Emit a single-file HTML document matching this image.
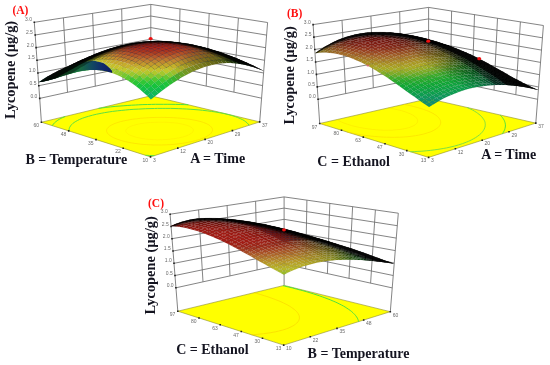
<!DOCTYPE html>
<html><head><meta charset="utf-8"><style>
html,body{margin:0;padding:0;background:#fff;}
svg{display:block;}
</style></head><body>
<svg width="550" height="365" viewBox="0 0 550 365">
<rect width="550" height="365" fill="#fff"/>
<path d="M39.7 98.4L150.8 74M150.8 74L261.6 98.2M38.8 85.7L150.8 62.4M150.8 62.4L262.6 85.6M37.9 73L150.8 50.8M150.8 50.8L263.6 73M37 60.3L150.8 39.2M150.8 39.2L264.6 60.3M36.1 47.6L150.8 27.6M150.8 27.6L265.6 47.7M35.2 35L150.8 16M150.8 16L266.6 35.1M34.3 22.3L150.8 4.4M150.8 4.4L267.6 22.5M67.5 92.3L63.4 17.8M95.3 86.2L92.6 13.3M123 80.1L121.7 8.9M233.9 92.1L238.4 18M206.2 86.1L209.2 13.4M178.5 80L180 8.9M41.4 122.2L34.3 22.3M150.8 95.8L150.8 4.4M259.7 121.9L267.6 22.5" stroke="#6e6e6e" stroke-width="0.85" fill="none"/>
<polygon points="41.4,122.2 150.5,156.9 259.7,121.9 150.8,95.8" fill="#ffff00" stroke="#8c8c30" stroke-width="0.6"/>
<path d="M188.3 104.8L184.8 104.6L180.2 104.5L175.4 104.4L172 104.3L167.9 104.3L163.3 104.3L160 104.3L155.3 104.3L151.4 104.4L147.7 104.5L142.9 104.6L138.8 104.8L135.4 105L131.5 105.2L127.2 105.5L123.1 105.8L119 106.1L115.1 106.4L110.5 106.9L105.9 107.4L102.3 107.9L98.5 108.4" fill="none" stroke="#50e040" stroke-width="1.0"/>
<path d="M65.2 116.5L62.8 117.5L60.9 118.4L59.1 119.4L57.2 120.6L55.7 121.8L54.5 122.8L53.6 123.8L52.7 125L52.3 125.7" fill="none" stroke="#50e040" stroke-width="1.0"/>
<path d="M145.6 155.3L149.5 155.5L154.6 155.6L154.6 155.6" fill="none" stroke="#60e040" stroke-width="1.0"/>
<path d="M249.1 125.3L248.2 124L247.1 122.9L245.8 121.8L244.3 120.7L242.6 119.7L240.7 118.8L237.7 117.5L235.5 116.7L231.9 115.5L228 114.5L223.9 113.5L219.4 112.7L215 111.9L211.4 111.4L207.8 110.9L202.6 110.3L198.9 109.9L195 109.6L190.9 109.3L186.7 109L182.3 108.8L178.2 108.6L175 108.5L170.6 108.4L165.9 108.4L162.9 108.4L157.6 108.4L154.5 108.5L150 108.6L145.3 108.7L142 108.9L138.3 109.1L133.9 109.3L129.8 109.6L125.7 110L121.8 110.4L117.6 110.8L112.7 111.4L109.2 111.9L104.3 112.7L101.2 113.3L96.7 114.2L92.5 115.2L88.5 116.3L84.9 117.4L82.6 118.2L79.4 119.5L77.5 120.5L75.8 121.4L74.1 122.5L72.6 123.6L71.5 124.7L70.5 126L69.7 127.3L69.3 128.3L69.1 129.4L69.1 130.8L69.2 131" fill="none" stroke="#60e040" stroke-width="1.0"/>
<path d="M124.6 120.7L120.3 121.7L116.5 122.9L114.2 123.7L111.6 125L109.5 126.2L108.2 127.4L107.3 128.4L106.8 129.3L106.6 130.8L106.7 131.7L107.4 133.1L108.5 134.4L110 135.6L111.7 136.7L113.7 137.8L117.2 139.2L121.2 140.5L125.6 141.7L128.8 142.4L134.1 143.3L137.9 143.8L141.9 144.3L146.2 144.6L150.1 144.8L153.3 145L158.5 145L161.6 145L166.6 144.8L170.6 144.6L174.1 144.3L178.1 143.9L182.6 143.3L187.1 142.5L190.5 141.8L195.2 140.7L199.4 139.5L203.2 138.1L206.5 136.5L208.3 135.4L209.9 134.3L211.2 133L212.1 131.6L212.5 130.7L212.5 129.4L212.2 128.4L211.4 127.1L210.2 125.9L208.7 124.8L206.8 123.8L203.6 122.5L201.2 121.7L197.1 120.7L194.1 120.1L189.2 119.2L185.7 118.8L182 118.3L177.8 118L173.7 117.7L169.2 117.5L164.3 117.4L161.4 117.4L156.1 117.4L153 117.5L148.9 117.7L144.5 118L140.4 118.3L136.5 118.8L132.8 119.2L127.7 120.1L124.6 120.7" fill="none" stroke="#fbd800" stroke-width="0.6"/>
<path d="M142.3 123.4L137.4 124.3L133.2 125.4L129.8 126.7L128 127.8L126.6 128.9L125.9 130.3L125.8 131.2L126.5 132.6L127.7 133.8L129.5 134.9L132.9 136.3L137 137.5L142 138.5L145.7 139L149.8 139.4L154.4 139.7L157.9 139.8L162.4 139.7L165.6 139.6L170 139.2L174 138.7L178.8 137.9L182.4 137.1L186.5 135.8L188.9 134.8L191.5 133.2L192.7 132L193.2 131.1L193.3 129.7L192.9 128.8L191.7 127.6L189.7 126.4L186.7 125.3L182.6 124.2L178.2 123.3L174.2 122.8L170.1 122.5L165.7 122.2L162.5 122.2L157.8 122.2L154.6 122.3L150.1 122.5L146 122.9L142.3 123.4" fill="none" stroke="#fde600" stroke-width="0.45"/>
<path d="M38.9 97.6h1.6v1.6h-1.6zM38 84.9h1.6v1.6h-1.6zM37.1 72.2h1.6v1.6h-1.6zM36.2 59.5h1.6v1.6h-1.6zM35.3 46.8h1.6v1.6h-1.6zM34.4 34.2h1.6v1.6h-1.6zM33.5 21.5h1.6v1.6h-1.6zM40.6 121.4h1.6v1.6h-1.6zM67.9 130.1h1.6v1.6h-1.6zM95.2 138.8h1.6v1.6h-1.6zM122.4 147.4h1.6v1.6h-1.6zM149.7 156.1h1.6v1.6h-1.6zM149.7 156.1h1.6v1.6h-1.6zM177 147.3h1.6v1.6h-1.6zM204.3 138.6h1.6v1.6h-1.6zM231.6 129.8h1.6v1.6h-1.6zM258.9 121.1h1.6v1.6h-1.6z" fill="#222"/>
<g stroke="#000" stroke-opacity="0.12" stroke-width="0.3"><polygon points="150.8,67.8 154.5,69.4 150.8,69.6 147.1,68.1" fill="#11285e"/><polygon points="154.5,67.5 158.2,69.1 154.5,69.4 150.8,67.8" fill="#132e6a"/><polygon points="147.1,66.4 150.8,67.8 147.1,68.1 143.3,66.8" fill="#112960"/><polygon points="158.2,67 161.9,68.8 158.2,69.1 154.5,67.5" fill="#153173"/><polygon points="150.8,65.9 154.5,67.5 150.8,67.8 147.1,66.4" fill="#132e6c"/><polygon points="143.3,65 147.1,66.4 143.3,66.8 139.6,65.5" fill="#112a62"/><polygon points="162,66.5 165.7,68.3 161.9,68.8 158.2,67" fill="#16347a"/><polygon points="154.5,65.3 158.2,67 154.5,67.5 150.8,65.9" fill="#153274"/><polygon points="147.1,64.4 150.8,65.9 147.1,66.4 143.3,65" fill="#132e6c"/><polygon points="139.6,63.7 143.3,65 139.6,65.5 135.9,64.3" fill="#122a62"/><polygon points="165.7,65.9 169.4,67.8 165.7,68.3 162,66.5" fill="#17377f"/><polygon points="158.3,64.7 162,66.5 158.2,67 154.5,65.3" fill="#16347a"/><polygon points="150.8,63.7 154.5,65.3 150.8,65.9 147.1,64.4" fill="#153274"/><polygon points="143.3,63 147.1,64.4 143.3,65 139.6,63.7" fill="#132f6d"/><polygon points="135.8,62.5 139.6,63.7 135.9,64.3 132.1,63.2" fill="#122a63"/><polygon points="169.5,65.3 173.2,67.3 169.4,67.8 165.7,65.9" fill="#173882"/><polygon points="162,64 165.7,65.9 162,66.5 158.3,64.7" fill="#17377f"/><polygon points="154.5,63 158.3,64.7 154.5,65.3 150.8,63.7" fill="#16347a"/><polygon points="147,62.2 150.8,63.7 147.1,64.4 143.3,63" fill="#153274"/><polygon points="139.5,61.7 143.3,63 139.6,63.7 135.8,62.5" fill="#132e6c"/><polygon points="132,61.5 135.8,62.5 132.1,63.2 128.3,62.3" fill="#122a62"/><polygon points="165.8,63.3 169.5,65.3 165.7,65.9 162,64" fill="#173883"/><polygon points="158.3,62.3 162,64 158.3,64.7 154.5,63" fill="#17367f"/><polygon points="150.8,61.4 154.5,63 150.8,63.7 147,62.2" fill="#16347a"/><polygon points="143.3,60.9 147,62.2 143.3,63 139.5,61.7" fill="#153173"/><polygon points="135.8,60.6 139.5,61.7 135.8,62.5 132,61.5" fill="#132e6b"/><polygon points="173.2,64.6 176.9,66.7 173.2,67.3 169.5,65.3" fill="#173883"/><polygon points="128.3,60.5 132,61.5 128.3,62.3 124.6,61.5" fill="#112a61"/><polygon points="169.5,62.6 173.2,64.6 169.5,65.3 165.8,63.3" fill="#183a86"/><polygon points="162,61.5 165.8,63.3 162,64 158.3,62.3" fill="#173883"/><polygon points="154.5,60.6 158.3,62.3 154.5,63 150.8,61.4" fill="#17367e"/><polygon points="147,60 150.8,61.4 147,62.2 143.3,60.9" fill="#163479"/><polygon points="139.5,59.6 143.3,60.9 139.5,61.7 135.8,60.6" fill="#143172"/><polygon points="132,59.5 135.8,60.6 132,61.5 128.3,60.5" fill="#132d6a"/><polygon points="177,63.9 180.7,66.1 176.9,66.7 173.2,64.6" fill="#173883"/><polygon points="124.5,59.7 128.3,60.5 124.6,61.5 120.8,60.8" fill="#11295f"/><polygon points="158.3,59.8 162,61.5 158.3,62.3 154.5,60.6" fill="#173882"/><polygon points="150.8,59.1 154.5,60.6 150.8,61.4 147,60" fill="#16367d"/><polygon points="143.3,58.7 147,60 143.3,60.9 139.5,59.6" fill="#153378"/><polygon points="180.8,63.3 184.4,65.5 180.7,66.1 177,63.9" fill="#173883"/><polygon points="173.3,61.9 177,63.9 173.2,64.6 169.5,62.6" fill="#183a88"/><polygon points="165.8,60.7 169.5,62.6 165.8,63.3 162,61.5" fill="#183985"/><polygon points="135.7,58.5 139.5,59.6 135.8,60.6 132,59.5" fill="#143071"/><polygon points="128.2,58.6 132,59.5 128.3,60.5 124.5,59.7" fill="#132c68"/><polygon points="120.7,59.1 124.5,59.7 120.8,60.8 117,60.2" fill="#11285c"/><polygon points="162.1,58.9 165.8,60.7 162,61.5 158.3,59.8" fill="#183984"/><polygon points="154.6,58.2 158.3,59.8 154.5,60.6 150.8,59.1" fill="#173781"/><polygon points="147,57.7 150.8,59.1 147,60 143.3,58.7" fill="#16357c"/><polygon points="139.5,57.5 143.3,58.7 139.5,59.6 135.7,58.5" fill="#153276"/><polygon points="184.5,62.6 188.2,64.9 184.4,65.5 180.8,63.3" fill="#173781"/><polygon points="177.1,61.1 180.8,63.3 177,63.9 173.3,61.9" fill="#183b89"/><polygon points="169.6,59.9 173.3,61.9 169.5,62.6 165.8,60.7" fill="#183a88"/><polygon points="132,57.5 135.7,58.5 132,59.5 128.2,58.6" fill="#142f6e"/><polygon points="124.4,57.9 128.2,58.6 124.5,59.7 120.7,59.1" fill="#122b65"/><polygon points="116.9,58.5 120.7,59.1 117,60.2 113.2,59.8" fill="#102659"/><polygon points="150.8,56.7 154.6,58.2 150.8,59.1 147,57.7" fill="#17367f"/><polygon points="188.3,61.9 192,64.2 188.2,64.9 184.5,62.6" fill="#17367e"/><polygon points="180.9,60.4 184.5,62.6 180.8,63.3 177.1,61.1" fill="#183a87"/><polygon points="173.4,59.1 177.1,61.1 173.3,61.9 169.6,59.9" fill="#183b89"/><polygon points="165.9,58.1 169.6,59.9 165.8,60.7 162.1,58.9" fill="#183a86"/><polygon points="158.3,57.2 162.1,58.9 158.3,59.8 154.6,58.2" fill="#173883"/><polygon points="143.2,56.4 147,57.7 143.3,58.7 139.5,57.5" fill="#16347a"/><polygon points="135.7,56.4 139.5,57.5 135.7,58.5 132,57.5" fill="#153173"/><polygon points="128.2,56.7 132,57.5 128.2,58.6 124.4,57.9" fill="#132e6b"/><polygon points="120.6,57.3 124.4,57.9 120.7,59.1 116.9,58.5" fill="#112a61"/><polygon points="113.1,58.2 116.9,58.5 113.2,59.8 109.4,59.5" fill="#0f2455"/><polygon points="154.6,55.7 158.3,57.2 154.6,58.2 150.8,56.7" fill="#173781"/><polygon points="147,55.3 150.8,56.7 147,57.7 143.2,56.4" fill="#16357d"/><polygon points="192.1,61.3 195.8,63.6 192,64.2 188.3,61.9" fill="#16357c"/><polygon points="184.7,59.7 188.3,61.9 184.5,62.6 180.9,60.4" fill="#183985"/><polygon points="177.2,58.4 180.9,60.4 177.1,61.1 173.4,59.1" fill="#193b8a"/><polygon points="169.6,57.2 173.4,59.1 169.6,59.9 165.9,58.1" fill="#183a87"/><polygon points="162.1,56.3 165.9,58.1 162.1,58.9 158.3,57.2" fill="#183985"/><polygon points="139.5,55.3 143.2,56.4 139.5,57.5 135.7,56.4" fill="#153377"/><polygon points="131.9,55.5 135.7,56.4 132,57.5 128.2,56.7" fill="#143070"/><polygon points="124.4,56 128.2,56.7 124.4,57.9 120.6,57.3" fill="#132c68"/><polygon points="116.8,56.8 120.6,57.3 116.9,58.5 113.1,58.2" fill="#11285d"/><polygon points="109.3,58 113.1,58.2 109.4,59.5 105.6,59.4" fill="#0e224f"/><polygon points="195.9,60.7 199.6,63.1 195.8,63.6 192.1,61.3" fill="#163479"/><polygon points="188.5,59.1 192.1,61.3 188.3,61.9 184.7,59.7" fill="#173882"/><polygon points="181,57.6 184.7,59.7 180.9,60.4 177.2,58.4" fill="#193b8a"/><polygon points="173.4,56.4 177.2,58.4 173.4,59.1 169.6,57.2" fill="#183a88"/><polygon points="165.9,55.4 169.6,57.2 165.9,58.1 162.1,56.3" fill="#183986"/><polygon points="158.4,54.7 162.1,56.3 158.3,57.2 154.6,55.7" fill="#173882"/><polygon points="150.8,54.3 154.6,55.7 150.8,56.7 147,55.3" fill="#17367f"/><polygon points="143.2,54.1 147,55.3 143.2,56.4 139.5,55.3" fill="#16347a"/><polygon points="135.7,54.3 139.5,55.3 135.7,56.4 131.9,55.5" fill="#153274"/><polygon points="128.1,54.7 131.9,55.5 128.2,56.7 124.4,56" fill="#132e6c"/><polygon points="120.6,55.5 124.4,56 120.6,57.3 116.8,56.8" fill="#122a63"/><polygon points="113,56.5 116.8,56.8 113.1,58.2 109.3,58" fill="#102557"/><polygon points="105.5,57.9 109.3,58 105.6,59.4 101.8,59.4" fill="#0d1f48"/><polygon points="199.7,60.2 203.4,62.6 199.6,63.1 195.9,60.7" fill="#153275"/><polygon points="192.3,58.4 195.9,60.7 192.1,61.3 188.5,59.1" fill="#16367e"/><polygon points="184.8,56.9 188.5,59.1 184.7,59.7 181,57.6" fill="#183a87"/><polygon points="177.2,55.6 181,57.6 177.2,58.4 173.4,56.4" fill="#183a88"/><polygon points="169.7,54.6 173.4,56.4 169.6,57.2 165.9,55.4" fill="#183986"/><polygon points="162.2,53.8 165.9,55.4 162.1,56.3 158.4,54.7" fill="#173883"/><polygon points="139.4,53.1 143.2,54.1 139.5,55.3 135.7,54.3" fill="#153376"/><polygon points="131.9,53.4 135.7,54.3 131.9,55.5 128.1,54.7" fill="#143070"/><polygon points="124.3,54.1 128.1,54.7 124.4,56 120.6,55.5" fill="#132c68"/><polygon points="116.8,55.1 120.6,55.5 116.8,56.8 113,56.5" fill="#11285d"/><polygon points="109.3,56.4 113,56.5 109.3,58 105.5,57.9" fill="#0e2250"/><polygon points="101.8,58 105.5,57.9 101.8,59.4 98.1,59.5" fill="#0b1b3f"/><polygon points="154.6,53.3 158.4,54.7 154.6,55.7 150.8,54.3" fill="#173780"/><polygon points="147,53 150.8,54.3 147,55.3 143.2,54.1" fill="#16357c"/><polygon points="203.5,59.7 207.2,62.1 203.4,62.6 199.7,60.2" fill="#143071"/><polygon points="196.1,57.9 199.7,60.2 195.9,60.7 192.3,58.4" fill="#16347a"/><polygon points="188.6,56.3 192.3,58.4 188.5,59.1 184.8,56.9" fill="#173882"/><polygon points="181.1,54.9 184.8,56.9 181,57.6 177.2,55.6" fill="#183a88"/><polygon points="173.5,53.8 177.2,55.6 173.4,56.4 169.7,54.6" fill="#183986"/><polygon points="166,52.9 169.7,54.6 165.9,55.4 162.2,53.8" fill="#173883"/><polygon points="135.6,52.2 139.4,53.1 135.7,54.3 131.9,53.4" fill="#143172"/><polygon points="128.1,52.8 131.9,53.4 128.1,54.7 124.3,54.1" fill="#132e6b"/><polygon points="120.5,53.7 124.3,54.1 120.6,55.5 116.8,55.1" fill="#112a62"/><polygon points="113,54.9 116.8,55.1 113,56.5 109.3,56.4" fill="#0f2556"/><polygon points="105.5,56.4 109.3,56.4 105.5,57.9 101.8,58" fill="#0d1e47"/><polygon points="98,58.3 101.8,58 98.1,59.5 94.3,59.9" fill="#091633"/><polygon points="158.4,52.3 162.2,53.8 158.4,54.7 154.6,53.3" fill="#173780"/><polygon points="143.2,51.9 147,53 143.2,54.1 139.4,53.1" fill="#153378"/><polygon points="150.8,52 154.6,53.3 150.8,54.3 147,53" fill="#16357d"/><polygon points="207.4,59.3 211,61.7 207.2,62.1 203.5,59.7" fill="#132e6c"/><polygon points="199.9,57.4 203.5,59.7 199.7,60.2 196.1,57.9" fill="#153275"/><polygon points="192.4,55.7 196.1,57.9 192.3,58.4 188.6,56.3" fill="#16367d"/><polygon points="184.9,54.3 188.6,56.3 184.8,56.9 181.1,54.9" fill="#183a86"/><polygon points="177.3,53 181.1,54.9 177.2,55.6 173.5,53.8" fill="#183985"/><polygon points="169.8,52.1 173.5,53.8 169.7,54.6 166,52.9" fill="#173883"/><polygon points="131.8,51.5 135.6,52.2 131.9,53.4 128.1,52.8" fill="#132f6d"/><polygon points="124.3,52.3 128.1,52.8 124.3,54.1 120.5,53.7" fill="#122b65"/><polygon points="116.7,53.4 120.5,53.7 116.8,55.1 113,54.9" fill="#10275a"/><polygon points="109.2,54.9 113,54.9 109.3,56.4 105.5,56.4" fill="#0e214d"/><polygon points="101.7,56.6 105.5,56.4 101.8,58 98,58.3" fill="#0b1a3c"/><polygon points="94.2,58.7 98,58.3 94.3,59.9 90.5,60.4" fill="#071025"/><polygon points="162.2,51.3 166,52.9 162.2,53.8 158.4,52.3" fill="#173780"/><polygon points="139.4,51 143.2,51.9 139.4,53.1 135.6,52.2" fill="#153173"/><polygon points="154.6,50.9 158.4,52.3 154.6,53.3 150.8,52" fill="#16367d"/><polygon points="147,50.8 150.8,52 147,53 143.2,51.9" fill="#163479"/><polygon points="211.2,59 214.8,61.4 211,61.7 207.4,59.3" fill="#122c67"/><polygon points="203.7,57 207.4,59.3 203.5,59.7 199.9,57.4" fill="#14306f"/><polygon points="196.2,55.2 199.9,57.4 196.1,57.9 192.4,55.7" fill="#153378"/><polygon points="188.7,53.7 192.4,55.7 188.6,56.3 184.9,54.3" fill="#173781"/><polygon points="181.2,52.4 184.9,54.3 181.1,54.9 177.3,53" fill="#183884"/><polygon points="173.6,51.3 177.3,53 173.5,53.8 169.8,52.1" fill="#173882"/><polygon points="128,50.9 131.8,51.5 128.1,52.8 124.3,52.3" fill="#122c66"/><polygon points="120.5,52 124.3,52.3 120.5,53.7 116.7,53.4" fill="#11285d"/><polygon points="112.9,53.3 116.7,53.4 113,54.9 109.2,54.9" fill="#0e2351"/><polygon points="105.4,55 109.2,54.9 105.5,56.4 101.7,56.6" fill="#0c1c41"/><polygon points="97.9,57 101.7,56.6 98,58.3 94.2,58.7" fill="#08132d"/><polygon points="90.4,59.3 94.2,58.7 90.5,60.4 86.7,61" fill="#030711"/><polygon points="166,50.5 169.8,52.1 166,52.9 162.2,51.3" fill="#17377f"/><polygon points="135.6,50.2 139.4,51 135.6,52.2 131.8,51.5" fill="#142f6e"/><polygon points="158.4,50 162.2,51.3 158.4,52.3 154.6,50.9" fill="#16357c"/><polygon points="150.8,49.7 154.6,50.9 150.8,52 147,50.8" fill="#163479"/><polygon points="143.2,49.8 147,50.8 143.2,51.9 139.4,51" fill="#153274"/><polygon points="215,58.8 218.6,61.2 214.8,61.4 211.2,59" fill="#112960"/><polygon points="207.5,56.7 211.2,59 207.4,59.3 203.7,57" fill="#132d69"/><polygon points="200,54.9 203.7,57 199.9,57.4 196.2,55.2" fill="#143172"/><polygon points="192.5,53.2 196.2,55.2 192.4,55.7 188.7,53.7" fill="#16357b"/><polygon points="185,51.8 188.7,53.7 184.9,54.3 181.2,52.4" fill="#173882"/><polygon points="177.4,50.6 181.2,52.4 177.3,53 173.6,51.3" fill="#173780"/><polygon points="124.2,50.5 128,50.9 124.3,52.3 120.5,52" fill="#11285e"/><polygon points="116.6,51.8 120.5,52 116.7,53.4 112.9,53.3" fill="#0f2453"/><polygon points="109.1,53.4 112.9,53.3 109.2,54.9 105.4,55" fill="#0c1d45"/><polygon points="101.6,55.4 105.4,55 101.7,56.6 97.9,57" fill="#091532"/><polygon points="94.1,57.6 97.9,57 94.2,58.7 90.4,59.3" fill="#040b19"/><polygon points="86.6,60 90.4,59.3 86.7,61 83,61.8" fill="#010204"/><polygon points="169.8,49.7 173.6,51.3 169.8,52.1 166,50.5" fill="#16367e"/><polygon points="131.8,49.6 135.6,50.2 131.8,51.5 128,50.9" fill="#122c67"/><polygon points="162.2,49.1 166,50.5 162.2,51.3 158.4,50" fill="#16357b"/><polygon points="154.6,48.7 158.4,50 154.6,50.9 150.8,49.7" fill="#153378"/><polygon points="147,48.7 150.8,49.7 147,50.8 143.2,49.8" fill="#153173"/><polygon points="139.4,49 143.2,49.8 139.4,51 135.6,50.2" fill="#142f6e"/><polygon points="218.8,58.7 222.4,61.1 218.6,61.2 215,58.8" fill="#102659"/><polygon points="211.4,56.5 215,58.8 211.2,59 207.5,56.7" fill="#112a62"/><polygon points="203.9,54.6 207.5,56.7 203.7,57 200,54.9" fill="#132e6a"/><polygon points="196.4,52.8 200,54.9 196.2,55.2 192.5,53.2" fill="#153173"/><polygon points="188.8,51.3 192.5,53.2 188.7,53.7 185,51.8" fill="#16357d"/><polygon points="181.3,50 185,51.8 181.2,52.4 177.4,50.6" fill="#16367d"/><polygon points="120.4,50.4 124.2,50.5 120.5,52 116.6,51.8" fill="#0f2454"/><polygon points="112.8,51.9 116.6,51.8 112.9,53.3 109.1,53.4" fill="#0d1e47"/><polygon points="105.3,53.7 109.1,53.4 105.4,55 101.6,55.4" fill="#091735"/><polygon points="97.8,55.9 101.6,55.4 97.9,57 94.1,57.6" fill="#050d1e"/><polygon points="90.3,58.3 94.1,57.6 90.4,59.3 86.6,60" fill="#010204"/><polygon points="82.9,61 86.6,60 83,61.8 79.2,62.7" fill="#010204"/><polygon points="173.7,49 177.4,50.6 173.6,51.3 169.8,49.7" fill="#16357b"/><polygon points="128,49.2 131.8,49.6 128,50.9 124.2,50.5" fill="#11285e"/><polygon points="166.1,48.2 169.8,49.7 166,50.5 162.2,49.1" fill="#163479"/><polygon points="158.5,47.8 162.2,49.1 158.4,50 154.6,48.7" fill="#153376"/><polygon points="150.8,47.6 154.6,48.7 150.8,49.7 147,48.7" fill="#143172"/><polygon points="143.2,47.8 147,48.7 143.2,49.8 139.4,49" fill="#132f6d"/><polygon points="135.6,48.3 139.4,49 135.6,50.2 131.8,49.6" fill="#122c66"/><polygon points="215.2,56.5 218.8,58.7 215,58.8 211.4,56.5" fill="#10275a"/><polygon points="207.7,54.4 211.4,56.5 207.5,56.7 203.9,54.6" fill="#122a63"/><polygon points="200.2,52.5 203.9,54.6 200,54.9 196.4,52.8" fill="#132e6b"/><polygon points="192.7,50.9 196.4,52.8 192.5,53.2 188.8,51.3" fill="#153274"/><polygon points="185.1,49.5 188.8,51.3 185,51.8 181.3,50" fill="#16347a"/><polygon points="116.6,50.4 120.4,50.4 116.6,51.8 112.8,51.9" fill="#0d1e46"/><polygon points="109,52.1 112.8,51.9 109.1,53.4 105.3,53.7" fill="#0a1736"/><polygon points="101.5,54.2 105.3,53.7 101.6,55.4 97.8,55.9" fill="#060e20"/><polygon points="94,56.6 97.8,55.9 94.1,57.6 90.3,58.3" fill="#010204"/><polygon points="86.5,59.2 90.3,58.3 86.6,60 82.9,61" fill="#010204"/><polygon points="222.6,58.8 226.2,61.1 222.4,61.1 218.8,58.7" fill="#0f2352"/><polygon points="177.5,48.4 181.3,50 177.4,50.6 173.7,49" fill="#153378"/><polygon points="124.2,49 128,49.2 124.2,50.5 120.4,50.4" fill="#0f2453"/><polygon points="79.1,62.1 82.9,61 79.2,62.7 75.5,63.8" fill="#010204"/><polygon points="169.9,47.5 173.7,49 169.8,49.7 166.1,48.2" fill="#153376"/><polygon points="162.3,47 166.1,48.2 162.2,49.1 158.5,47.8" fill="#153173"/><polygon points="154.7,46.7 158.5,47.8 154.6,48.7 150.8,47.6" fill="#14306f"/><polygon points="147,46.8 150.8,47.6 147,48.7 143.2,47.8" fill="#132e6b"/><polygon points="139.4,47.2 143.2,47.8 139.4,49 135.6,48.3" fill="#122b64"/><polygon points="131.8,47.9 135.6,48.3 131.8,49.6 128,49.2" fill="#11285d"/><polygon points="211.5,54.4 215.2,56.5 211.4,56.5 207.7,54.4" fill="#10265a"/><polygon points="204,52.4 207.7,54.4 203.9,54.6 200.2,52.5" fill="#122a62"/><polygon points="196.5,50.6 200.2,52.5 196.4,52.8 192.7,50.9" fill="#132e6b"/><polygon points="188.9,49.1 192.7,50.9 188.8,51.3 185.1,49.5" fill="#153274"/><polygon points="112.8,50.6 116.6,50.4 112.8,51.9 109,52.1" fill="#091735"/><polygon points="105.2,52.6 109,52.1 105.3,53.7 101.5,54.2" fill="#060e20"/><polygon points="97.7,54.9 101.5,54.2 97.8,55.9 94,56.6" fill="#010204"/><polygon points="90.2,57.5 94,56.6 90.3,58.3 86.5,59.2" fill="#010204"/><polygon points="226.4,59 230,61.2 226.2,61.1 222.6,58.8" fill="#0d1f49"/><polygon points="219,56.6 222.6,58.8 218.8,58.7 215.2,56.5" fill="#0e2351"/><polygon points="181.3,47.9 185.1,49.5 181.3,50 177.5,48.4" fill="#153173"/><polygon points="120.4,48.9 124.2,49 120.4,50.4 116.6,50.4" fill="#0c1d45"/><polygon points="82.8,60.3 86.5,59.2 82.9,61 79.1,62.1" fill="#010204"/><polygon points="75.3,63.3 79.1,62.1 75.5,63.8 71.7,65.1" fill="#010204"/><polygon points="173.7,46.9 177.5,48.4 173.7,49 169.9,47.5" fill="#143171"/><polygon points="166.1,46.2 169.9,47.5 166.1,48.2 162.3,47" fill="#14306f"/><polygon points="158.5,45.8 162.3,47 158.5,47.8 154.7,46.7" fill="#132e6b"/><polygon points="150.9,45.8 154.7,46.7 150.8,47.6 147,46.8" fill="#122c67"/><polygon points="143.2,46.1 147,46.8 143.2,47.8 139.4,47.2" fill="#112a61"/><polygon points="135.6,46.7 139.4,47.2 135.6,48.3 131.8,47.9" fill="#10275a"/><polygon points="128,47.6 131.8,47.9 128,49.2 124.2,49" fill="#0e2351"/><polygon points="207.9,52.4 211.5,54.4 207.7,54.4 204,52.4" fill="#102658"/><polygon points="200.3,50.5 204,52.4 200.2,52.5 196.5,50.6" fill="#112961"/><polygon points="192.8,48.9 196.5,50.6 192.7,50.9 188.9,49.1" fill="#132d69"/><polygon points="109,51 112.8,50.6 109,52.1 105.2,52.6" fill="#050c1d"/><polygon points="101.4,53.2 105.2,52.6 101.5,54.2 97.7,54.9" fill="#010204"/><polygon points="93.9,55.7 97.7,54.9 94,56.6 90.2,57.5" fill="#010204"/><polygon points="230.2,59.3 233.8,61.6 230,61.2 226.4,59" fill="#0b1b3f"/><polygon points="222.8,56.8 226.4,59 222.6,58.8 219,56.6" fill="#0d1e47"/><polygon points="215.4,54.5 219,56.6 215.2,56.5 211.5,54.4" fill="#0e224f"/><polygon points="185.2,47.5 188.9,49.1 185.1,49.5 181.3,47.9" fill="#132f6d"/><polygon points="116.5,49.1 120.4,48.9 116.6,50.4 112.8,50.6" fill="#091531"/><polygon points="86.4,58.6 90.2,57.5 86.5,59.2 82.8,60.3" fill="#010204"/><polygon points="79,61.6 82.8,60.3 79.1,62.1 75.3,63.3" fill="#010204"/><polygon points="71.6,64.8 75.3,63.3 71.7,65.1 68,66.5" fill="#010204"/><polygon points="177.6,46.4 181.3,47.9 177.5,48.4 173.7,46.9" fill="#132e6c"/><polygon points="170,45.6 173.7,46.9 169.9,47.5 166.1,46.2" fill="#132d69"/><polygon points="162.3,45.1 166.1,46.2 162.3,47 158.5,45.8" fill="#122c66"/><polygon points="154.7,44.9 158.5,45.8 154.7,46.7 150.9,45.8" fill="#112a62"/><polygon points="147,45.1 150.9,45.8 147,46.8 143.2,46.1" fill="#11285d"/><polygon points="139.4,45.5 143.2,46.1 139.4,47.2 135.6,46.7" fill="#0f2555"/><polygon points="131.8,46.4 135.6,46.7 131.8,47.9 128,47.6" fill="#0e214c"/><polygon points="124.1,47.6 128,47.6 124.2,49 120.4,48.9" fill="#0c1c41"/><polygon points="196.6,48.8 200.3,50.5 196.5,50.6 192.8,48.9" fill="#11285d"/><polygon points="105.2,51.6 109,51 105.2,52.6 101.4,53.2" fill="#010204"/><polygon points="204.2,50.6 207.9,52.4 204,52.4 200.3,50.5" fill="#0f2454"/><polygon points="97.6,54.1 101.4,53.2 97.7,54.9 93.9,55.7" fill="#010204"/><polygon points="234,59.9 237.6,62 233.8,61.6 230.2,59.3" fill="#091633"/><polygon points="226.6,57.2 230.2,59.3 226.4,59 222.8,56.8" fill="#0b193b"/><polygon points="219.2,54.8 222.8,56.8 219,56.6 215.4,54.5" fill="#0c1d43"/><polygon points="211.7,52.6 215.4,54.5 211.5,54.4 207.9,52.4" fill="#0e204c"/><polygon points="189,47.3 192.8,48.9 188.9,49.1 185.2,47.5" fill="#122b64"/><polygon points="112.7,49.5 116.5,49.1 112.8,50.6 109,51" fill="#040916"/><polygon points="90.1,56.8 93.9,55.7 90.2,57.5 86.4,58.6" fill="#010204"/><polygon points="82.7,59.8 86.4,58.6 82.8,60.3 79,61.6" fill="#010204"/><polygon points="75.3,63 79,61.6 75.3,63.3 71.6,64.8" fill="#010204"/><polygon points="67.9,66.4 71.6,64.8 68,66.5 64.3,68" fill="#010204"/><polygon points="181.4,46.1 185.2,47.5 181.3,47.9 177.6,46.4" fill="#122b63"/><polygon points="173.8,45.1 177.6,46.4 173.7,46.9 170,45.6" fill="#112a62"/><polygon points="166.2,44.5 170,45.6 166.1,46.2 162.3,45.1" fill="#11295f"/><polygon points="158.5,44.2 162.3,45.1 158.5,45.8 154.7,44.9" fill="#10275b"/><polygon points="150.9,44.2 154.7,44.9 150.9,45.8 147,45.1" fill="#0f2556"/><polygon points="143.2,44.5 147,45.1 143.2,46.1 139.4,45.5" fill="#0e224f"/><polygon points="135.6,45.2 139.4,45.5 135.6,46.7 131.8,46.4" fill="#0c1e46"/><polygon points="127.9,46.3 131.8,46.4 128,47.6 124.1,47.6" fill="#0a193a"/><polygon points="120.3,47.7 124.1,47.6 120.4,48.9 116.5,49.1" fill="#08122b"/><polygon points="200.5,48.9 204.2,50.6 200.3,50.5 196.6,48.8" fill="#0e214e"/><polygon points="101.4,52.4 105.2,51.6 101.4,53.2 97.6,54.1" fill="#010204"/><polygon points="237.8,60.6 241.4,62.7 237.6,62 234,59.9" fill="#071025"/><polygon points="230.4,57.8 234,59.9 230.2,59.3 226.6,57.2" fill="#08132d"/><polygon points="223,55.3 226.6,57.2 222.8,56.8 219.2,54.8" fill="#091735"/><polygon points="215.5,52.9 219.2,54.8 215.4,54.5 211.7,52.6" fill="#0b1a3d"/><polygon points="208,50.8 211.7,52.6 207.9,52.4 204.2,50.6" fill="#0c1e45"/><polygon points="192.9,47.2 196.6,48.8 192.8,48.9 189,47.3" fill="#0f2556"/><polygon points="108.9,50.1 112.7,49.5 109,51 105.2,51.6" fill="#010204"/><polygon points="93.8,55.1 97.6,54.1 93.9,55.7 90.1,56.8" fill="#010204"/><polygon points="86.4,58.1 90.1,56.8 86.4,58.6 82.7,59.8" fill="#010204"/><polygon points="78.9,61.3 82.7,59.8 79,61.6 75.3,63" fill="#010204"/><polygon points="71.5,64.7 75.3,63 71.6,64.8 67.9,66.4" fill="#010204"/><polygon points="64.2,68.1 67.9,66.4 64.3,68 60.6,69.7" fill="#010504"/><polygon points="185.3,45.9 189,47.3 185.2,47.5 181.4,46.1" fill="#102658"/><polygon points="177.7,44.8 181.4,46.1 177.6,46.4 173.8,45.1" fill="#102557"/><polygon points="170,44 173.8,45.1 170,45.6 166.2,44.5" fill="#0f2455"/><polygon points="162.4,43.5 166.2,44.5 162.3,45.1 158.5,44.2" fill="#0e2351"/><polygon points="154.7,43.4 158.5,44.2 154.7,44.9 150.9,44.2" fill="#0e214c"/><polygon points="147,43.6 150.9,44.2 147,45.1 143.2,44.5" fill="#0c1e45"/><polygon points="139.4,44.2 143.2,44.5 139.4,45.5 135.6,45.2" fill="#0b1a3c"/><polygon points="131.7,45.1 135.6,45.2 131.8,46.4 127.9,46.3" fill="#091530"/><polygon points="124.1,46.4 127.9,46.3 124.1,47.6 120.3,47.7" fill="#060e21"/><polygon points="116.5,48.1 120.3,47.7 116.5,49.1 112.7,49.5" fill="#02050b"/><polygon points="241.6,61.5 245.2,63.5 241.4,62.7 237.8,60.6" fill="#030813"/><polygon points="234.2,58.6 237.8,60.6 234,59.9 230.4,57.8" fill="#050b1b"/><polygon points="226.8,55.9 230.4,57.8 226.6,57.2 223,55.3" fill="#060f23"/><polygon points="219.3,53.4 223,55.3 219.2,54.8 215.5,52.9" fill="#08122b"/><polygon points="211.8,51.1 215.5,52.9 211.7,52.6 208,50.8" fill="#091633"/><polygon points="204.3,49.1 208,50.8 204.2,50.6 200.5,48.9" fill="#0b193b"/><polygon points="97.6,53.5 101.4,52.4 97.6,54.1 93.8,55.1" fill="#010204"/><polygon points="90.1,56.4 93.8,55.1 90.1,56.8 86.4,58.1" fill="#010204"/><polygon points="82.6,59.6 86.4,58.1 82.7,59.8 78.9,61.3" fill="#010204"/><polygon points="75.2,63 78.9,61.3 75.3,63 71.5,64.7" fill="#010204"/><polygon points="67.8,66.5 71.5,64.7 67.9,66.4 64.2,68.1" fill="#010504"/><polygon points="60.5,70 64.2,68.1 60.6,69.7 56.9,71.5" fill="#010504"/><polygon points="196.7,47.3 200.5,48.9 196.6,48.8 192.9,47.2" fill="#0c1c42"/><polygon points="105.1,50.9 108.9,50.1 105.2,51.6 101.4,52.4" fill="#010204"/><polygon points="189.1,45.8 192.9,47.2 189,47.3 185.3,45.9" fill="#0d1f49"/><polygon points="181.5,44.6 185.3,45.9 181.4,46.1 177.7,44.8" fill="#0d1f48"/><polygon points="173.9,43.7 177.7,44.8 173.8,45.1 170,44" fill="#0d1e46"/><polygon points="166.2,43.1 170,44 166.2,44.5 162.4,43.5" fill="#0c1d43"/><polygon points="158.6,42.8 162.4,43.5 158.5,44.2 154.7,43.4" fill="#0b1b3e"/><polygon points="150.9,42.9 154.7,43.4 150.9,44.2 147,43.6" fill="#0a1838"/><polygon points="143.2,43.3 147,43.6 143.2,44.5 139.4,44.2" fill="#08142f"/><polygon points="135.6,44.1 139.4,44.2 135.6,45.2 131.7,45.1" fill="#060f22"/><polygon points="127.9,45.2 131.7,45.1 127.9,46.3 124.1,46.4" fill="#030812"/><polygon points="120.3,46.7 124.1,46.4 120.3,47.7 116.5,48.1" fill="#010204"/><polygon points="112.7,48.6 116.5,48.1 112.7,49.5 108.9,50.1" fill="#010204"/><polygon points="238,59.6 241.6,61.5 237.8,60.6 234.2,58.6" fill="#000102"/><polygon points="230.6,56.8 234.2,58.6 230.4,57.8 226.8,55.9" fill="#02040a"/><polygon points="223.1,54.1 226.8,55.9 223,55.3 219.3,53.4" fill="#030813"/><polygon points="215.6,51.7 219.3,53.4 215.5,52.9 211.8,51.1" fill="#050b1b"/><polygon points="208.1,49.5 211.8,51.1 208,50.8 204.3,49.1" fill="#060f22"/><polygon points="93.8,54.8 97.6,53.5 93.8,55.1 90.1,56.4" fill="#010204"/><polygon points="86.3,57.9 90.1,56.4 86.4,58.1 82.6,59.6" fill="#010204"/><polygon points="78.8,61.3 82.6,59.6 78.9,61.3 75.2,63" fill="#010204"/><polygon points="71.5,64.8 75.2,63 71.5,64.7 67.8,66.5" fill="#010503"/><polygon points="64.1,68.5 67.8,66.5 64.2,68.1 60.5,70" fill="#010504"/><polygon points="245.3,62.6 248.9,64.5 245.2,63.5 241.6,61.5" fill="#000102"/><polygon points="200.6,47.6 204.3,49.1 200.5,48.9 196.7,47.3" fill="#07122a"/><polygon points="185.4,44.6 189.1,45.8 185.3,45.9 181.5,44.6" fill="#091633"/><polygon points="177.7,43.5 181.5,44.6 177.7,44.8 173.9,43.7" fill="#091532"/><polygon points="170.1,42.8 173.9,43.7 170,44 166.2,43.1" fill="#08142f"/><polygon points="162.4,42.3 166.2,43.1 162.4,43.5 158.6,42.8" fill="#08122b"/><polygon points="154.7,42.2 158.6,42.8 154.7,43.4 150.9,42.9" fill="#060f24"/><polygon points="147.1,42.5 150.9,42.9 147,43.6 143.2,43.3" fill="#050b1b"/><polygon points="139.4,43.1 143.2,43.3 139.4,44.2 135.6,44.1" fill="#02060d"/><polygon points="131.7,44.2 135.6,44.1 131.7,45.1 127.9,45.2" fill="#010204"/><polygon points="124.1,45.5 127.9,45.2 124.1,46.4 120.3,46.7" fill="#010204"/><polygon points="116.5,47.3 120.3,46.7 116.5,48.1 112.7,48.6" fill="#010204"/><polygon points="101.3,51.9 105.1,50.9 101.4,52.4 97.6,53.5" fill="#010204"/><polygon points="56.8,72.1 60.5,70 56.9,71.5 53.2,73.4" fill="#010504"/><polygon points="193,46 196.7,47.3 192.9,47.2 189.1,45.8" fill="#091530"/><polygon points="108.9,49.4 112.7,48.6 108.9,50.1 105.1,50.9" fill="#010204"/><polygon points="234.4,57.8 238,59.6 234.2,58.6 230.6,56.8" fill="#000102"/><polygon points="226.9,55.1 230.6,56.8 226.8,55.9 223.1,54.1" fill="#000103"/><polygon points="219.5,52.5 223.1,54.1 219.3,53.4 215.6,51.7" fill="#010103"/><polygon points="212,50.2 215.6,51.7 211.8,51.1 208.1,49.5" fill="#010103"/><polygon points="90,56.3 93.8,54.8 90.1,56.4 86.3,57.9" fill="#010204"/><polygon points="82.5,59.6 86.3,57.9 82.6,59.6 78.8,61.3" fill="#010204"/><polygon points="75.1,63.2 78.8,61.3 75.2,63 71.5,64.8" fill="#000603"/><polygon points="67.7,66.9 71.5,64.8 67.8,66.5 64.1,68.5" fill="#010503"/><polygon points="249.1,63.9 252.7,65.8 248.9,64.5 245.3,62.6" fill="#000102"/><polygon points="241.7,60.8 245.3,62.6 241.6,61.5 238,59.6" fill="#000102"/><polygon points="204.4,48.1 208.1,49.5 204.3,49.1 200.6,47.6" fill="#010306"/><polygon points="181.6,43.5 185.4,44.6 181.5,44.6 177.7,43.5" fill="#030812"/><polygon points="173.9,42.6 177.7,43.5 173.9,43.7 170.1,42.8" fill="#030711"/><polygon points="166.3,42 170.1,42.8 166.2,43.1 162.4,42.3" fill="#02060d"/><polygon points="158.6,41.8 162.4,42.3 158.6,42.8 154.7,42.2" fill="#010306"/><polygon points="150.9,41.9 154.7,42.2 150.9,42.9 147.1,42.5" fill="#010204"/><polygon points="143.2,42.4 147.1,42.5 143.2,43.3 139.4,43.1" fill="#010204"/><polygon points="135.6,43.2 139.4,43.1 135.6,44.1 131.7,44.2" fill="#010204"/><polygon points="127.9,44.5 131.7,44.2 127.9,45.2 124.1,45.5" fill="#010204"/><polygon points="120.3,46.1 124.1,45.5 120.3,46.7 116.5,47.3" fill="#010204"/><polygon points="97.5,53.2 101.3,51.9 97.6,53.5 93.8,54.8" fill="#010204"/><polygon points="60.4,70.7 64.1,68.5 60.5,70 56.8,72.1" fill="#010504"/><polygon points="53.1,74.3 56.8,72.1 53.2,73.4 49.5,75.5" fill="#010504"/><polygon points="189.2,44.8 193,46 189.1,45.8 185.4,44.6" fill="#030711"/><polygon points="112.6,48.1 116.5,47.3 112.7,48.6 108.9,49.4" fill="#010204"/><polygon points="196.8,46.3 200.6,47.6 196.7,47.3 193,46" fill="#02050d"/><polygon points="105.1,50.5 108.9,49.4 105.1,50.9 101.3,51.9" fill="#010204"/><polygon points="230.7,56.2 234.4,57.8 230.6,56.8 226.9,55.1" fill="#000102"/><polygon points="223.3,53.5 226.9,55.1 223.1,54.1 219.5,52.5" fill="#000103"/><polygon points="215.8,51 219.5,52.5 215.6,51.7 212,50.2" fill="#010103"/><polygon points="86.2,58 90,56.3 86.3,57.9 82.5,59.6" fill="#010602"/><polygon points="78.8,61.6 82.5,59.6 78.8,61.3 75.1,63.2" fill="#010602"/><polygon points="71.4,65.3 75.1,63.2 71.5,64.8 67.7,66.9" fill="#000603"/><polygon points="252.8,65.5 256.4,67.3 252.7,65.8 249.1,63.9" fill="#000102"/><polygon points="245.5,62.2 249.1,63.9 245.3,62.6 241.7,60.8" fill="#000102"/><polygon points="238.1,59.1 241.7,60.8 238,59.6 234.4,57.8" fill="#000102"/><polygon points="208.2,48.8 212,50.2 208.1,49.5 204.4,48.1" fill="#010103"/><polygon points="177.8,42.7 181.6,43.5 177.7,43.5 173.9,42.6" fill="#010204"/><polygon points="170.1,41.9 173.9,42.6 170.1,42.8 166.3,42" fill="#010204"/><polygon points="162.4,41.5 166.3,42 162.4,42.3 158.6,41.8" fill="#010204"/><polygon points="154.8,41.5 158.6,41.8 154.7,42.2 150.9,41.9" fill="#010204"/><polygon points="147.1,41.8 150.9,41.9 147.1,42.5 143.2,42.4" fill="#010204"/><polygon points="139.4,42.5 143.2,42.4 139.4,43.1 135.6,43.2" fill="#010204"/><polygon points="131.7,43.5 135.6,43.2 131.7,44.2 127.9,44.5" fill="#010204"/><polygon points="124.1,45 127.9,44.5 124.1,45.5 120.3,46.1" fill="#010204"/><polygon points="93.7,54.7 97.5,53.2 93.8,54.8 90,56.3" fill="#010204"/><polygon points="64,69.2 67.7,66.9 64.1,68.5 60.4,70.7" fill="#010504"/><polygon points="56.7,73 60.4,70.7 56.8,72.1 53.1,74.3" fill="#010504"/><polygon points="49.5,76.7 53.1,74.3 49.5,75.5 45.8,77.6" fill="#031511"/><polygon points="185.4,43.8 189.2,44.8 185.4,44.6 181.6,43.5" fill="#010204"/><polygon points="116.4,46.9 120.3,46.1 116.5,47.3 112.6,48.1" fill="#010204"/><polygon points="200.7,46.8 204.4,48.1 200.6,47.6 196.8,46.3" fill="#010204"/><polygon points="193.1,45.2 196.8,46.3 193,46 189.2,44.8" fill="#010204"/><polygon points="108.8,49.1 112.6,48.1 108.9,49.4 105.1,50.5" fill="#010204"/><polygon points="101.3,51.7 105.1,50.5 101.3,51.9 97.5,53.2" fill="#010204"/><polygon points="227,54.7 230.7,56.2 226.9,55.1 223.3,53.5" fill="#000102"/><polygon points="219.6,52.1 223.3,53.5 219.5,52.5 215.8,51" fill="#000103"/><polygon points="82.5,60 86.2,58 82.5,59.6 78.8,61.6" fill="#010602"/><polygon points="75.1,63.7 78.8,61.6 75.1,63.2 71.4,65.3" fill="#010602"/><polygon points="256.5,67.4 260.1,69 256.4,67.3 252.8,65.5" fill="#000201"/><polygon points="249.2,63.9 252.8,65.5 249.1,63.9 245.5,62.2" fill="#000102"/><polygon points="241.9,60.7 245.5,62.2 241.7,60.8 238.1,59.1" fill="#000102"/><polygon points="234.5,57.6 238.1,59.1 234.4,57.8 230.7,56.2" fill="#000102"/><polygon points="212.1,49.7 215.8,51 212,50.2 208.2,48.8" fill="#010103"/><polygon points="174,42 177.8,42.7 173.9,42.6 170.1,41.9" fill="#010204"/><polygon points="166.3,41.4 170.1,41.9 166.3,42 162.4,41.5" fill="#010204"/><polygon points="158.6,41.2 162.4,41.5 158.6,41.8 154.8,41.5" fill="#010204"/><polygon points="150.9,41.4 154.8,41.5 150.9,41.9 147.1,41.8" fill="#010204"/><polygon points="143.2,41.9 147.1,41.8 143.2,42.4 139.4,42.5" fill="#010204"/><polygon points="135.6,42.8 139.4,42.5 135.6,43.2 131.7,43.5" fill="#010204"/><polygon points="127.9,44.1 131.7,43.5 127.9,44.5 124.1,45" fill="#010204"/><polygon points="89.9,56.5 93.7,54.7 90,56.3 86.2,58" fill="#020601"/><polygon points="67.7,67.6 71.4,65.3 67.7,66.9 64,69.2" fill="#010503"/><polygon points="60.4,71.6 64,69.2 60.4,70.7 56.7,73" fill="#010504"/><polygon points="53.1,75.5 56.7,73 53.1,74.3 49.5,76.7" fill="#031813"/><polygon points="45.8,79.1 49.5,76.7 45.8,77.6 42.2,79.9" fill="#09493a"/><polygon points="181.6,42.9 185.4,43.8 181.6,43.5 177.8,42.7" fill="#010204"/><polygon points="120.2,45.8 124.1,45 120.3,46.1 116.4,46.9" fill="#010204"/><polygon points="204.5,47.6 208.2,48.8 204.4,48.1 200.7,46.8" fill="#010103"/><polygon points="196.9,45.7 200.7,46.8 196.8,46.3 193.1,45.2" fill="#010204"/><polygon points="189.3,44.2 193.1,45.2 189.2,44.8 185.4,43.8" fill="#010204"/><polygon points="112.6,47.9 116.4,46.9 112.6,48.1 108.8,49.1" fill="#010204"/><polygon points="105,50.4 108.8,49.1 105.1,50.5 101.3,51.7" fill="#010204"/><polygon points="97.5,53.2 101.3,51.7 97.5,53.2 93.7,54.7" fill="#050601"/><polygon points="223.4,53.4 227,54.7 223.3,53.5 219.6,52.1" fill="#000103"/><polygon points="78.7,62.2 82.5,60 78.8,61.6 75.1,63.7" fill="#010602"/><polygon points="260.2,69.5 263.7,71 260.1,69 256.5,67.4" fill="#000101"/><polygon points="252.9,65.9 256.5,67.4 252.8,65.5 249.2,63.9" fill="#000201"/><polygon points="245.6,62.5 249.2,63.9 245.5,62.2 241.9,60.7" fill="#000201"/><polygon points="238.2,59.2 241.9,60.7 238.1,59.1 234.5,57.6" fill="#010301"/><polygon points="230.8,56.2 234.5,57.6 230.7,56.2 227,54.7" fill="#000102"/><polygon points="215.9,50.9 219.6,52.1 215.8,51 212.1,49.7" fill="#010103"/><polygon points="170.2,41.6 174,42 170.1,41.9 166.3,41.4" fill="#010204"/><polygon points="162.5,41.2 166.3,41.4 162.4,41.5 158.6,41.2" fill="#010204"/><polygon points="154.8,41.1 158.6,41.2 154.8,41.5 150.9,41.4" fill="#010204"/><polygon points="147.1,41.5 150.9,41.4 147.1,41.8 143.2,41.9" fill="#010204"/><polygon points="139.4,42.2 143.2,41.9 139.4,42.5 135.6,42.8" fill="#010204"/><polygon points="131.7,43.3 135.6,42.8 131.7,43.5 127.9,44.1" fill="#010204"/><polygon points="86.2,58.4 89.9,56.5 86.2,58 82.5,60" fill="#020602"/><polygon points="71.4,66.1 75.1,63.7 71.4,65.3 67.7,67.6" fill="#000603"/><polygon points="64,70.2 67.7,67.6 64,69.2 60.4,71.6" fill="#010503"/><polygon points="56.7,74.3 60.4,71.6 56.7,73 53.1,75.5" fill="#041e18"/><polygon points="49.4,78.2 53.1,75.5 49.5,76.7 45.8,79.1" fill="#094a3a"/><polygon points="42.2,81.8 45.8,79.1 42.2,79.9 38.6,82.3" fill="#0d6c55"/><polygon points="177.8,42.3 181.6,42.9 177.8,42.7 174,42" fill="#010204"/><polygon points="124,44.9 127.9,44.1 124.1,45 120.2,45.8" fill="#010204"/><polygon points="208.3,48.6 212.1,49.7 208.2,48.8 204.5,47.6" fill="#010103"/><polygon points="200.7,46.6 204.5,47.6 200.7,46.8 196.9,45.7" fill="#010204"/><polygon points="193.1,44.8 196.9,45.7 193.1,45.2 189.3,44.2" fill="#010204"/><polygon points="185.5,43.4 189.3,44.2 185.4,43.8 181.6,42.9" fill="#010204"/><polygon points="116.4,46.8 120.2,45.8 116.4,46.9 112.6,47.9" fill="#010204"/><polygon points="108.8,49.2 112.6,47.9 108.8,49.1 105,50.4" fill="#060501"/><polygon points="101.2,51.9 105,50.4 101.3,51.7 97.5,53.2" fill="#060601"/><polygon points="93.7,55 97.5,53.2 93.7,54.7 89.9,56.5" fill="#040601"/><polygon points="256.6,68.2 260.2,69.5 256.5,67.4 252.9,65.9" fill="#000201"/><polygon points="249.3,64.6 252.9,65.9 249.2,63.9 245.6,62.5" fill="#000201"/><polygon points="242,61.2 245.6,62.5 241.9,60.7 238.2,59.2" fill="#000301"/><polygon points="234.6,58 238.2,59.2 234.5,57.6 230.8,56.2" fill="#010301"/><polygon points="227.1,55 230.8,56.2 227,54.7 223.4,53.4" fill="#030301"/><polygon points="219.7,52.3 223.4,53.4 219.6,52.1 215.9,50.9" fill="#040401"/><polygon points="166.3,41.3 170.2,41.6 166.3,41.4 162.5,41.2" fill="#010204"/><polygon points="158.6,41.1 162.5,41.2 158.6,41.2 154.8,41.1" fill="#010204"/><polygon points="150.9,41.3 154.8,41.1 150.9,41.4 147.1,41.5" fill="#010204"/><polygon points="143.2,41.8 147.1,41.5 143.2,41.9 139.4,42.2" fill="#010204"/><polygon points="135.6,42.8 139.4,42.2 135.6,42.8 131.7,43.3" fill="#010204"/><polygon points="82.4,60.7 86.2,58.4 82.5,60 78.7,62.2" fill="#010602"/><polygon points="75,64.6 78.7,62.2 75.1,63.7 71.4,66.1" fill="#010602"/><polygon points="67.7,68.7 71.4,66.1 67.7,67.6 64,70.2" fill="#000503"/><polygon points="60.4,72.9 64,70.2 60.4,71.6 56.7,74.3" fill="#05271e"/><polygon points="53.1,77.1 56.7,74.3 53.1,75.5 49.4,78.2" fill="#094c3c"/><polygon points="45.8,81 49.4,78.2 45.8,79.1 42.2,81.8" fill="#0d6c55"/><polygon points="174,41.9 177.8,42.3 174,42 170.2,41.6" fill="#010204"/><polygon points="127.9,44.1 131.7,43.3 127.9,44.1 124,44.9" fill="#060301"/><polygon points="212.1,49.8 215.9,50.9 212.1,49.7 208.3,48.6" fill="#040401"/><polygon points="204.6,47.6 208.3,48.6 204.5,47.6 200.7,46.6" fill="#050401"/><polygon points="197,45.7 200.7,46.6 196.9,45.7 193.1,44.8" fill="#010204"/><polygon points="189.4,44.1 193.1,44.8 189.3,44.2 185.5,43.4" fill="#010204"/><polygon points="181.7,42.9 185.5,43.4 181.6,42.9 177.8,42.3" fill="#010204"/><polygon points="120.2,45.9 124,44.9 120.2,45.8 116.4,46.8" fill="#060301"/><polygon points="112.6,48.1 116.4,46.8 112.6,47.9 108.8,49.2" fill="#060401"/><polygon points="105,50.7 108.8,49.2 105,50.4 101.2,51.9" fill="#060501"/><polygon points="97.4,53.7 101.2,51.9 97.5,53.2 93.7,55" fill="#060601"/><polygon points="89.9,57 93.7,55 89.9,56.5 86.2,58.4" fill="#030601"/><polygon points="253,66.9 256.6,68.2 252.9,65.9 249.3,64.6" fill="#000201"/><polygon points="245.7,63.4 249.3,64.6 245.6,62.5 242,61.2" fill="#000201"/><polygon points="238.3,60 242,61.2 238.2,59.2 234.6,58" fill="#010301"/><polygon points="230.9,56.9 234.6,58 230.8,56.2 227.1,55" fill="#020301"/><polygon points="162.5,41.3 166.3,41.3 162.5,41.2 158.6,41.1" fill="#050101"/><polygon points="154.8,41.3 158.6,41.1 154.8,41.1 150.9,41.3" fill="#050101"/><polygon points="147.1,41.6 150.9,41.3 147.1,41.5 143.2,41.8" fill="#050101"/><polygon points="139.4,42.4 143.2,41.8 139.4,42.2 135.6,42.8" fill="#050201"/><polygon points="71.3,67.3 75,64.6 71.4,66.1 67.7,68.7" fill="#010e06"/><polygon points="64,71.6 67.7,68.7 64,70.2 60.4,72.9" fill="#053421"/><polygon points="56.7,75.9 60.4,72.9 56.7,74.3 53.1,77.1" fill="#0a5140"/><polygon points="49.5,80.1 53.1,77.1 49.4,78.2 45.8,81" fill="#0d6d56"/><polygon points="170.2,41.7 174,41.9 170.2,41.6 166.3,41.3" fill="#050101"/><polygon points="131.7,43.6 135.6,42.8 131.7,43.3 127.9,44.1" fill="#050201"/><polygon points="223.4,54 227.1,55 223.4,53.4 219.7,52.3" fill="#030401"/><polygon points="215.9,51.3 219.7,52.3 215.9,50.9 212.1,49.8" fill="#040401"/><polygon points="208.4,49 212.1,49.8 208.3,48.6 204.6,47.6" fill="#040301"/><polygon points="200.8,46.9 204.6,47.6 200.7,46.6 197,45.7" fill="#050301"/><polygon points="193.2,45.1 197,45.7 193.1,44.8 189.4,44.1" fill="#050301"/><polygon points="185.6,43.6 189.4,44.1 185.5,43.4 181.7,42.9" fill="#050201"/><polygon points="177.9,42.5 181.7,42.9 177.8,42.3 174,41.9" fill="#050201"/><polygon points="124,45.2 127.9,44.1 124,44.9 120.2,45.9" fill="#060301"/><polygon points="116.4,47.2 120.2,45.9 116.4,46.8 112.6,48.1" fill="#060401"/><polygon points="108.8,49.6 112.6,48.1 108.8,49.2 105,50.7" fill="#060501"/><polygon points="101.2,52.5 105,50.7 101.2,51.9 97.4,53.7" fill="#060601"/><polygon points="93.7,55.7 97.4,53.7 93.7,55 89.9,57" fill="#050601"/><polygon points="86.2,59.3 89.9,57 86.2,58.4 82.4,60.7" fill="#020601"/><polygon points="78.7,63.1 82.4,60.7 78.7,62.2 75,64.6" fill="#010602"/><polygon points="249.3,65.9 253,66.9 249.3,64.6 245.7,63.4" fill="#021006"/><polygon points="242,62.3 245.7,63.4 242,61.2 238.3,60" fill="#020903"/><polygon points="234.6,59 238.3,60 234.6,58 230.9,56.9" fill="#010301"/><polygon points="158.7,41.5 162.5,41.3 158.6,41.1 154.8,41.3" fill="#050101"/><polygon points="151,41.7 154.8,41.3 150.9,41.3 147.1,41.6" fill="#050101"/><polygon points="143.3,42.2 147.1,41.6 143.2,41.8 139.4,42.4" fill="#050101"/><polygon points="67.7,70.2 71.3,67.3 67.7,68.7 64,71.6" fill="#064423"/><polygon points="60.4,74.6 64,71.6 60.4,72.9 56.7,75.9" fill="#0a5744"/><polygon points="53.1,79.1 56.7,75.9 53.1,77.1 49.5,80.1" fill="#0d6f57"/><polygon points="166.4,41.7 170.2,41.7 166.3,41.3 162.5,41.3" fill="#050101"/><polygon points="135.6,43.2 139.4,42.4 135.6,42.8 131.7,43.6" fill="#050201"/><polygon points="227.2,55.9 230.9,56.9 227.1,55 223.4,54" fill="#030301"/><polygon points="212.2,50.5 215.9,51.3 212.1,49.8 208.4,49" fill="#040301"/><polygon points="204.6,48.3 208.4,49 204.6,47.6 200.8,46.9" fill="#050301"/><polygon points="197,46.3 200.8,46.9 197,45.7 193.2,45.1" fill="#050301"/><polygon points="189.4,44.6 193.2,45.1 189.4,44.1 185.6,43.6" fill="#050201"/><polygon points="181.7,43.3 185.6,43.6 181.7,42.9 177.9,42.5" fill="#050201"/><polygon points="174.1,42.3 177.9,42.5 174,41.9 170.2,41.7" fill="#050101"/><polygon points="127.9,44.6 131.7,43.6 127.9,44.1 124,45.2" fill="#050201"/><polygon points="120.2,46.5 124,45.2 120.2,45.9 116.4,47.2" fill="#060301"/><polygon points="112.6,48.7 116.4,47.2 112.6,48.1 108.8,49.6" fill="#060401"/><polygon points="105,51.4 108.8,49.6 105,50.7 101.2,52.5" fill="#060501"/><polygon points="97.4,54.5 101.2,52.5 97.4,53.7 93.7,55.7" fill="#060601"/><polygon points="89.9,58 93.7,55.7 89.9,57 86.2,59.3" fill="#040601"/><polygon points="75,65.9 78.7,63.1 75,64.6 71.3,67.3" fill="#04260d"/><polygon points="219.7,53.1 223.4,54 219.7,52.3 215.9,51.3" fill="#040301"/><polygon points="82.4,61.8 86.2,59.3 82.4,60.7 78.7,63.1" fill="#020602"/><polygon points="245.7,65 249.3,65.9 245.7,63.4 242,62.3" fill="#04210a"/><polygon points="238.3,61.5 242,62.3 238.3,60 234.6,59" fill="#0b2208"/><polygon points="154.8,41.9 158.7,41.5 154.8,41.3 151,41.7" fill="#050101"/><polygon points="147.1,42.3 151,41.7 147.1,41.6 143.3,42.2" fill="#050101"/><polygon points="64,73.4 67.7,70.2 64,71.6 60.4,74.6" fill="#0a6440"/><polygon points="56.7,77.9 60.4,74.6 56.7,75.9 53.1,79.1" fill="#0e725a"/><polygon points="162.5,42 166.4,41.7 162.5,41.3 158.7,41.5" fill="#050101"/><polygon points="139.4,43.1 143.3,42.2 139.4,42.4 135.6,43.2" fill="#050101"/><polygon points="230.9,58.2 234.6,59 230.9,56.9 227.2,55.9" fill="#161f07"/><polygon points="208.4,50 212.2,50.5 208.4,49 204.6,48.3" fill="#040301"/><polygon points="200.8,47.8 204.6,48.3 200.8,46.9 197,46.3" fill="#050301"/><polygon points="193.2,45.9 197,46.3 193.2,45.1 189.4,44.6" fill="#050201"/><polygon points="185.6,44.4 189.4,44.6 185.6,43.6 181.7,43.3" fill="#050201"/><polygon points="177.9,43.2 181.7,43.3 177.9,42.5 174.1,42.3" fill="#050101"/><polygon points="170.2,42.4 174.1,42.3 170.2,41.7 166.4,41.7" fill="#050101"/><polygon points="131.7,44.3 135.6,43.2 131.7,43.6 127.9,44.6" fill="#050201"/><polygon points="124,45.9 127.9,44.6 124,45.2 120.2,46.5" fill="#050201"/><polygon points="116.4,48 120.2,46.5 116.4,47.2 112.6,48.7" fill="#060301"/><polygon points="108.8,50.5 112.6,48.7 108.8,49.6 105,51.4" fill="#060401"/><polygon points="101.2,53.5 105,51.4 101.2,52.5 97.4,54.5" fill="#060501"/><polygon points="93.6,56.8 97.4,54.5 93.7,55.7 89.9,58" fill="#0b0c03"/><polygon points="71.3,68.9 75,65.9 71.3,67.3 67.7,70.2" fill="#085523"/><polygon points="223.5,55.2 227.2,55.9 223.4,54 219.7,53.1" fill="#171705"/><polygon points="216,52.4 219.7,53.1 215.9,51.3 212.2,50.5" fill="#0c0a02"/><polygon points="86.2,60.5 89.9,58 86.2,59.3 82.4,61.8" fill="#132709"/><polygon points="78.7,64.6 82.4,61.8 78.7,63.1 75,65.9" fill="#0b3f12"/><polygon points="242,64.2 245.7,65 242,62.3 238.3,61.5" fill="#0a2f0d"/><polygon points="151,42.6 154.8,41.9 151,41.7 147.1,42.3" fill="#050101"/><polygon points="60.4,76.8 64,73.4 60.4,74.6 56.7,77.9" fill="#0e775e"/><polygon points="158.7,42.5 162.5,42 158.7,41.5 154.8,41.9" fill="#050101"/><polygon points="143.3,43.2 147.1,42.3 143.3,42.2 139.4,43.1" fill="#050101"/><polygon points="234.6,60.8 238.3,61.5 234.6,59 230.9,58.2" fill="#1c340c"/><polygon points="204.6,49.6 208.4,50 204.6,48.3 200.8,47.8" fill="#301e0c"/><polygon points="197.1,47.5 200.8,47.8 197,46.3 193.2,45.9" fill="#281309"/><polygon points="189.4,45.8 193.2,45.9 189.4,44.6 185.6,44.4" fill="#1f0b06"/><polygon points="181.8,44.4 185.6,44.4 181.7,43.3 177.9,43.2" fill="#130503"/><polygon points="174.1,43.4 177.9,43.2 174.1,42.3 170.2,42.4" fill="#0a0201"/><polygon points="166.4,42.7 170.2,42.4 166.4,41.7 162.5,42" fill="#050101"/><polygon points="135.6,44.2 139.4,43.1 135.6,43.2 131.7,44.3" fill="#050101"/><polygon points="127.9,45.6 131.7,44.3 127.9,44.6 124,45.9" fill="#050201"/><polygon points="120.2,47.5 124,45.9 120.2,46.5 116.4,48" fill="#0c0503"/><polygon points="112.6,49.8 116.4,48 112.6,48.7 108.8,50.5" fill="#180f06"/><polygon points="105,52.6 108.8,50.5 105,51.4 101.2,53.5" fill="#261f08"/><polygon points="97.4,55.8 101.2,53.5 97.4,54.5 93.6,56.8" fill="#36340b"/><polygon points="67.7,72.1 71.3,68.9 67.7,70.2 64,73.4" fill="#0a733a"/><polygon points="227.2,57.6 230.9,58.2 227.2,55.9 223.5,55.2" fill="#31370c"/><polygon points="219.7,54.6 223.5,55.2 219.7,53.1 216,52.4" fill="#38330c"/><polygon points="212.2,51.9 216,52.4 212.2,50.5 208.4,50" fill="#36290c"/><polygon points="89.9,59.4 93.6,56.8 89.9,58 86.2,60.5" fill="#344710"/><polygon points="82.4,63.3 86.2,60.5 82.4,61.8 78.7,64.6" fill="#195817"/><polygon points="75,67.6 78.7,64.6 75,65.9 71.3,68.9" fill="#0a6723"/><polygon points="154.8,43.2 158.7,42.5 154.8,41.9 151,42.6" fill="#3a0b08"/><polygon points="147.1,43.5 151,42.6 147.1,42.3 143.3,43.2" fill="#370b08"/><polygon points="238.3,63.7 242,64.2 238.3,61.5 234.6,60.8" fill="#123b0f"/><polygon points="200.9,49.4 204.6,49.6 200.8,47.8 197.1,47.5" fill="#542d13"/><polygon points="193.2,47.4 197.1,47.5 193.2,45.9 189.4,45.8" fill="#532111"/><polygon points="185.6,45.8 189.4,45.8 185.6,44.4 181.8,44.4" fill="#4f170e"/><polygon points="177.9,44.6 181.8,44.4 177.9,43.2 174.1,43.4" fill="#48120b"/><polygon points="170.3,43.7 174.1,43.4 170.2,42.4 166.4,42.7" fill="#420e09"/><polygon points="162.6,43.2 166.4,42.7 162.5,42 158.7,42.5" fill="#3d0c08"/><polygon points="139.4,44.3 143.3,43.2 139.4,43.1 135.6,44.2" fill="#370d08"/><polygon points="131.7,45.5 135.6,44.2 131.7,44.3 127.9,45.6" fill="#38100a"/><polygon points="124.1,47.2 127.9,45.6 124,45.9 120.2,47.5" fill="#3d180c"/><polygon points="116.4,49.3 120.2,47.5 116.4,48 112.6,49.8" fill="#452510"/><polygon points="108.8,51.9 112.6,49.8 108.8,50.5 105,52.6" fill="#4e3713"/><polygon points="101.2,54.9 105,52.6 101.2,53.5 97.4,55.8" fill="#594e13"/><polygon points="64,75.6 67.7,72.1 64,73.4 60.4,76.8" fill="#0d8355"/><polygon points="230.9,60.3 234.6,60.8 230.9,58.2 227.2,57.6" fill="#31440f"/><polygon points="223.5,57.1 227.2,57.6 223.5,55.2 219.7,54.6" fill="#4a4a10"/><polygon points="216,54.2 219.7,54.6 216,52.4 212.2,51.9" fill="#514411"/><polygon points="208.4,51.6 212.2,51.9 208.4,50 204.6,49.6" fill="#533915"/><polygon points="93.7,58.4 97.4,55.8 93.6,56.8 89.9,59.4" fill="#5b6315"/><polygon points="86.2,62.2 89.9,59.4 86.2,60.5 82.4,63.3" fill="#396e1a"/><polygon points="78.7,66.4 82.4,63.3 78.7,64.6 75,67.6" fill="#157923"/><polygon points="71.4,70.9 75,67.6 71.3,68.9 67.7,72.1" fill="#0b8136"/><polygon points="197.1,49.4 200.9,49.4 197.1,47.5 193.2,47.4" fill="#6f3318"/><polygon points="189.4,47.5 193.2,47.4 189.4,45.8 185.6,45.8" fill="#712715"/><polygon points="181.8,46.1 185.6,45.8 181.8,44.4 177.9,44.6" fill="#6f1d12"/><polygon points="174.1,45 177.9,44.6 174.1,43.4 170.3,43.7" fill="#6b1810"/><polygon points="166.4,44.3 170.3,43.7 166.4,42.7 162.6,43.2" fill="#67150e"/><polygon points="158.7,44 162.6,43.2 158.7,42.5 154.8,43.2" fill="#63130d"/><polygon points="151,44.1 154.8,43.2 151,42.6 147.1,43.5" fill="#61130d"/><polygon points="143.3,44.7 147.1,43.5 143.3,43.2 139.4,44.3" fill="#5f140e"/><polygon points="135.6,45.7 139.4,44.3 135.6,44.2 131.7,45.5" fill="#5d180f"/><polygon points="127.9,47.2 131.7,45.5 127.9,45.6 124.1,47.2" fill="#5e1e11"/><polygon points="120.2,49.1 124.1,47.2 120.2,47.5 116.4,49.3" fill="#642d16"/><polygon points="112.6,51.5 116.4,49.3 112.6,49.8 108.8,51.9" fill="#6c421a"/><polygon points="105,54.3 108.8,51.9 105,52.6 101.2,54.9" fill="#745b1a"/><polygon points="234.6,63.3 238.3,63.7 234.6,60.8 230.9,60.3" fill="#224611"/><polygon points="227.2,59.9 230.9,60.3 227.2,57.6 223.5,57.1" fill="#455112"/><polygon points="219.7,56.8 223.5,57.1 219.7,54.6 216,54.2" fill="#5b5413"/><polygon points="212.2,54 216,54.2 212.2,51.9 208.4,51.6" fill="#644d17"/><polygon points="204.6,51.5 208.4,51.6 204.6,49.6 200.9,49.4" fill="#6a411a"/><polygon points="97.4,57.6 101.2,54.9 97.4,55.8 93.7,58.4" fill="#7b751a"/><polygon points="89.9,61.2 93.7,58.4 89.9,59.4 86.2,62.2" fill="#60831d"/><polygon points="82.5,65.3 86.2,62.2 82.4,63.3 78.7,66.4" fill="#278a23"/><polygon points="75.1,69.8 78.7,66.4 75,67.6 71.4,70.9" fill="#0e8f31"/><polygon points="67.7,74.5 71.4,70.9 67.7,72.1 64,75.6" fill="#0c914c"/><polygon points="193.2,49.6 197.1,49.4 193.2,47.4 189.4,47.5" fill="#84361b"/><polygon points="185.6,47.9 189.4,47.5 185.6,45.8 181.8,46.1" fill="#892918"/><polygon points="177.9,46.6 181.8,46.1 177.9,44.6 174.1,45" fill="#862115"/><polygon points="170.3,45.6 174.1,45 170.3,43.7 166.4,44.3" fill="#831c13"/><polygon points="162.6,45.1 166.4,44.3 162.6,43.2 158.7,44" fill="#801911"/><polygon points="139.4,46.1 143.3,44.7 139.4,44.3 135.6,45.7" fill="#791c12"/><polygon points="131.7,47.4 135.6,45.7 131.7,45.5 127.9,47.2" fill="#772114"/><polygon points="124.1,49.1 127.9,47.2 124.1,47.2 120.2,49.1" fill="#7b2f19"/><polygon points="116.4,51.2 120.2,49.1 116.4,49.3 112.6,51.5" fill="#82451e"/><polygon points="108.8,53.8 112.6,51.5 108.8,51.9 105,54.3" fill="#896021"/><polygon points="230.8,63.1 234.6,63.3 230.9,60.3 227.2,59.9" fill="#334f12"/><polygon points="223.4,59.8 227.2,59.9 223.5,57.1 219.7,56.8" fill="#5a5d14"/><polygon points="215.9,56.8 219.7,56.8 216,54.2 212.2,54" fill="#6a5c16"/><polygon points="208.4,54 212.2,54 208.4,51.6 204.6,51.5" fill="#74531c"/><polygon points="200.8,51.6 204.6,51.5 200.9,49.4 197.1,49.4" fill="#7d451d"/><polygon points="154.9,45 158.7,44 154.8,43.2 151,44.1" fill="#7e1811"/><polygon points="147.1,45.3 151,44.1 147.1,43.5 143.3,44.7" fill="#7b1911"/><polygon points="101.2,56.9 105,54.3 101.2,54.9 97.4,57.6" fill="#8f7e1e"/><polygon points="93.7,60.5 97.4,57.6 93.7,58.4 89.9,61.2" fill="#879520"/><polygon points="86.2,64.4 89.9,61.2 86.2,62.2 82.5,65.3" fill="#4b9a25"/><polygon points="78.8,68.7 82.5,65.3 78.7,66.4 75.1,69.8" fill="#189d2e"/><polygon points="71.4,73.4 75.1,69.8 71.4,70.9 67.7,74.5" fill="#0e9d45"/><polygon points="189.4,50 193.2,49.6 189.4,47.5 185.6,47.9" fill="#96381e"/><polygon points="181.8,48.5 185.6,47.9 181.8,46.1 177.9,46.6" fill="#982b1a"/><polygon points="174.1,47.3 177.9,46.6 174.1,45 170.3,45.6" fill="#972417"/><polygon points="166.4,46.5 170.3,45.6 166.4,44.3 162.6,45.1" fill="#951f15"/><polygon points="135.6,47.8 139.4,46.1 135.6,45.7 131.7,47.4" fill="#8c2417"/><polygon points="127.9,49.3 131.7,47.4 127.9,47.2 124.1,49.1" fill="#8c2e1a"/><polygon points="120.2,51.2 124.1,49.1 120.2,49.1 116.4,51.2" fill="#934320"/><polygon points="112.6,53.6 116.4,51.2 112.6,51.5 108.8,53.8" fill="#9a6025"/><polygon points="227.1,63.1 230.8,63.1 227.2,59.9 223.4,59.8" fill="#425713"/><polygon points="219.7,59.8 223.4,59.8 219.7,56.8 215.9,56.8" fill="#676416"/><polygon points="212.2,56.9 215.9,56.8 212.2,54 208.4,54" fill="#77611a"/><polygon points="204.6,54.2 208.4,54 204.6,51.5 200.8,51.6" fill="#835621"/><polygon points="197,52 200.8,51.6 197.1,49.4 193.2,49.6" fill="#8d4720"/><polygon points="158.7,46.2 162.6,45.1 158.7,44 154.9,45" fill="#921d14"/><polygon points="151,46.3 154.9,45 151,44.1 147.1,45.3" fill="#901d14"/><polygon points="143.3,46.8 147.1,45.3 143.3,44.7 139.4,46.1" fill="#8e1f15"/><polygon points="105,56.5 108.8,53.8 105,54.3 101.2,56.9" fill="#a08023"/><polygon points="97.5,59.9 101.2,56.9 97.4,57.6 93.7,60.5" fill="#a39f23"/><polygon points="89.9,63.6 93.7,60.5 89.9,61.2 86.2,64.4" fill="#75a725"/><polygon points="82.5,67.8 86.2,64.4 82.5,65.3 78.8,68.7" fill="#2baa2d"/><polygon points="75.1,72.4 78.8,68.7 75.1,69.8 71.4,73.4" fill="#10a93e"/><polygon points="185.6,50.7 189.4,50 185.6,47.9 181.8,48.5" fill="#a63a20"/><polygon points="177.9,49.2 181.8,48.5 177.9,46.6 174.1,47.3" fill="#a52d1c"/><polygon points="170.3,48.2 174.1,47.3 170.3,45.6 166.4,46.5" fill="#a32619"/><polygon points="131.8,49.8 135.6,47.8 131.7,47.4 127.9,49.3" fill="#992d1b"/><polygon points="124.1,51.5 127.9,49.3 124.1,49.1 120.2,51.2" fill="#9f4221"/><polygon points="116.4,53.6 120.2,51.2 116.4,51.2 112.6,53.6" fill="#a65d27"/><polygon points="223.3,63.3 227.1,63.1 223.4,59.8 219.7,59.8" fill="#4d5b14"/><polygon points="215.9,60.1 219.7,59.8 215.9,56.8 212.2,56.9" fill="#6d6517"/><polygon points="208.4,57.2 212.2,56.9 208.4,54 204.6,54.2" fill="#7f621d"/><polygon points="200.8,54.7 204.6,54.2 200.8,51.6 197,52" fill="#8f5823"/><polygon points="193.2,52.5 197,52 193.2,49.6 189.4,50" fill="#9c4923"/><polygon points="162.6,47.6 166.4,46.5 162.6,45.1 158.7,46.2" fill="#a22317"/><polygon points="154.9,47.5 158.7,46.2 154.9,45 151,46.3" fill="#a02117"/><polygon points="147.2,47.8 151,46.3 147.1,45.3 143.3,46.8" fill="#9e2317"/><polygon points="139.5,48.5 143.3,46.8 139.4,46.1 135.6,47.8" fill="#9b2719"/><polygon points="108.8,56.3 112.6,53.6 108.8,53.8 105,56.5" fill="#ad7e29"/><polygon points="101.2,59.5 105,56.5 101.2,56.9 97.5,59.9" fill="#b1a026"/><polygon points="93.7,63.1 97.5,59.9 93.7,60.5 89.9,63.6" fill="#99b427"/><polygon points="86.2,67.1 89.9,63.6 86.2,64.4 82.5,67.8" fill="#49b62c"/><polygon points="78.8,71.6 82.5,67.8 78.8,68.7 75.1,72.4" fill="#14b537"/><polygon points="181.8,51.5 185.6,50.7 181.8,48.5 177.9,49.2" fill="#ad3b21"/><polygon points="174.1,50.3 177.9,49.2 174.1,47.3 170.3,48.2" fill="#ab2f1d"/><polygon points="127.9,52 131.8,49.8 127.9,49.3 124.1,51.5" fill="#aa4022"/><polygon points="120.3,53.9 124.1,51.5 120.2,51.2 116.4,53.6" fill="#b15a28"/><polygon points="219.6,63.6 223.3,63.3 219.7,59.8 215.9,60.1" fill="#586014"/><polygon points="212.1,60.5 215.9,60.1 212.2,56.9 208.4,57.2" fill="#726618"/><polygon points="204.6,57.7 208.4,57.2 204.6,54.2 200.8,54.7" fill="#84621f"/><polygon points="197,55.3 200.8,54.7 197,52 193.2,52.5" fill="#945723"/><polygon points="189.4,53.2 193.2,52.5 189.4,50 185.6,50.7" fill="#a34923"/><polygon points="166.4,49.4 170.3,48.2 166.4,46.5 162.6,47.6" fill="#ac2a1b"/><polygon points="158.7,49 162.6,47.6 158.7,46.2 154.9,47.5" fill="#ac271a"/><polygon points="151,49 154.9,47.5 151,46.3 147.2,47.8" fill="#aa2719"/><polygon points="143.3,49.5 147.2,47.8 143.3,46.8 139.5,48.5" fill="#a82a1a"/><polygon points="135.6,50.5 139.5,48.5 135.6,47.8 131.8,49.8" fill="#a52f1d"/><polygon points="112.6,56.4 116.4,53.6 112.6,53.6 108.8,56.3" fill="#b87b2e"/><polygon points="105.1,59.3 108.8,56.3 105,56.5 101.2,59.5" fill="#bda028"/><polygon points="97.5,62.7 101.2,59.5 97.5,59.9 93.7,63.1" fill="#bcbf28"/><polygon points="90,66.6 93.7,63.1 89.9,63.6 86.2,67.1" fill="#72c02c"/><polygon points="82.5,70.9 86.2,67.1 82.5,67.8 78.8,71.6" fill="#27bf35"/><polygon points="177.9,52.6 181.8,51.5 177.9,49.2 174.1,50.3" fill="#ad3c21"/><polygon points="124.1,54.5 127.9,52 124.1,51.5 120.3,53.9" fill="#b75729"/><polygon points="215.8,64.2 219.6,63.6 215.9,60.1 212.1,60.5" fill="#626515"/><polygon points="208.3,61.2 212.1,60.5 208.4,57.2 204.6,57.7" fill="#786919"/><polygon points="200.7,58.5 204.6,57.7 200.8,54.7 197,55.3" fill="#8a6421"/><polygon points="193.2,56.1 197,55.3 193.2,52.5 189.4,53.2" fill="#9b5925"/><polygon points="185.6,54.2 189.4,53.2 185.6,50.7 181.8,51.5" fill="#ab4c25"/><polygon points="170.2,51.5 174.1,50.3 170.3,48.2 166.4,49.4" fill="#aa301d"/><polygon points="162.6,50.8 166.4,49.4 162.6,47.6 158.7,49" fill="#ab2c1c"/><polygon points="154.9,50.6 158.7,49 154.9,47.5 151,49" fill="#ab2b1b"/><polygon points="147.2,50.9 151,49 147.2,47.8 143.3,49.5" fill="#ab2c1c"/><polygon points="139.5,51.6 143.3,49.5 139.5,48.5 135.6,50.5" fill="#aa311e"/><polygon points="131.8,52.8 135.6,50.5 131.8,49.8 127.9,52" fill="#af4022"/><polygon points="116.5,56.7 120.3,53.9 116.4,53.6 112.6,56.4" fill="#be772e"/><polygon points="108.9,59.4 112.6,56.4 108.8,56.3 105.1,59.3" fill="#c49b2c"/><polygon points="101.3,62.6 105.1,59.3 101.2,59.5 97.5,62.7" fill="#c6bd2a"/><polygon points="93.8,66.2 97.5,62.7 93.7,63.1 90,66.6" fill="#95c82c"/><polygon points="86.3,70.4 90,66.6 86.2,67.1 82.5,70.9" fill="#38c833"/><polygon points="212,65 215.8,64.2 212.1,60.5 208.3,61.2" fill="#696a16"/><polygon points="204.5,62 208.3,61.2 204.6,57.7 200.7,58.5" fill="#7e6d1b"/><polygon points="196.9,59.4 200.7,58.5 197,55.3 193.2,56.1" fill="#916723"/><polygon points="189.3,57.2 193.2,56.1 189.4,53.2 185.6,54.2" fill="#a25d26"/><polygon points="181.7,55.3 185.6,54.2 181.8,51.5 177.9,52.6" fill="#b35127"/><polygon points="174.1,54 177.9,52.6 174.1,50.3 170.2,51.5" fill="#af4022"/><polygon points="166.4,53 170.2,51.5 166.4,49.4 162.6,50.8" fill="#ab331e"/><polygon points="158.7,52.5 162.6,50.8 158.7,49 154.9,50.6" fill="#aa301d"/><polygon points="151,52.5 154.9,50.6 151,49 147.2,50.9" fill="#aa301d"/><polygon points="143.3,52.9 147.2,50.9 143.3,49.5 139.5,51.6" fill="#ab341e"/><polygon points="135.6,53.9 139.5,51.6 135.6,50.5 131.8,52.8" fill="#af4022"/><polygon points="128,55.3 131.8,52.8 127.9,52 124.1,54.5" fill="#b65428"/><polygon points="120.3,57.2 124.1,54.5 120.3,53.9 116.5,56.7" fill="#bc702d"/><polygon points="112.7,59.7 116.5,56.7 112.6,56.4 108.9,59.4" fill="#c3922d"/><polygon points="105.1,62.7 108.9,59.4 105.1,59.3 101.3,62.6" fill="#c6b42a"/><polygon points="97.6,66.1 101.3,62.6 97.5,62.7 93.8,66.2" fill="#abc82b"/><polygon points="90.1,70.1 93.8,66.2 90,66.6 86.3,70.4" fill="#55c830"/><polygon points="208.2,65.9 212,65 208.3,61.2 204.5,62" fill="#6f6e17"/><polygon points="200.7,63 204.5,62 200.7,58.5 196.9,59.4" fill="#85721c"/><polygon points="193.1,60.5 196.9,59.4 193.2,56.1 189.3,57.2" fill="#986d25"/><polygon points="185.5,58.4 189.3,57.2 185.6,54.2 181.7,55.3" fill="#ab6429"/><polygon points="177.9,56.7 181.7,55.3 177.9,52.6 174.1,54" fill="#b75728"/><polygon points="170.2,55.5 174.1,54 170.2,51.5 166.4,53" fill="#b14624"/><polygon points="162.6,54.7 166.4,53 162.6,50.8 158.7,52.5" fill="#ae3d21"/><polygon points="154.9,54.4 158.7,52.5 154.9,50.6 151,52.5" fill="#ac3920"/><polygon points="147.2,54.6 151,52.5 147.2,50.9 143.3,52.9" fill="#ad3c21"/><polygon points="139.5,55.2 143.3,52.9 139.5,51.6 135.6,53.9" fill="#b14524"/><polygon points="131.8,56.4 135.6,53.9 131.8,52.8 128,55.3" fill="#b65528"/><polygon points="124.2,58.1 128,55.3 124.1,54.5 120.3,57.2" fill="#bc6d2d"/><polygon points="116.5,60.3 120.3,57.2 116.5,56.7 112.7,59.7" fill="#c28c2e"/><polygon points="108.9,63 112.7,59.7 108.9,59.4 105.1,62.7" fill="#c6ae2a"/><polygon points="101.4,66.2 105.1,62.7 101.3,62.6 97.6,66.1" fill="#bdc82a"/><polygon points="93.8,70 97.6,66.1 93.8,66.2 90.1,70.1" fill="#71c82e"/><polygon points="204.4,67.1 208.2,65.9 204.5,62 200.7,63" fill="#747419"/><polygon points="196.8,64.3 200.7,63 196.9,59.4 193.1,60.5" fill="#8b781e"/><polygon points="189.3,61.9 193.1,60.5 189.3,57.2 185.5,58.4" fill="#a07526"/><polygon points="181.7,59.9 185.5,58.4 181.7,55.3 177.9,56.7" fill="#b46e2c"/><polygon points="174,58.4 177.9,56.7 174.1,54 170.2,55.5" fill="#b85f2a"/><polygon points="166.4,57.3 170.2,55.5 166.4,53 162.6,54.7" fill="#b55027"/><polygon points="158.7,56.7 162.6,54.7 158.7,52.5 154.9,54.4" fill="#b24925"/><polygon points="151,56.6 154.9,54.4 151,52.5 147.2,54.6" fill="#b24824"/><polygon points="143.3,56.9 147.2,54.6 143.3,52.9 139.5,55.2" fill="#b44d26"/><polygon points="135.7,57.8 139.5,55.2 135.6,53.9 131.8,56.4" fill="#b75a29"/><polygon points="128,59.2 131.8,56.4 128,55.3 124.2,58.1" fill="#bc6f2d"/><polygon points="120.4,61.2 124.2,58.1 120.3,57.2 116.5,60.3" fill="#c18a2f"/><polygon points="112.7,63.6 116.5,60.3 112.7,59.7 108.9,63" fill="#c6a92a"/><polygon points="105.2,66.6 108.9,63 105.1,62.7 101.4,66.2" fill="#c6c62a"/><polygon points="97.6,70.1 101.4,66.2 97.6,66.1 93.8,70" fill="#88c82d"/><polygon points="200.5,68.4 204.4,67.1 200.7,63 196.8,64.3" fill="#7b7c1a"/><polygon points="193,65.7 196.8,64.3 193.1,60.5 189.3,61.9" fill="#92811f"/><polygon points="185.4,63.4 189.3,61.9 185.5,58.4 181.7,59.9" fill="#a98027"/><polygon points="162.5,59.3 166.4,57.3 162.6,54.7 158.7,56.7" fill="#b85d2a"/><polygon points="154.9,58.9 158.7,56.7 154.9,54.4 151,56.6" fill="#b75829"/><polygon points="147.2,59 151,56.6 147.2,54.6 143.3,56.9" fill="#b75a29"/><polygon points="139.5,59.6 143.3,56.9 139.5,55.2 135.7,57.8" fill="#b9632b"/><polygon points="116.6,64.5 120.4,61.2 116.5,60.3 112.7,63.6" fill="#c6a72a"/><polygon points="109,67.3 112.7,63.6 108.9,63 105.2,66.6" fill="#c6c22a"/><polygon points="101.4,70.5 105.2,66.6 101.4,66.2 97.6,70.1" fill="#95c82c"/><polygon points="177.8,61.6 181.7,59.9 177.9,56.7 174,58.4" fill="#bf7c2f"/><polygon points="170.2,60.2 174,58.4 170.2,55.5 166.4,57.3" fill="#bb6a2c"/><polygon points="131.8,60.7 135.7,57.8 131.8,56.4 128,59.2" fill="#bd742e"/><polygon points="124.2,62.3 128,59.2 124.2,58.1 120.4,61.2" fill="#c28b2e"/><polygon points="196.7,69.9 200.5,68.4 196.8,64.3 193,65.7" fill="#7c821c"/><polygon points="189.2,67.3 193,65.7 189.3,61.9 185.4,63.4" fill="#9a8c21"/><polygon points="181.6,65.1 185.4,63.4 181.7,59.9 177.8,61.6" fill="#b28e28"/><polygon points="174,63.4 177.8,61.6 174,58.4 170.2,60.2" fill="#c1872f"/><polygon points="166.3,62.2 170.2,60.2 166.4,57.3 162.5,59.3" fill="#be782e"/><polygon points="158.7,61.5 162.5,59.3 158.7,56.7 154.9,58.9" fill="#bc6e2d"/><polygon points="151,61.3 154.9,58.9 151,56.6 147.2,59" fill="#bb6c2c"/><polygon points="143.4,61.6 147.2,59 143.3,56.9 139.5,59.6" fill="#bd712d"/><polygon points="135.7,62.4 139.5,59.6 135.7,57.8 131.8,60.7" fill="#bf7d2f"/><polygon points="128,63.8 131.8,60.7 128,59.2 124.2,62.3" fill="#c2902e"/><polygon points="120.4,65.7 124.2,62.3 120.4,61.2 116.6,64.5" fill="#c6a82a"/><polygon points="112.8,68.2 116.6,64.5 112.7,63.6 109,67.3" fill="#c6c02a"/><polygon points="105.2,71.2 109,67.3 105.2,66.6 101.4,70.5" fill="#9dc82c"/><polygon points="192.9,71.6 196.7,69.9 193,65.7 189.2,67.3" fill="#7c891d"/><polygon points="154.8,64 158.7,61.5 154.9,58.9 151,61.3" fill="#c08230"/><polygon points="147.2,64 151,61.3 147.2,59 143.4,61.6" fill="#c08230"/><polygon points="109.1,72.1 112.8,68.2 109,67.3 105.2,71.2" fill="#a0c82c"/><polygon points="185.3,69.1 189.2,67.3 185.4,63.4 181.6,65.1" fill="#a29822"/><polygon points="177.8,67.1 181.6,65.1 177.8,61.6 174,63.4" fill="#bda028"/><polygon points="170.1,65.5 174,63.4 170.2,60.2 166.3,62.2" fill="#c3952d"/><polygon points="162.5,64.5 166.3,62.2 162.5,59.3 158.7,61.5" fill="#c1882f"/><polygon points="139.5,64.5 143.4,61.6 139.5,59.6 135.7,62.4" fill="#c18a2f"/><polygon points="131.9,65.6 135.7,62.4 131.8,60.7 128,63.8" fill="#c4982c"/><polygon points="124.2,67.2 128,63.8 124.2,62.3 120.4,65.7" fill="#c6ac2a"/><polygon points="116.6,69.4 120.4,65.7 116.6,64.5 112.8,68.2" fill="#c6c12a"/><polygon points="189.1,73.4 192.9,71.6 189.2,67.3 185.3,69.1" fill="#789120"/><polygon points="181.5,71.1 185.3,69.1 181.6,65.1 177.8,67.1" fill="#aaa824"/><polygon points="173.9,69.2 177.8,67.1 174,63.4 170.1,65.5" fill="#c6b22a"/><polygon points="166.3,67.8 170.1,65.5 166.3,62.2 162.5,64.5" fill="#c5a42b"/><polygon points="158.7,67 162.5,64.5 158.7,61.5 154.8,64" fill="#c49a2c"/><polygon points="151,66.6 154.8,64 151,61.3 147.2,64" fill="#c3972d"/><polygon points="143.4,66.9 147.2,64 143.4,61.6 139.5,64.5" fill="#c49a2c"/><polygon points="135.7,67.6 139.5,64.5 135.7,62.4 131.9,65.6" fill="#c5a52b"/><polygon points="128.1,68.9 131.9,65.6 128,63.8 124.2,67.2" fill="#c6b22a"/><polygon points="120.5,70.8 124.2,67.2 120.4,65.7 116.6,69.4" fill="#c6c52a"/><polygon points="112.9,73.3 116.6,69.4 112.8,68.2 109.1,72.1" fill="#9fc82c"/><polygon points="185.2,75.4 189.1,73.4 185.3,69.1 181.5,71.1" fill="#729922"/><polygon points="177.7,73.2 181.5,71.1 177.8,67.1 173.9,69.2" fill="#abb526"/><polygon points="170.1,71.5 173.9,69.2 170.1,65.5 166.3,67.8" fill="#c6bd2a"/><polygon points="162.5,70.3 166.3,67.8 162.5,64.5 158.7,67" fill="#c6b32a"/><polygon points="154.8,69.7 158.7,67 154.8,64 151,66.6" fill="#c6ad2a"/><polygon points="147.2,69.6 151,66.6 147.2,64 143.4,66.9" fill="#c6ad2a"/><polygon points="139.5,70 143.4,66.9 139.5,64.5 135.7,67.6" fill="#c6b12a"/><polygon points="131.9,71 135.7,67.6 131.9,65.6 128.1,68.9" fill="#c6bb2a"/><polygon points="124.3,72.6 128.1,68.9 124.2,67.2 120.5,70.8" fill="#c1c82a"/><polygon points="116.7,74.7 120.5,70.8 116.6,69.4 112.9,73.3" fill="#98c82c"/><polygon points="181.4,77.6 185.2,75.4 181.5,71.1 177.7,73.2" fill="#66a125"/><polygon points="173.8,75.5 177.7,73.2 173.9,69.2 170.1,71.5" fill="#9ebf2a"/><polygon points="166.2,74 170.1,71.5 166.3,67.8 162.5,70.3" fill="#c0c82a"/><polygon points="158.6,73 162.5,70.3 158.7,67 154.8,69.7" fill="#c6c22a"/><polygon points="143.4,72.7 147.2,69.6 143.4,66.9 139.5,70" fill="#c6c02a"/><polygon points="135.7,73.4 139.5,70 135.7,67.6 131.9,71" fill="#c6c72a"/><polygon points="128.1,74.6 131.9,71 128.1,68.9 124.3,72.6" fill="#afc82b"/><polygon points="120.5,76.5 124.3,72.6 120.5,70.8 116.7,74.7" fill="#8cc82d"/><polygon points="151,72.6 154.8,69.7 151,66.6 147.2,69.6" fill="#c6be2a"/><polygon points="177.6,79.9 181.4,77.6 177.7,73.2 173.8,75.5" fill="#52aa29"/><polygon points="170,78 173.8,75.5 170.1,71.5 166.2,74" fill="#8bc82d"/><polygon points="162.4,76.7 166.2,74 162.5,70.3 158.6,73" fill="#a3c82c"/><polygon points="154.8,75.9 158.6,73 154.8,69.7 151,72.6" fill="#b0c82b"/><polygon points="147.2,75.7 151,72.6 147.2,69.6 143.4,72.7" fill="#b3c82b"/><polygon points="139.6,76 143.4,72.7 139.5,70 135.7,73.4" fill="#abc82b"/><polygon points="131.9,77 135.7,73.4 131.9,71 128.1,74.6" fill="#99c82c"/><polygon points="124.3,78.5 128.1,74.6 124.3,72.6 120.5,76.5" fill="#78c82e"/><polygon points="173.7,82.4 177.6,79.9 173.8,75.5 170,78" fill="#39b42d"/><polygon points="166.2,80.7 170,78 166.2,74 162.4,76.7" fill="#67c82f"/><polygon points="135.8,79.6 139.6,76 135.7,73.4 131.9,77" fill="#7bc82e"/><polygon points="128.2,80.8 131.9,77 128.1,74.6 124.3,78.5" fill="#5dc830"/><polygon points="158.6,79.5 162.4,76.7 158.6,73 154.8,75.9" fill="#80c82d"/><polygon points="151,78.9 154.8,75.9 151,72.6 147.2,75.7" fill="#8bc82d"/><polygon points="143.4,79 147.2,75.7 143.4,72.7 139.6,76" fill="#8ac82d"/><polygon points="169.9,85 173.7,82.4 170,78 166.2,80.7" fill="#2cbd33"/><polygon points="162.4,83.5 166.2,80.7 162.4,76.7 158.6,79.5" fill="#3ec832"/><polygon points="154.8,82.5 158.6,79.5 154.8,75.9 151,78.9" fill="#52c831"/><polygon points="147.2,82.2 151,78.9 147.2,75.7 143.4,79" fill="#59c830"/><polygon points="139.6,82.4 143.4,79 139.6,76 135.8,79.6" fill="#51c831"/><polygon points="132,83.3 135.8,79.6 131.9,77 128.2,80.8" fill="#3bc832"/><polygon points="166.1,87.7 169.9,85 166.2,80.7 162.4,83.5" fill="#1dc43a"/><polygon points="158.5,86.4 162.4,83.5 158.6,79.5 154.8,82.5" fill="#2ac637"/><polygon points="151,85.7 154.8,82.5 151,78.9 147.2,82.2" fill="#30c735"/><polygon points="143.4,85.6 147.2,82.2 143.4,79 139.6,82.4" fill="#30c735"/><polygon points="135.8,86.1 139.6,82.4 135.8,79.6 132,83.3" fill="#2ac636"/><polygon points="162.3,90.5 166.1,87.7 162.4,83.5 158.5,86.4" fill="#13c141"/><polygon points="154.7,89.4 158.5,86.4 154.8,82.5 151,85.7" fill="#16c33c"/><polygon points="147.2,88.9 151,85.7 147.2,82.2 143.4,85.6" fill="#19c43b"/><polygon points="139.6,89.1 143.4,85.6 139.6,82.4 135.8,86.1" fill="#17c33b"/><polygon points="158.5,93.4 162.3,90.5 158.5,86.4 154.7,89.4" fill="#11be4b"/><polygon points="150.9,92.5 154.7,89.4 151,85.7 147.2,88.9" fill="#12bf47"/><polygon points="143.4,92.4 147.2,88.9 143.4,85.6 139.6,89.1" fill="#12c046"/><polygon points="154.7,96.4 158.5,93.4 154.7,89.4 150.9,92.5" fill="#10ba57"/><polygon points="147.2,95.8 150.9,92.5 147.2,88.9 143.4,92.4" fill="#10bb54"/><polygon points="150.9,99.4 154.7,96.4 150.9,92.5 147.2,95.8" fill="#10b465"/></g>
<linearGradient id="bgA" gradientUnits="userSpaceOnUse" x1="39" y1="0" x2="114" y2="0"><stop offset="0" stop-color="#0a2418"/><stop offset="0.3" stop-color="#145626"/><stop offset="0.55" stop-color="#186a40"/><stop offset="0.7" stop-color="#124a60"/><stop offset="0.85" stop-color="#10286c"/><stop offset="1" stop-color="#0e1a5c"/></linearGradient>
<path d="M38.6 82.3 L39.8 81.9 L41 81.4 L42.2 80.9 L43.4 80.3 L44.7 79.7 L45.9 79.1 L47.1 78.5 L48.3 77.9 L49.5 77.2 L50.8 76.6 L52 75.9 L53.2 75.2 L54.4 74.5 L55.6 73.8 L56.9 73.1 L58.1 72.4 L59.3 71.6 L60.5 70.9 L61.8 70.2 L63 69.5 L64.2 68.8 L65.4 68.1 L66.7 67.6 L67.9 67.1 L69.1 66.6 L70.4 66.1 L71.6 65.7 L72.9 65.2 L74.1 64.8 L75.3 64.3 L76.6 63.9 L77.8 63.5 L79.1 63.1 L80.3 62.8 L81.6 62.5 L82.9 62.3 L84.1 62 L85.4 61.8 L86.6 61.6 L87.9 61.5 L89.2 61.3 L90.4 61.2 L91.7 61.1 L93 61 L94.2 61 L95.5 61.1 L96.8 61.4 L98 61.7 L99.3 62 L100.6 62.3 L101.9 62.7 L103.1 63.1 L104.4 63.8 L105.7 64.8 L107 65.8 L108.3 66.9 L109.5 68 L110.8 69.4 L112.1 71.1 L112.1 73 L110.8 72.6 L109.5 72.2 L108.3 71.9 L107 71.6 L105.7 71.3 L104.4 71 L103.1 70.8 L101.9 70.6 L100.6 70.4 L99.3 70.3 L98 70.2 L96.8 70.1 L95.5 70 L94.2 70 L93 70 L91.7 70 L90.4 70.1 L89.2 70.1 L87.9 70.2 L86.6 70.3 L85.4 70.5 L84.1 70.7 L82.9 70.8 L81.6 71.1 L80.3 71.3 L79.1 71.5 L77.8 71.8 L76.6 72.1 L75.3 72.4 L74.1 72.7 L72.9 73 L71.6 73.3 L70.4 73.7 L69.1 74 L67.9 74.4 L66.7 74.8 L65.4 75.2 L64.2 75.6 L63 75.9 L61.8 76.3 L60.5 76.7 L59.3 77.1 L58.1 77.5 L56.9 77.9 L55.6 78.3 L54.4 78.7 L53.2 79 L52 79.4 L50.8 79.8 L49.5 80.1 L48.3 80.4 L47.1 80.7 L45.9 81 L44.7 81.3 L43.4 81.5 L42.2 81.8 L41 82 L39.8 82.1 L38.6 82.3Z" fill="url(#bgA)"/>
<path d="M39 82 L40 81.4 L41 80.8 L42 79.9 L43 79.3 L44 78.8 L45 78.2 L46 77.6 L47 76.8 L48 76.3 L49 75.7 L50 75.2 L51 74.7 L52 74 L53 73.4 L54 72.9 L55 72.4 L56 72 L57 71.5 L58 70.8 L59 70.3 L60 69.9 L61 69.5 L62 69 L63 68.6 L64 68 L65 67.6 L66 67.2 L67 66.8 L68 66.4 L69 65.7 L70 65.3 L71 64.9 L72 64.5 L73 64 L74 63.4 L75 63 L76 62.5 L77 62.1 L78 61.7 L79 61.3 L80 60.6 L81 60.2 L82 59.8 L83 59.4 L84 58.9 L85 58.5 L86 57.9 L87 57.5 L88 57.1 L89 56.7 L90 56.3 L91 55.9 L92 55.5 L93 54.9 L94 54.5 L95 54.1 L96 53.7 L97 53.4 L98 53 L99 52.6 L100 52.3 L101 51.7 L102 51.4 L103 51 L104 50.7 L105 50.4 L106 50 L107 49.7 L108 49.4 L109 49.1 L110 48.6 L111 48.3 L112 48 L113 47.8 L114 47.5 L115 47.2 L116 46.9 L117 46.7 L118 46.4 L119 46.2 L120 45.8 L121 45.5 L122 45.3 L123 45.1 L124 44.9 L125 44.7 L126 44.5 L127 44.3 L128 44.1 L129 43.9 L130 43.7 L131 43.4 L132 43.3 L133 43.1 L134 42.9 L135 42.8 L136 42.7 L137 42.5 L138 42.4 L139 42.3 L140 42.1 L141 42 L142 41.9 L143 41.8 L144 41.7 L145 41.6 L146 41.5 L147 41.5 L148 41.4 L149 41.3 L150 41.3 L151 41.2 L152 41.2 L153 41.2 L154 41.1 L155 41.1 L156 41.1 L157 41.1 L158 41.1 L159 41.1 L160 41.1 L161 41.1 L162 41.1 L163 41.2 L164 41.2 L165 41.2 L166 41.3 L167 41.3 L168 41.4 L169 41.5 L170 41.6 L171 41.6 L172 41.7 L173 41.8 L174 41.9 L175 42 L176 42.1 L177 42.2 L178 42.3 L179 42.4 L180 42.6 L181 42.8 L182 42.9 L183 43 L184 43.2 L185 43.3 L186 43.5 L187 43.7 L188 43.8 L189 44 L190 44.2 L191 44.4 L192 44.6 L193 44.8 L194 45 L195 45.2 L196 45.5 L197 45.7 L198 45.9 L199 46.1 L200 46.3 L201 46.6 L202 46.9 L203 47.2 L204 47.4 L205 47.7 L206 47.9 L207 48.2 L208 48.4 L209 48.7 L210 49 L211 49.4 L212 49.7 L213 50 L214 50.3 L215 50.6 L216 50.9 L217 51.2 L218 51.6 L219 51.9 L220 52.3 L221 52.6 L222 52.9 L223 53.2 L224 53.6 L225 53.9 L226 54.4 L227 54.7 L228 55.1 L229 55.4 L230 55.8 L231 56.1 L232 56.6 L233 57 L234 57.4 L235 57.8 L236 58.2 L237 58.5 L238 59 L239 59.5 L240 59.9 L241 60.3 L242 60.6 L243 61 L244 61.6 L245 62 L246 62.4 L247 62.8 L248 63.3 L249 63.8 L250 64.3 L251 64.7 L252 65.1 L253 65.5 L254 66 L255 66.6 L256 67 L257 67.5 L258 67.9 L259 68.5 L260 69 L261 69.5 L262 70 L263 70.5 L263.5 71 L262.5 70.4 L261.5 70.1 L260.5 69.7 L259.5 69.3 L258.5 68.8 L257.5 68.5 L256.5 68.2 L255.5 67.8 L254.5 67.4 L253.5 67.1 L252.5 66.8 L251.5 66.5 L250.5 66.3 L249.5 65.9 L248.5 65.6 L247.5 65.4 L246.5 65.2 L245.5 65 L244.5 64.7 L243.5 64.5 L242.5 64.3 L241.5 64.2 L240.5 64 L239.5 63.9 L238.5 63.7 L237.5 63.6 L236.5 63.5 L235.5 63.4 L234.5 63.3 L233.5 63.2 L232.5 63.2 L231.5 63 L230.5 62.5 L229.5 62 L228.5 61.6 L227.5 61.1 L226.5 60.7 L225.5 60.2 L224.5 59.6 L223.5 59.2 L222.5 58.7 L221.5 58.3 L220.5 57.9 L219.5 57.4 L218.5 57 L217.5 56.4 L216.5 56 L215.5 55.6 L214.5 55.2 L213.5 54.8 L212.5 54.4 L211.5 54 L210.5 53.6 L209.5 53.1 L208.5 52.7 L207.5 52.4 L206.5 52 L205.5 51.6 L204.5 51.3 L203.5 50.9 L202.5 50.6 L201.5 50.2 L200.5 49.7 L199.5 49.4 L198.5 49.1 L197.5 48.8 L196.5 48.5 L195.5 48.3 L194.5 48 L193.5 47.7 L192.5 47.4 L191.5 47.1 L190.5 46.8 L189.5 46.6 L188.5 46.3 L187.5 46.1 L186.5 45.8 L185.5 45.6 L184.5 45.4 L183.5 45.2 L182.5 44.9 L181.5 44.7 L180.5 44.5 L179.5 44.3 L178.5 44.1 L177.5 43.9 L176.5 43.7 L175.5 43.5 L174.5 43.4 L173.5 43.3 L172.5 43.2 L171.5 43.1 L170.5 43 L169.5 42.9 L168.5 42.8 L167.5 42.7 L166.5 42.6 L165.5 42.6 L164.5 42.5 L163.5 42.5 L162.5 42.4 L161.5 42.4 L160.5 42.3 L159.5 42.3 L158.5 42.3 L157.5 42.3 L156.5 42.3 L155.5 42.3 L154.5 42.3 L153.5 42.3 L152.5 42.3 L151.5 42.3 L150.5 42.4 L149.5 42.4 L148.5 42.5 L147.5 42.7 L146.5 42.8 L145.5 42.9 L144.5 43.1 L143.5 43.2 L142.5 43.4 L141.5 43.6 L140.5 43.7 L139.5 43.9 L138.5 44.1 L137.5 44.3 L136.5 44.4 L135.5 44.6 L134.5 44.8 L133.5 45.1 L132.5 45.3 L131.5 45.5 L130.5 45.8 L129.5 46 L128.5 46.3 L127.5 46.5 L126.5 46.8 L125.5 47 L124.5 47.3 L123.5 47.6 L122.5 47.9 L121.5 48.3 L120.5 48.6 L119.5 48.9 L118.5 49.4 L117.5 49.7 L116.5 50 L115.5 50.4 L114.5 50.8 L113.5 51.1 L112.5 51.5 L111.5 51.9 L110.5 52.3 L109.5 52.7 L108.5 53.2 L107.5 53.6 L106.5 54 L105.5 54.4 L104.5 54.8 L103.5 55.3 L102.5 55.7 L101.5 56.1 L100.5 56.7 L99.5 57.2 L98.5 57.7 L97.5 58.2 L96.5 58.7 L95.5 59.2 L94.5 59.7 L93.5 60.2 L92.5 60.9 L91.5 61.4 L90.5 61.9 L89.5 62.5 L88.5 63 L87.5 63.5 L86.5 64.1 L85.5 64.8 L84.5 65.4 L83.5 65.9 L82.5 66.4 L81.5 67 L80.5 67.5 L79.5 68.2 L78.5 68.9 L77.5 69.6 L76.5 70.2 L75.5 70.8 L74.5 71.4 L73.5 72.1 L72.5 72.8 L71.5 73.4 L70.5 73.7 L69.5 73.9 L68.5 74.2 L67.5 74.5 L66.5 74.9 L65.5 75.2 L64.5 75.5 L63.5 75.8 L62.5 76 L61.5 76.5 L60.5 76.8 L59.5 77.1 L58.5 77.4 L57.5 77.7 L56.5 78.1 L55.5 78.4 L54.5 78.7 L53.5 78.9 L52.5 79.2 L51.5 79.6 L50.5 79.9 L49.5 80.1 L48.5 80.4 L47.5 80.6 L46.5 80.9 L45.5 81.1 L44.5 81.3 L43.5 81.5 L42.5 81.7 L41.5 81.9 L40.5 82.1 L39.5 82.2Z" fill="#000" fill-opacity="0.35"/>
<path d="M39 82 L40 81.4 L41 80.8 L42 79.9 L43 79.3 L44 78.8 L45 78.2 L46 77.6 L47 76.8 L48 76.3 L49 75.7 L50 75.2 L51 74.7 L52 74 L53 73.4 L54 72.9 L55 72.4 L56 72 L57 71.5 L58 70.8 L59 70.3 L60 69.9 L61 69.5 L62 69 L63 68.6 L64 68 L65 67.6 L66 67.2 L67 66.8 L68 66.4 L69 65.7 L70 65.3 L71 64.9 L72 64.5 L73 64 L74 63.4 L75 63 L76 62.5 L77 62.1 L78 61.7 L79 61.3 L80 60.6 L81 60.2 L82 59.8 L83 59.4 L84 58.9 L85 58.5 L86 57.9 L87 57.5 L88 57.1 L89 56.7 L90 56.3 L91 55.9 L92 55.5 L93 54.9 L94 54.5 L95 54.1 L96 53.7 L97 53.4 L98 53 L99 52.6 L100 52.3 L101 51.7 L102 51.4 L103 51 L104 50.7 L105 50.4 L106 50 L107 49.7 L108 49.4 L109 49.1 L110 48.6 L111 48.3 L112 48 L113 47.8 L114 47.5 L115 47.2 L116 46.9 L117 46.7 L118 46.4 L119 46.2 L120 45.8 L121 45.5 L122 45.3 L123 45.1 L124 44.9 L125 44.7 L126 44.5 L127 44.3 L128 44.1 L129 43.9 L130 43.7 L131 43.4 L132 43.3 L133 43.1 L134 42.9 L135 42.8 L136 42.7 L137 42.5 L138 42.4 L139 42.3 L140 42.1 L141 42 L142 41.9 L143 41.8 L144 41.7 L145 41.6 L146 41.5 L147 41.5 L148 41.4 L149 41.3 L150 41.3 L151 41.2 L152 41.2 L153 41.2 L154 41.1 L155 41.1 L156 41.1 L157 41.1 L158 41.1 L159 41.1 L160 41.1 L161 41.1 L162 41.1 L163 41.2 L164 41.2 L165 41.2 L166 41.3 L167 41.3 L168 41.4 L169 41.5 L170 41.6 L171 41.6 L172 41.7 L173 41.8 L174 41.9 L175 42 L176 42.1 L177 42.2 L178 42.3 L179 42.4 L180 42.6 L181 42.8 L182 42.9 L183 43 L184 43.2 L185 43.3 L186 43.5 L187 43.7 L188 43.8 L189 44 L190 44.2 L191 44.4 L192 44.6 L193 44.8 L194 45 L195 45.2 L196 45.5 L197 45.7 L198 45.9 L199 46.1 L200 46.3 L201 46.6 L202 46.9 L203 47.2 L204 47.4 L205 47.7 L206 47.9 L207 48.2 L208 48.4 L209 48.7 L210 49 L211 49.4 L212 49.7 L213 50 L214 50.3 L215 50.6 L216 50.9 L217 51.2 L218 51.6 L219 51.9 L220 52.3 L221 52.6 L222 52.9 L223 53.2 L224 53.6 L225 53.9 L226 54.4 L227 54.7 L228 55.1 L229 55.4 L230 55.8 L231 56.1 L232 56.6 L233 57 L234 57.4 L235 57.8 L236 58.2 L237 58.5 L238 59 L239 59.5 L240 59.9 L241 60.3 L242 60.6 L243 61 L244 61.6 L245 62 L246 62.4 L247 62.8 L248 63.3 L249 63.8 L250 64.3 L251 64.7 L252 65.1 L253 65.5 L254 66 L255 66.6 L256 67 L257 67.5 L258 67.9 L259 68.5 L260 69 L261 69.5 L262 70 L263 70.5 L263.5 71 L262.5 70.4 L261.5 70.1 L260.5 69.7 L259.5 69.3 L258.5 68.8 L257.5 68.5 L256.5 68.2 L255.5 67.8 L254.5 67.4 L253.5 67.1 L252.5 66.8 L251.5 66.5 L250.5 66.3 L249.5 65.9 L248.5 65.6 L247.5 65.4 L246.5 65.2 L245.5 65 L244.5 64.7 L243.5 64.5 L242.5 64.3 L241.5 64.2 L240.5 64 L239.5 63.8 L238.5 63.4 L237.5 62.8 L236.5 62.3 L235.5 61.9 L234.5 61.5 L233.5 61 L232.5 60.6 L231.5 60 L230.5 59.6 L229.5 59.2 L228.5 58.8 L227.5 58.4 L226.5 58 L225.5 57.6 L224.5 57 L223.5 56.6 L222.5 56.2 L221.5 55.8 L220.5 55.4 L219.5 55.1 L218.5 54.7 L217.5 54.2 L216.5 53.8 L215.5 53.4 L214.5 53.1 L213.5 52.7 L212.5 52.4 L211.5 52 L210.5 51.7 L209.5 51.2 L208.5 50.9 L207.5 50.6 L206.5 50.2 L205.5 49.9 L204.5 49.6 L203.5 49.3 L202.5 49 L201.5 48.7 L200.5 48.3 L199.5 48 L198.5 47.7 L197.5 47.5 L196.5 47.2 L195.5 47 L194.5 46.7 L193.5 46.5 L192.5 46.2 L191.5 45.9 L190.5 45.7 L189.5 45.5 L188.5 45.3 L187.5 45 L186.5 44.8 L185.5 44.6 L184.5 44.4 L183.5 44.2 L182.5 44.1 L181.5 43.9 L180.5 43.6 L179.5 43.5 L178.5 43.3 L177.5 43.2 L176.5 43 L175.5 42.9 L174.5 42.7 L173.5 42.6 L172.5 42.5 L171.5 42.4 L170.5 42.4 L169.5 42.3 L168.5 42.2 L167.5 42.1 L166.5 42 L165.5 42 L164.5 41.9 L163.5 41.9 L162.5 41.9 L161.5 41.8 L160.5 41.8 L159.5 41.8 L158.5 41.8 L157.5 41.7 L156.5 41.7 L155.5 41.8 L154.5 41.8 L153.5 41.8 L152.5 41.8 L151.5 41.8 L150.5 41.9 L149.5 41.9 L148.5 42 L147.5 42.1 L146.5 42.2 L145.5 42.3 L144.5 42.4 L143.5 42.6 L142.5 42.7 L141.5 42.9 L140.5 43 L139.5 43.1 L138.5 43.3 L137.5 43.5 L136.5 43.6 L135.5 43.8 L134.5 44 L133.5 44.1 L132.5 44.3 L131.5 44.5 L130.5 44.8 L129.5 45 L128.5 45.3 L127.5 45.5 L126.5 45.7 L125.5 45.9 L124.5 46.2 L123.5 46.5 L122.5 46.7 L121.5 47 L120.5 47.3 L119.5 47.6 L118.5 48 L117.5 48.3 L116.5 48.6 L115.5 48.9 L114.5 49.2 L113.5 49.6 L112.5 49.9 L111.5 50.2 L110.5 50.6 L109.5 51 L108.5 51.4 L107.5 51.8 L106.5 52.2 L105.5 52.5 L104.5 52.9 L103.5 53.3 L102.5 53.7 L101.5 54.1 L100.5 54.6 L99.5 55.1 L98.5 55.5 L97.5 56 L96.5 56.4 L95.5 56.8 L94.5 57.3 L93.5 57.7 L92.5 58.4 L91.5 58.9 L90.5 59.3 L89.5 59.8 L88.5 60.3 L87.5 60.8 L86.5 61.2 L85.5 61.9 L84.5 62.4 L83.5 62.9 L82.5 63.4 L81.5 63.9 L80.5 64.4 L79.5 65 L78.5 65.6 L77.5 66.2 L76.5 66.7 L75.5 67.2 L74.5 67.7 L73.5 68.4 L72.5 69 L71.5 69.5 L70.5 70 L69.5 70.6 L68.5 71.1 L67.5 71.8 L66.5 72.3 L65.5 72.8 L64.5 73.3 L63.5 73.9 L62.5 74.6 L61.5 75.1 L60.5 75.6 L59.5 76.2 L58.5 76.8 L57.5 77.5 L56.5 78.1 L55.5 78.4 L54.5 78.7 L53.5 78.9 L52.5 79.2 L51.5 79.6 L50.5 79.9 L49.5 80.1 L48.5 80.4 L47.5 80.6 L46.5 80.9 L45.5 81.1 L44.5 81.3 L43.5 81.5 L42.5 81.7 L41.5 81.9 L40.5 82.1 L39.5 82.2Z" fill="#000" fill-opacity="0.8"/>
<ellipse cx="150.6" cy="38.6" rx="2" ry="1.6" fill="#f01010"/>
<g font-family="Liberation Sans, sans-serif" font-size="5" fill="#6a6a6a"><text x="37.4" y="97.5" text-anchor="end">0.0</text><text x="36.5" y="84.8" text-anchor="end">0.5</text><text x="35.6" y="72.1" text-anchor="end">1.0</text><text x="34.7" y="59.4" text-anchor="end">1.5</text><text x="33.8" y="46.7" text-anchor="end">2.0</text><text x="32.9" y="34.1" text-anchor="end">2.5</text><text x="32" y="21.4" text-anchor="end">3.0</text><text x="39" y="127.2" text-anchor="end">60</text><text x="66.3" y="135.9" text-anchor="end">48</text><text x="93.5" y="144.6" text-anchor="end">35</text><text x="120.8" y="153.2" text-anchor="end">22</text><text x="148.1" y="161.9" text-anchor="end">10</text><text x="152.9" y="161.9">3</text><text x="180.2" y="153.2">12</text><text x="207.5" y="144.4">20</text><text x="234.8" y="135.7">29</text><text x="262.1" y="126.9">37</text></g>
<g font-family="Liberation Serif, serif" font-weight="bold" font-size="14" fill="#141420"><text x="25.4" y="164.2">B = Temperature</text><text x="190.2" y="162.5">A = Time</text><text transform="translate(14.8,119.1) rotate(-90)" x="0" y="0" font-size="14.4">Lycopene (µg/g)</text></g>
<text x="12.4" y="13.8" font-family="Liberation Serif, serif" font-weight="bold" font-size="11.5" fill="#ff1010">(A)</text>
<path d="M318.1 99.3L428.6 76.4M428.6 76.4L537.7 99.3M317.3 86.9L428.6 64.9M428.6 64.9L538.6 87M316.4 74.4L428.6 53.4M428.6 53.4L539.6 74.7M315.6 62L428.6 41.9M428.6 41.9L540.5 62.4M314.8 49.5L428.6 30.4M428.6 30.4L541.5 50.1M313.9 37.1L428.6 18.9M428.6 18.9L542.4 37.8M313.1 24.6L428.6 7.4M428.6 7.4L543.4 25.5M345.7 93.6L342 20.3M373.3 87.9L370.9 16M401 82.1L399.7 11.7M515.8 94.7L520.4 21.9M494 90.1L497.5 18.3M472.2 85.5L474.5 14.6M450.4 81L451.6 11M319.7 123.5L313.1 24.6M428.6 98.7L428.6 7.4M535.8 123.1L543.4 25.5" stroke="#6e6e6e" stroke-width="0.85" fill="none"/>
<polygon points="319.7,123.5 428.6,157.4 535.8,123.1 428.6,98.7" fill="#ffff00" stroke="#8c8c30" stroke-width="0.6"/>
<path d="M502.2 133.8L503 132.8L503.6 131.8L504.3 130.5L504.8 129.2L505 128.4L505.3 127L505.4 126L505.4 124.8L505.3 123.9L505 122.5L504.7 121.7L504.3 120.5L503.6 119.3L503.1 118.5L502.4 117.5L501.5 116.4L500.4 115.3L500 115" fill="none" stroke="#50e040" stroke-width="1.0"/>
<path d="M410.3 151.7L414.7 151.6L417.9 151.4L421.9 151.2L426.2 150.8L430.3 150.4L434.2 149.9L437.9 149.4L443.2 148.5L446.6 147.9L451 146.9L454.4 146.1L458.6 144.9L462.6 143.6L466.3 142.2L468.5 141.3L471.7 139.8L473.7 138.7L475.6 137.6L477.8 136.1L479.5 134.8L480.8 133.7L481.8 132.6L482.7 131.5L483.4 130.5L484.2 129.2L484.7 127.9L485 127.1L485.2 125.8L485.3 124.8L485.2 123.6L485.1 122.6L484.7 121.3L484.3 120.4L483.7 119.4L482.9 118.3L482 117.1L481.1 116.2L480.2 115.2L479 114.3L477.7 113.3L476.2 112.2L474.5 111.2L472.7 110.1L471 109.3L469.2 108.4L467.2 107.5" fill="none" stroke="#80e040" stroke-width="1.0"/>
<path d="M346.7 131.9L350.2 132.7L354.7 133.6L358.7 134.4L362.4 135L366.2 135.5L370.2 136L374.4 136.4L378.8 136.8L383.5 137.1L386.6 137.2L391.3 137.3L394.7 137.3L399.5 137.2L403.8 137L407.7 136.7L411.9 136.2L415.5 135.7L418.8 135.1L423.4 134.1L427.4 132.9L431 131.7L433.1 130.7L434.9 129.7L436.9 128.4L438.3 127.3L439.2 126.3L440 125.2L440.5 123.9L440.7 123L440.7 121.7L440.5 120.9L440 119.6L439.3 118.5L438.6 117.6L437.6 116.7L436.4 115.6L434.9 114.6L433 113.4L430.8 112.3L428.9 111.4L426.6 110.5L423.6 109.4L420.2 108.3L417.7 107.6L413.8 106.5L409.7 105.6L406.7 104.9L403.8 104.4" fill="none" stroke="#fad800" stroke-width="0.6"/>
<path d="M321.2 123.2L323.3 124.2L326.6 125.6L327.1 125.8" fill="none" stroke="#fad800" stroke-width="0.6"/>
<path d="M336.8 119.6L338.6 120.6L341.6 122.1L343.9 123L347.6 124.3L351.6 125.6L356.1 126.7L359.2 127.4L364.4 128.3L368.1 128.9L372.1 129.4L376.3 129.8L380.6 130.1L383.6 130.2L388.7 130.2L392.5 130.1L396.3 129.8L401.1 129.3L404.4 128.7L408.7 127.7L412.2 126.4L414.1 125.5L415.6 124.5L416.8 123.3L417.5 122.1L417.7 121.2L417.6 120L417.3 119.2L416.5 118L415.4 116.9L414 115.9L412.4 114.9L410.4 113.9L407.5 112.7L405.2 111.8L401.6 110.7L397.5 109.7L393.9 108.9L389.9 108.2L388.2 107.9" fill="none" stroke="#fae000" stroke-width="0.5"/>
<path d="M317.3 98.5h1.6v1.6h-1.6zM316.5 86.1h1.6v1.6h-1.6zM315.6 73.6h1.6v1.6h-1.6zM314.8 61.2h1.6v1.6h-1.6zM314 48.7h1.6v1.6h-1.6zM313.1 36.3h1.6v1.6h-1.6zM312.3 23.8h1.6v1.6h-1.6zM318.9 122.7h1.6v1.6h-1.6zM340.7 129.5h1.6v1.6h-1.6zM362.5 136.3h1.6v1.6h-1.6zM384.2 143h1.6v1.6h-1.6zM406 149.8h1.6v1.6h-1.6zM427.8 156.6h1.6v1.6h-1.6zM427.8 156.6h1.6v1.6h-1.6zM454.6 148h1.6v1.6h-1.6zM481.4 139.4h1.6v1.6h-1.6zM508.2 130.9h1.6v1.6h-1.6zM535 122.3h1.6v1.6h-1.6z" fill="#222"/>
<g stroke="#000" stroke-opacity="0.12" stroke-width="0.3"><polygon points="428.6,42 432.3,43.6 428.6,43.4 424.8,41.9" fill="#050d1f"/><polygon points="432.3,42.4 436.1,43.9 432.3,43.6 428.6,42" fill="#010308"/><polygon points="424.8,40.6 428.6,42 424.8,41.9 421.1,40.5" fill="#040a16"/><polygon points="436,42.9 439.8,44.5 436.1,43.9 432.3,42.4" fill="#010103"/><polygon points="428.5,41 432.3,42.4 428.6,42 424.8,40.6" fill="#010103"/><polygon points="421,39.3 424.8,40.6 421.1,40.5 417.3,39.2" fill="#02050c"/><polygon points="439.8,43.6 443.5,45.2 439.8,44.5 436,42.9" fill="#000103"/><polygon points="432.3,41.5 436,42.9 432.3,42.4 428.5,41" fill="#010103"/><polygon points="424.8,39.6 428.5,41 424.8,40.6 421,39.3" fill="#010103"/><polygon points="417.2,38.1 421,39.3 417.3,39.2 413.5,37.9" fill="#010204"/><polygon points="443.5,44.5 447.2,46 443.5,45.2 439.8,43.6" fill="#000102"/><polygon points="436,42.2 439.8,43.6 436,42.9 432.3,41.5" fill="#000103"/><polygon points="428.5,40.2 432.3,41.5 428.5,41 424.8,39.6" fill="#010103"/><polygon points="421,38.4 424.8,39.6 421,39.3 417.2,38.1" fill="#010103"/><polygon points="413.4,37 417.2,38.1 413.5,37.9 409.7,36.8" fill="#010204"/><polygon points="447.2,45.5 451,47.1 447.2,46 443.5,44.5" fill="#000102"/><polygon points="439.8,43.1 443.5,44.5 439.8,43.6 436,42.2" fill="#000103"/><polygon points="432.3,40.9 436,42.2 432.3,41.5 428.5,40.2" fill="#010103"/><polygon points="424.7,38.9 428.5,40.2 424.8,39.6 421,38.4" fill="#010103"/><polygon points="417.2,37.3 421,38.4 417.2,38.1 413.4,37" fill="#010204"/><polygon points="409.6,36 413.4,37 409.7,36.8 405.9,35.8" fill="#010204"/><polygon points="443.5,44.1 447.2,45.5 443.5,44.5 439.8,43.1" fill="#000102"/><polygon points="436,41.7 439.8,43.1 436,42.2 432.3,40.9" fill="#000103"/><polygon points="428.5,39.6 432.3,40.9 428.5,40.2 424.7,38.9" fill="#010103"/><polygon points="421,37.8 424.7,38.9 421,38.4 417.2,37.3" fill="#010103"/><polygon points="413.4,36.3 417.2,37.3 413.4,37 409.6,36" fill="#010204"/><polygon points="451,46.7 454.7,48.2 451,47.1 447.2,45.5" fill="#000102"/><polygon points="405.8,35.1 409.6,36 405.9,35.8 402,35" fill="#010204"/><polygon points="447.2,45.3 451,46.7 447.2,45.5 443.5,44.1" fill="#000102"/><polygon points="439.8,42.8 443.5,44.1 439.8,43.1 436,41.7" fill="#000102"/><polygon points="432.3,40.5 436,41.7 432.3,40.9 428.5,39.6" fill="#010103"/><polygon points="424.7,38.5 428.5,39.6 424.7,38.9 421,37.8" fill="#010103"/><polygon points="417.2,36.8 421,37.8 417.2,37.3 413.4,36.3" fill="#010204"/><polygon points="409.6,35.4 413.4,36.3 409.6,36 405.8,35.1" fill="#010204"/><polygon points="454.7,48 458.4,49.5 454.7,48.2 451,46.7" fill="#000102"/><polygon points="402,34.3 405.8,35.1 402,35 398.2,34.2" fill="#010204"/><polygon points="436,41.5 439.8,42.8 436,41.7 432.3,40.5" fill="#000103"/><polygon points="428.5,39.4 432.3,40.5 428.5,39.6 424.7,38.5" fill="#010103"/><polygon points="420.9,37.5 424.7,38.5 421,37.8 417.2,36.8" fill="#010103"/><polygon points="458.4,49.4 462.1,50.9 458.4,49.5 454.7,48" fill="#000102"/><polygon points="451,46.6 454.7,48 451,46.7 447.2,45.3" fill="#000102"/><polygon points="443.5,43.9 447.2,45.3 443.5,44.1 439.8,42.8" fill="#000102"/><polygon points="413.4,35.9 417.2,36.8 413.4,36.3 409.6,35.4" fill="#010204"/><polygon points="405.8,34.6 409.6,35.4 405.8,35.1 402,34.3" fill="#010204"/><polygon points="398.2,33.6 402,34.3 398.2,34.2 394.4,33.6" fill="#010204"/><polygon points="439.8,42.7 443.5,43.9 439.8,42.8 436,41.5" fill="#000102"/><polygon points="432.2,40.4 436,41.5 432.3,40.5 428.5,39.4" fill="#000103"/><polygon points="424.7,38.3 428.5,39.4 424.7,38.5 420.9,37.5" fill="#010103"/><polygon points="417.1,36.6 420.9,37.5 417.2,36.8 413.4,35.9" fill="#010103"/><polygon points="462.1,51 465.8,52.4 462.1,50.9 458.4,49.4" fill="#000201"/><polygon points="454.7,48 458.4,49.4 454.7,48 451,46.6" fill="#010301"/><polygon points="447.3,45.3 451,46.6 447.2,45.3 443.5,43.9" fill="#000102"/><polygon points="409.5,35.1 413.4,35.9 409.6,35.4 405.8,34.6" fill="#010204"/><polygon points="402,33.9 405.8,34.6 402,34.3 398.2,33.6" fill="#010204"/><polygon points="394.3,33.1 398.2,33.6 394.4,33.6 390.6,33" fill="#010204"/><polygon points="428.5,39.4 432.2,40.4 428.5,39.4 424.7,38.3" fill="#010103"/><polygon points="465.8,52.6 469.5,54.1 465.8,52.4 462.1,51" fill="#000201"/><polygon points="458.4,49.6 462.1,51 458.4,49.4 454.7,48" fill="#000301"/><polygon points="451,46.7 454.7,48 451,46.6 447.3,45.3" fill="#010301"/><polygon points="443.5,44 447.3,45.3 443.5,43.9 439.8,42.7" fill="#030301"/><polygon points="436,41.6 439.8,42.7 436,41.5 432.2,40.4" fill="#040401"/><polygon points="420.9,37.4 424.7,38.3 420.9,37.5 417.1,36.6" fill="#010103"/><polygon points="413.3,35.7 417.1,36.6 413.4,35.9 409.5,35.1" fill="#010204"/><polygon points="405.7,34.4 409.5,35.1 405.8,34.6 402,33.9" fill="#010204"/><polygon points="398.1,33.3 402,33.9 398.2,33.6 394.3,33.1" fill="#010204"/><polygon points="390.5,32.7 394.3,33.1 390.6,33 386.7,32.6" fill="#010204"/><polygon points="432.2,40.5 436,41.6 432.2,40.4 428.5,39.4" fill="#040301"/><polygon points="424.7,38.4 428.5,39.4 424.7,38.3 420.9,37.4" fill="#040301"/><polygon points="469.5,54.3 473.2,55.8 469.5,54.1 465.8,52.6" fill="#000201"/><polygon points="462.1,51.2 465.8,52.6 462.1,51 458.4,49.6" fill="#000201"/><polygon points="454.7,48.3 458.4,49.6 454.7,48 451,46.7" fill="#010301"/><polygon points="447.3,45.5 451,46.7 447.3,45.3 443.5,44" fill="#020301"/><polygon points="439.8,42.9 443.5,44 439.8,42.7 436,41.6" fill="#030301"/><polygon points="417.1,36.6 420.9,37.4 417.1,36.6 413.3,35.7" fill="#050301"/><polygon points="409.5,35.1 413.3,35.7 409.5,35.1 405.7,34.4" fill="#010204"/><polygon points="401.9,33.8 405.7,34.4 402,33.9 398.1,33.3" fill="#010204"/><polygon points="394.3,32.9 398.1,33.3 394.3,33.1 390.5,32.7" fill="#010204"/><polygon points="386.7,32.4 390.5,32.7 386.7,32.6 382.9,32.4" fill="#010204"/><polygon points="473.2,56.2 476.9,57.6 473.2,55.8 469.5,54.3" fill="#000201"/><polygon points="465.8,53 469.5,54.3 465.8,52.6 462.1,51.2" fill="#000201"/><polygon points="458.4,49.9 462.1,51.2 458.4,49.6 454.7,48.3" fill="#010301"/><polygon points="451,47.1 454.7,48.3 451,46.7 447.3,45.5" fill="#020301"/><polygon points="443.5,44.4 447.3,45.5 443.5,44 439.8,42.9" fill="#030301"/><polygon points="436,41.9 439.8,42.9 436,41.6 432.2,40.5" fill="#040301"/><polygon points="428.5,39.6 432.2,40.5 428.5,39.4 424.7,38.4" fill="#040301"/><polygon points="420.9,37.6 424.7,38.4 420.9,37.4 417.1,36.6" fill="#040301"/><polygon points="413.3,35.9 417.1,36.6 413.3,35.7 409.5,35.1" fill="#050301"/><polygon points="405.7,34.5 409.5,35.1 405.7,34.4 401.9,33.8" fill="#050201"/><polygon points="398.1,33.4 401.9,33.8 398.1,33.3 394.3,32.9" fill="#050201"/><polygon points="390.5,32.6 394.3,32.9 390.5,32.7 386.7,32.4" fill="#010204"/><polygon points="382.9,32.2 386.7,32.4 382.9,32.4 379.1,32.2" fill="#010204"/><polygon points="476.9,58 480.5,59.5 476.9,57.6 473.2,56.2" fill="#000201"/><polygon points="469.5,54.8 473.2,56.2 469.5,54.3 465.8,53" fill="#000201"/><polygon points="462.2,51.7 465.8,53 462.1,51.2 458.4,49.9" fill="#000201"/><polygon points="454.7,48.7 458.4,49.9 454.7,48.3 451,47.1" fill="#010301"/><polygon points="447.3,45.9 451,47.1 447.3,45.5 443.5,44.4" fill="#020301"/><polygon points="439.8,43.3 443.5,44.4 439.8,42.9 436,41.9" fill="#030301"/><polygon points="417.1,36.9 420.9,37.6 417.1,36.6 413.3,35.9" fill="#040301"/><polygon points="409.5,35.3 413.3,35.9 409.5,35.1 405.7,34.5" fill="#050201"/><polygon points="401.9,34 405.7,34.5 401.9,33.8 398.1,33.4" fill="#050201"/><polygon points="394.3,33.1 398.1,33.4 394.3,32.9 390.5,32.6" fill="#040101"/><polygon points="386.7,32.4 390.5,32.6 386.7,32.4 382.9,32.2" fill="#040101"/><polygon points="379,32.2 382.9,32.2 379.1,32.2 375.2,32.2" fill="#010204"/><polygon points="432.2,41 436,41.9 432.2,40.5 428.5,39.6" fill="#040301"/><polygon points="424.7,38.8 428.5,39.6 424.7,38.4 420.9,37.6" fill="#040301"/><polygon points="480.6,60 484.2,61.4 480.5,59.5 476.9,58" fill="#000201"/><polygon points="473.2,56.7 476.9,58 473.2,56.2 469.5,54.8" fill="#000201"/><polygon points="465.9,53.5 469.5,54.8 465.8,53 462.2,51.7" fill="#000201"/><polygon points="458.5,50.5 462.2,51.7 458.4,49.9 454.7,48.7" fill="#010301"/><polygon points="451,47.6 454.7,48.7 451,47.1 447.3,45.9" fill="#020301"/><polygon points="443.5,44.9 447.3,45.9 443.5,44.4 439.8,43.3" fill="#030301"/><polygon points="413.3,36.3 417.1,36.9 413.3,35.9 409.5,35.3" fill="#050201"/><polygon points="405.7,34.9 409.5,35.3 405.7,34.5 401.9,34" fill="#050201"/><polygon points="398.1,33.7 401.9,34 398.1,33.4 394.3,33.1" fill="#040101"/><polygon points="390.5,32.9 394.3,33.1 390.5,32.6 386.7,32.4" fill="#040101"/><polygon points="382.8,32.4 386.7,32.4 382.9,32.2 379,32.2" fill="#040101"/><polygon points="375.2,32.3 379,32.2 375.2,32.2 371.4,32.3" fill="#040101"/><polygon points="436,42.4 439.8,43.3 436,41.9 432.2,41" fill="#040301"/><polygon points="420.9,38.1 424.7,38.8 420.9,37.6 417.1,36.9" fill="#040301"/><polygon points="428.5,40.1 432.2,41 428.5,39.6 424.7,38.8" fill="#040301"/><polygon points="484.2,62 487.8,63.4 484.2,61.4 480.6,60" fill="#000201"/><polygon points="476.9,58.7 480.6,60 476.9,58 473.2,56.7" fill="#000201"/><polygon points="469.6,55.5 473.2,56.7 469.5,54.8 465.9,53.5" fill="#000201"/><polygon points="462.2,52.4 465.9,53.5 462.2,51.7 458.5,50.5" fill="#010201"/><polygon points="454.7,49.4 458.5,50.5 454.7,48.7 451,47.6" fill="#020301"/><polygon points="447.3,46.6 451,47.6 447.3,45.9 443.5,44.9" fill="#030301"/><polygon points="409.5,35.9 413.3,36.3 409.5,35.3 405.7,34.9" fill="#050201"/><polygon points="401.9,34.5 405.7,34.9 401.9,34 398.1,33.7" fill="#040101"/><polygon points="394.3,33.5 398.1,33.7 394.3,33.1 390.5,32.9" fill="#040101"/><polygon points="386.6,32.8 390.5,32.9 386.7,32.4 382.8,32.4" fill="#040101"/><polygon points="379,32.5 382.8,32.4 379,32.2 375.2,32.3" fill="#040101"/><polygon points="371.4,32.6 375.2,32.3 371.4,32.3 367.6,32.6" fill="#040101"/><polygon points="439.8,44 443.5,44.9 439.8,43.3 436,42.4" fill="#030301"/><polygon points="417.1,37.5 420.9,38.1 417.1,36.9 413.3,36.3" fill="#040201"/><polygon points="432.2,41.6 436,42.4 432.2,41 428.5,40.1" fill="#040301"/><polygon points="424.7,39.4 428.5,40.1 424.7,38.8 420.9,38.1" fill="#040301"/><polygon points="487.9,64 491.5,65.4 487.8,63.4 484.2,62" fill="#000101"/><polygon points="480.6,60.7 484.2,62 480.6,60 476.9,58.7" fill="#000201"/><polygon points="473.3,57.5 476.9,58.7 473.2,56.7 469.6,55.5" fill="#000201"/><polygon points="465.9,54.3 469.6,55.5 465.9,53.5 462.2,52.4" fill="#000201"/><polygon points="458.5,51.3 462.2,52.4 458.5,50.5 454.7,49.4" fill="#010301"/><polygon points="451,48.4 454.7,49.4 451,47.6 447.3,46.6" fill="#020301"/><polygon points="405.7,35.5 409.5,35.9 405.7,34.9 401.9,34.5" fill="#040101"/><polygon points="398.1,34.3 401.9,34.5 398.1,33.7 394.3,33.5" fill="#040101"/><polygon points="390.4,33.4 394.3,33.5 390.5,32.9 386.6,32.8" fill="#040101"/><polygon points="382.8,32.9 386.6,32.8 382.8,32.4 379,32.5" fill="#040101"/><polygon points="375.2,32.7 379,32.5 375.2,32.3 371.4,32.6" fill="#040101"/><polygon points="367.6,33 371.4,32.6 367.6,32.6 363.8,33" fill="#040101"/><polygon points="443.5,45.7 447.3,46.6 443.5,44.9 439.8,44" fill="#030301"/><polygon points="413.3,37 417.1,37.5 413.3,36.3 409.5,35.9" fill="#040201"/><polygon points="436,43.2 439.8,44 436,42.4 432.2,41.6" fill="#040301"/><polygon points="428.5,40.9 432.2,41.6 428.5,40.1 424.7,39.4" fill="#040301"/><polygon points="420.9,38.8 424.7,39.4 420.9,38.1 417.1,37.5" fill="#040201"/><polygon points="491.5,66.1 495.1,67.4 491.5,65.4 487.9,64" fill="#000101"/><polygon points="484.2,62.8 487.9,64 484.2,62 480.6,60.7" fill="#000201"/><polygon points="476.9,59.5 480.6,60.7 476.9,58.7 473.3,57.5" fill="#000201"/><polygon points="469.6,56.3 473.3,57.5 469.6,55.5 465.9,54.3" fill="#000201"/><polygon points="462.2,53.3 465.9,54.3 462.2,52.4 458.5,51.3" fill="#010201"/><polygon points="454.8,50.3 458.5,51.3 454.7,49.4 451,48.4" fill="#020301"/><polygon points="401.9,35.3 405.7,35.5 401.9,34.5 398.1,34.3" fill="#040101"/><polygon points="394.3,34.2 398.1,34.3 394.3,33.5 390.4,33.4" fill="#040101"/><polygon points="386.6,33.5 390.4,33.4 386.6,32.8 382.8,32.9" fill="#040101"/><polygon points="379,33.1 382.8,32.9 379,32.5 375.2,32.7" fill="#040101"/><polygon points="371.4,33.1 375.2,32.7 371.4,32.6 367.6,33" fill="#040101"/><polygon points="363.7,33.5 367.6,33 363.8,33 360,33.6" fill="#040101"/><polygon points="447.3,47.5 451,48.4 447.3,46.6 443.5,45.7" fill="#030301"/><polygon points="409.5,36.7 413.3,37 409.5,35.9 405.7,35.5" fill="#040201"/><polygon points="439.8,44.9 443.5,45.7 439.8,44 436,43.2" fill="#030301"/><polygon points="432.3,42.5 436,43.2 432.2,41.6 428.5,40.9" fill="#040301"/><polygon points="424.7,40.3 428.5,40.9 424.7,39.4 420.9,38.8" fill="#040201"/><polygon points="417.1,38.4 420.9,38.8 417.1,37.5 413.3,37" fill="#040201"/><polygon points="495.2,68.2 498.7,69.5 495.1,67.4 491.5,66.1" fill="#000101"/><polygon points="487.9,64.9 491.5,66.1 487.9,64 484.2,62.8" fill="#000201"/><polygon points="480.6,61.6 484.2,62.8 480.6,60.7 476.9,59.5" fill="#000201"/><polygon points="473.3,58.4 476.9,59.5 473.3,57.5 469.6,56.3" fill="#000201"/><polygon points="465.9,55.3 469.6,56.3 465.9,54.3 462.2,53.3" fill="#010201"/><polygon points="458.5,52.3 462.2,53.3 458.5,51.3 454.8,50.3" fill="#010301"/><polygon points="398.1,35.2 401.9,35.3 398.1,34.3 394.3,34.2" fill="#040101"/><polygon points="390.4,34.3 394.3,34.2 390.4,33.4 386.6,33.5" fill="#040101"/><polygon points="382.8,33.7 386.6,33.5 382.8,32.9 379,33.1" fill="#040101"/><polygon points="375.2,33.5 379,33.1 375.2,32.7 371.4,33.1" fill="#040101"/><polygon points="367.5,33.6 371.4,33.1 367.6,33 363.7,33.5" fill="#040101"/><polygon points="359.9,34.2 363.7,33.5 360,33.6 356.2,34.3" fill="#040101"/><polygon points="451,49.4 454.8,50.3 451,48.4 447.3,47.5" fill="#030301"/><polygon points="405.7,36.5 409.5,36.7 405.7,35.5 401.9,35.3" fill="#040101"/><polygon points="443.5,46.7 447.3,47.5 443.5,45.7 439.8,44.9" fill="#030301"/><polygon points="436,44.2 439.8,44.9 436,43.2 432.3,42.5" fill="#040301"/><polygon points="428.5,41.9 432.3,42.5 428.5,40.9 424.7,40.3" fill="#040201"/><polygon points="420.9,39.8 424.7,40.3 420.9,38.8 417.1,38.4" fill="#040201"/><polygon points="413.3,38 417.1,38.4 413.3,37 409.5,36.7" fill="#040201"/><polygon points="491.5,67 495.2,68.2 491.5,66.1 487.9,64.9" fill="#000201"/><polygon points="484.3,63.7 487.9,64.9 484.2,62.8 480.6,61.6" fill="#000201"/><polygon points="477,60.5 480.6,61.6 476.9,59.5 473.3,58.4" fill="#000201"/><polygon points="469.6,57.4 473.3,58.4 469.6,56.3 465.9,55.3" fill="#000201"/><polygon points="462.2,54.3 465.9,55.3 462.2,53.3 458.5,52.3" fill="#010301"/><polygon points="394.3,35.2 398.1,35.2 394.3,34.2 390.4,34.3" fill="#040101"/><polygon points="386.6,34.5 390.4,34.3 386.6,33.5 382.8,33.7" fill="#040101"/><polygon points="379,34 382.8,33.7 379,33.1 375.2,33.5" fill="#040101"/><polygon points="371.3,34 375.2,33.5 371.4,33.1 367.5,33.6" fill="#040101"/><polygon points="363.7,34.3 367.5,33.6 363.7,33.5 359.9,34.2" fill="#040101"/><polygon points="498.8,70.3 502.4,71.5 498.7,69.5 495.2,68.2" fill="#000101"/><polygon points="454.8,51.4 458.5,52.3 454.8,50.3 451,49.4" fill="#020301"/><polygon points="401.9,36.4 405.7,36.5 401.9,35.3 398.1,35.2" fill="#040101"/><polygon points="356.1,35 359.9,34.2 356.2,34.3 352.4,35.2" fill="#040101"/><polygon points="447.3,48.6 451,49.4 447.3,47.5 443.5,46.7" fill="#030301"/><polygon points="439.8,46 443.5,46.7 439.8,44.9 436,44.2" fill="#030301"/><polygon points="432.3,43.6 436,44.2 432.3,42.5 428.5,41.9" fill="#040301"/><polygon points="424.7,41.4 428.5,41.9 424.7,40.3 420.9,39.8" fill="#050301"/><polygon points="417.1,39.5 420.9,39.8 417.1,38.4 413.3,38" fill="#040201"/><polygon points="409.5,37.8 413.3,38 409.5,36.7 405.7,36.5" fill="#040101"/><polygon points="487.9,65.9 491.5,67 487.9,64.9 484.3,63.7" fill="#000201"/><polygon points="480.6,62.7 484.3,63.7 480.6,61.6 477,60.5" fill="#000201"/><polygon points="473.3,59.5 477,60.5 473.3,58.4 469.6,57.4" fill="#000201"/><polygon points="465.9,56.4 469.6,57.4 465.9,55.3 462.2,54.3" fill="#010201"/><polygon points="390.4,35.4 394.3,35.2 390.4,34.3 386.6,34.5" fill="#100302"/><polygon points="382.8,34.8 386.6,34.5 382.8,33.7 379,34" fill="#080101"/><polygon points="375.2,34.5 379,34 375.2,33.5 371.3,34" fill="#040101"/><polygon points="367.5,34.6 371.3,34 367.5,33.6 363.7,34.3" fill="#040101"/><polygon points="502.4,72.4 506,73.6 502.4,71.5 498.8,70.3" fill="#000201"/><polygon points="495.2,69.1 498.8,70.3 495.2,68.2 491.5,67" fill="#000201"/><polygon points="458.5,53.5 462.2,54.3 458.5,52.3 454.8,51.4" fill="#030501"/><polygon points="398.1,36.4 401.9,36.4 398.1,35.2 394.3,35.2" fill="#150503"/><polygon points="359.9,35.1 363.7,34.3 359.9,34.2 356.1,35" fill="#040101"/><polygon points="352.3,36.1 356.1,35 352.4,35.2 348.6,36.2" fill="#040101"/><polygon points="451,50.6 454.8,51.4 451,49.4 447.3,48.6" fill="#090a02"/><polygon points="443.6,48 447.3,48.6 443.5,46.7 439.8,46" fill="#0f0e03"/><polygon points="436,45.5 439.8,46 436,44.2 432.3,43.6" fill="#130f04"/><polygon points="428.5,43.2 432.3,43.6 428.5,41.9 424.7,41.4" fill="#160e05"/><polygon points="420.9,41.1 424.7,41.4 420.9,39.8 417.1,39.5" fill="#180c05"/><polygon points="413.3,39.2 417.1,39.5 413.3,38 409.5,37.8" fill="#190905"/><polygon points="405.7,37.7 409.5,37.8 405.7,36.5 401.9,36.4" fill="#180604"/><polygon points="484.3,64.8 487.9,65.9 484.3,63.7 480.6,62.7" fill="#000201"/><polygon points="477,61.7 480.6,62.7 477,60.5 473.3,59.5" fill="#000201"/><polygon points="469.6,58.6 473.3,59.5 469.6,57.4 465.9,56.4" fill="#010702"/><polygon points="386.6,35.7 390.4,35.4 386.6,34.5 382.8,34.8" fill="#250605"/><polygon points="379,35.3 382.8,34.8 379,34 375.2,34.5" fill="#1f0504"/><polygon points="371.3,35.1 375.2,34.5 371.3,34 367.5,34.6" fill="#160403"/><polygon points="506,74.5 509.6,75.7 506,73.6 502.4,72.4" fill="#000201"/><polygon points="498.8,71.2 502.4,72.4 498.8,70.3 495.2,69.1" fill="#000201"/><polygon points="491.6,68 495.2,69.1 491.5,67 487.9,65.9" fill="#000201"/><polygon points="462.2,55.6 465.9,56.4 462.2,54.3 458.5,53.5" fill="#050d03"/><polygon points="394.3,36.6 398.1,36.4 394.3,35.2 390.4,35.4" fill="#290806"/><polygon points="363.7,35.4 367.5,34.6 363.7,34.3 359.9,35.1" fill="#0b0201"/><polygon points="356.1,36.1 359.9,35.1 356.1,35 352.3,36.1" fill="#040101"/><polygon points="348.5,37.2 352.3,36.1 348.6,36.2 344.8,37.4" fill="#040101"/><polygon points="454.8,52.7 458.5,53.5 454.8,51.4 451,50.6" fill="#0e1304"/><polygon points="447.3,50 451,50.6 447.3,48.6 443.6,48" fill="#181705"/><polygon points="439.8,47.4 443.6,48 439.8,46 436,45.5" fill="#1e1906"/><polygon points="432.3,45 436,45.5 432.3,43.6 428.5,43.2" fill="#231809"/><polygon points="424.7,42.8 428.5,43.2 424.7,41.4 420.9,41.1" fill="#271509"/><polygon points="417.1,40.9 420.9,41.1 417.1,39.5 413.3,39.2" fill="#291109"/><polygon points="409.5,39.1 413.3,39.2 409.5,37.8 405.7,37.7" fill="#2b0d08"/><polygon points="401.9,37.7 405.7,37.7 401.9,36.4 398.1,36.4" fill="#2b0a07"/><polygon points="473.3,60.8 477,61.7 473.3,59.5 469.6,58.6" fill="#010b03"/><polygon points="382.8,36.2 386.6,35.7 382.8,34.8 379,35.3" fill="#360907"/><polygon points="480.6,63.9 484.3,64.8 480.6,62.7 477,61.7" fill="#000502"/><polygon points="375.2,35.9 379,35.3 375.2,34.5 371.3,35.1" fill="#310806"/><polygon points="509.6,76.5 513.2,77.7 509.6,75.7 506,74.5" fill="#000201"/><polygon points="502.4,73.4 506,74.5 502.4,72.4 498.8,71.2" fill="#000201"/><polygon points="495.2,70.2 498.8,71.2 495.2,69.1 491.6,68" fill="#000201"/><polygon points="488,67 491.6,68 487.9,65.9 484.3,64.8" fill="#000201"/><polygon points="465.9,57.8 469.6,58.6 465.9,56.4 462.2,55.6" fill="#051205"/><polygon points="390.5,36.9 394.3,36.6 390.4,35.4 386.6,35.7" fill="#390b08"/><polygon points="367.5,35.9 371.3,35.1 367.5,34.6 363.7,35.4" fill="#2a0705"/><polygon points="359.9,36.4 363.7,35.4 359.9,35.1 356.1,36.1" fill="#210705"/><polygon points="352.3,37.2 356.1,36.1 352.3,36.1 348.5,37.2" fill="#160503"/><polygon points="344.8,38.6 348.5,37.2 344.8,37.4 341,38.8" fill="#060201"/><polygon points="458.5,54.9 462.2,55.6 458.5,53.5 454.8,52.7" fill="#101906"/><polygon points="451.1,52.1 454.8,52.7 451,50.6 447.3,50" fill="#1d1f07"/><polygon points="443.6,49.4 447.3,50 443.6,48 439.8,47.4" fill="#252208"/><polygon points="436,47 439.8,47.4 436,45.5 432.3,45" fill="#2c210a"/><polygon points="428.5,44.7 432.3,45 428.5,43.2 424.7,42.8" fill="#311e0c"/><polygon points="420.9,42.6 424.7,42.8 420.9,41.1 417.1,40.9" fill="#35190c"/><polygon points="413.3,40.7 417.1,40.9 413.3,39.2 409.5,39.1" fill="#39140b"/><polygon points="405.7,39.2 409.5,39.1 405.7,37.7 401.9,37.7" fill="#3b100a"/><polygon points="398.1,37.9 401.9,37.7 398.1,36.4 394.3,36.6" fill="#3b0d09"/><polygon points="477,63 480.6,63.9 477,61.7 473.3,60.8" fill="#010f05"/><polygon points="379,36.8 382.8,36.2 379,35.3 375.2,35.9" fill="#450c09"/><polygon points="513.2,78.5 516.8,79.6 513.2,77.7 509.6,76.5" fill="#000201"/><polygon points="506.1,75.4 509.6,76.5 506,74.5 502.4,73.4" fill="#000201"/><polygon points="498.9,72.3 502.4,73.4 498.8,71.2 495.2,70.2" fill="#000201"/><polygon points="491.6,69.2 495.2,70.2 491.6,68 488,67" fill="#000201"/><polygon points="484.3,66.1 488,67 484.3,64.8 480.6,63.9" fill="#010804"/><polygon points="469.6,60 473.3,60.8 469.6,58.6 465.9,57.8" fill="#041606"/><polygon points="386.6,37.3 390.5,36.9 386.6,35.7 382.8,36.2" fill="#470c09"/><polygon points="371.4,36.6 375.2,35.9 371.3,35.1 367.5,35.9" fill="#410b08"/><polygon points="363.7,36.9 367.5,35.9 363.7,35.4 359.9,36.4" fill="#3b0a08"/><polygon points="356.1,37.5 359.9,36.4 356.1,36.1 352.3,37.2" fill="#330b07"/><polygon points="348.6,38.6 352.3,37.2 348.5,37.2 344.8,38.6" fill="#290b07"/><polygon points="341,40.1 344.8,38.6 341,38.8 337.2,40.3" fill="#1d0b06"/><polygon points="462.2,57.1 465.9,57.8 462.2,55.6 458.5,54.9" fill="#0d1d07"/><polygon points="454.8,54.2 458.5,54.9 454.8,52.7 451.1,52.1" fill="#1d2408"/><polygon points="447.3,51.5 451.1,52.1 447.3,50 443.6,49.4" fill="#2b2a09"/><polygon points="439.8,49 443.6,49.4 439.8,47.4 436,47" fill="#322a0b"/><polygon points="432.3,46.6 436,47 432.3,45 428.5,44.7" fill="#39270e"/><polygon points="424.7,44.4 428.5,44.7 424.7,42.8 420.9,42.6" fill="#3e210e"/><polygon points="417.1,42.5 420.9,42.6 417.1,40.9 413.3,40.7" fill="#431b0e"/><polygon points="409.5,40.8 413.3,40.7 409.5,39.1 405.7,39.2" fill="#47150c"/><polygon points="401.9,39.3 405.7,39.2 401.9,37.7 398.1,37.9" fill="#49110b"/><polygon points="394.3,38.2 398.1,37.9 394.3,36.6 390.5,36.9" fill="#490e0a"/><polygon points="516.8,80.5 520.4,81.6 516.8,79.6 513.2,78.5" fill="#000201"/><polygon points="509.7,77.5 513.2,78.5 509.6,76.5 506.1,75.4" fill="#000201"/><polygon points="502.5,74.4 506.1,75.4 502.4,73.4 498.9,72.3" fill="#000201"/><polygon points="495.2,71.4 498.9,72.3 495.2,70.2 491.6,69.2" fill="#000201"/><polygon points="488,68.3 491.6,69.2 488,67 484.3,66.1" fill="#010a06"/><polygon points="480.7,65.2 484.3,66.1 480.6,63.9 477,63" fill="#021207"/><polygon points="375.2,37.5 379,36.8 375.2,35.9 371.4,36.6" fill="#510e0a"/><polygon points="367.6,37.6 371.4,36.6 367.5,35.9 363.7,36.9" fill="#4e0d0a"/><polygon points="359.9,38 363.7,36.9 359.9,36.4 356.1,37.5" fill="#490e0a"/><polygon points="352.4,38.8 356.1,37.5 352.3,37.2 348.6,38.6" fill="#420f0a"/><polygon points="344.8,40 348.6,38.6 344.8,38.6 341,40.1" fill="#39110a"/><polygon points="337.3,41.7 341,40.1 337.2,40.3 333.5,42.1" fill="#31150a"/><polygon points="473.3,62.2 477,63 473.3,60.8 469.6,60" fill="#031908"/><polygon points="382.8,37.9 386.6,37.3 382.8,36.2 379,36.8" fill="#530e0b"/><polygon points="465.9,59.3 469.6,60 465.9,57.8 462.2,57.1" fill="#092108"/><polygon points="458.5,56.4 462.2,57.1 458.5,54.9 454.8,54.2" fill="#1a2809"/><polygon points="451.1,53.7 454.8,54.2 451.1,52.1 447.3,51.5" fill="#2c2f0a"/><polygon points="443.6,51.1 447.3,51.5 443.6,49.4 439.8,49" fill="#37310c"/><polygon points="436.1,48.7 439.8,49 436,47 432.3,46.6" fill="#3e2f0e"/><polygon points="428.5,46.4 432.3,46.6 428.5,44.7 424.7,44.4" fill="#452a11"/><polygon points="420.9,44.3 424.7,44.4 420.9,42.6 417.1,42.5" fill="#4b2310"/><polygon points="413.3,42.5 417.1,42.5 413.3,40.7 409.5,40.8" fill="#4f1c0f"/><polygon points="405.7,40.9 409.5,40.8 405.7,39.2 401.9,39.3" fill="#53160e"/><polygon points="398.1,39.6 401.9,39.3 398.1,37.9 394.3,38.2" fill="#54130c"/><polygon points="390.5,38.6 394.3,38.2 390.5,36.9 386.6,37.3" fill="#54100b"/><polygon points="513.3,79.5 516.8,80.5 513.2,78.5 509.7,77.5" fill="#000202"/><polygon points="506.1,76.5 509.7,77.5 506.1,75.4 502.5,74.4" fill="#000201"/><polygon points="498.9,73.5 502.5,74.4 498.9,72.3 495.2,71.4" fill="#000302"/><polygon points="491.6,70.5 495.2,71.4 491.6,69.2 488,68.3" fill="#010b07"/><polygon points="484.3,67.5 488,68.3 484.3,66.1 480.7,65.2" fill="#021409"/><polygon points="371.4,38.5 375.2,37.5 371.4,36.6 367.6,37.6" fill="#5c100c"/><polygon points="363.8,38.6 367.6,37.6 363.7,36.9 359.9,38" fill="#59100c"/><polygon points="356.2,39.2 359.9,38 356.1,37.5 352.4,38.8" fill="#54120c"/><polygon points="348.6,40.2 352.4,38.8 348.6,38.6 344.8,40" fill="#4e140d"/><polygon points="341,41.7 344.8,40 341,40.1 337.3,41.7" fill="#481a0e"/><polygon points="520.5,82.4 524,83.4 520.4,81.6 516.8,80.5" fill="#000202"/><polygon points="477,64.5 480.7,65.2 477,63 473.3,62.2" fill="#031c0a"/><polygon points="462.2,58.7 465.9,59.3 462.2,57.1 458.5,56.4" fill="#142b0a"/><polygon points="454.8,55.9 458.5,56.4 454.8,54.2 451.1,53.7" fill="#28330b"/><polygon points="447.3,53.3 451.1,53.7 447.3,51.5 443.6,51.1" fill="#3a380c"/><polygon points="439.8,50.8 443.6,51.1 439.8,49 436.1,48.7" fill="#42380e"/><polygon points="432.3,48.4 436.1,48.7 432.3,46.6 428.5,46.4" fill="#4a3312"/><polygon points="424.7,46.3 428.5,46.4 424.7,44.4 420.9,44.3" fill="#502c13"/><polygon points="417.2,44.4 420.9,44.3 417.1,42.5 413.3,42.5" fill="#562412"/><polygon points="409.6,42.7 413.3,42.5 409.5,40.8 405.7,40.9" fill="#5b1c10"/><polygon points="401.9,41.2 405.7,40.9 401.9,39.3 398.1,39.6" fill="#5d170f"/><polygon points="394.3,40 398.1,39.6 394.3,38.2 390.5,38.6" fill="#5e140d"/><polygon points="379,38.6 382.8,37.9 379,36.8 375.2,37.5" fill="#5e100c"/><polygon points="333.5,43.6 337.3,41.7 333.5,42.1 329.8,43.9" fill="#43220f"/><polygon points="469.6,61.6 473.3,62.2 469.6,60 465.9,59.3" fill="#07230a"/><polygon points="386.7,39.2 390.5,38.6 386.6,37.3 382.8,37.9" fill="#5f110c"/><polygon points="509.7,78.6 513.3,79.5 509.7,77.5 506.1,76.5" fill="#000202"/><polygon points="502.5,75.6 506.1,76.5 502.5,74.4 498.9,73.5" fill="#000303"/><polygon points="495.3,72.7 498.9,73.5 495.2,71.4 491.6,70.5" fill="#010c09"/><polygon points="488,69.7 491.6,70.5 488,68.3 484.3,67.5" fill="#02150b"/><polygon points="367.6,39.5 371.4,38.5 367.6,37.6 363.8,38.6" fill="#65120d"/><polygon points="360,39.9 363.8,38.6 359.9,38 356.2,39.2" fill="#62140d"/><polygon points="352.4,40.6 356.2,39.2 352.4,38.8 348.6,40.2" fill="#5e160e"/><polygon points="344.8,41.8 348.6,40.2 344.8,40 341,41.7" fill="#581a10"/><polygon points="524.1,84.2 527.6,85.2 524,83.4 520.5,82.4" fill="#000202"/><polygon points="516.9,81.4 520.5,82.4 516.8,80.5 513.3,79.5" fill="#000202"/><polygon points="480.7,66.8 484.3,67.5 480.7,65.2 477,64.5" fill="#031d0c"/><polygon points="458.5,58.2 462.2,58.7 458.5,56.4 454.8,55.9" fill="#22350c"/><polygon points="451.1,55.5 454.8,55.9 451.1,53.7 447.3,53.3" fill="#383d0d"/><polygon points="443.6,53 447.3,53.3 443.6,51.1 439.8,50.8" fill="#453f0f"/><polygon points="436.1,50.6 439.8,50.8 436.1,48.7 432.3,48.4" fill="#4d3c12"/><polygon points="428.5,48.4 432.3,48.4 428.5,46.4 424.7,46.3" fill="#553615"/><polygon points="421,46.3 424.7,46.3 420.9,44.3 417.2,44.4" fill="#5b2d14"/><polygon points="413.4,44.5 417.2,44.4 413.3,42.5 409.6,42.7" fill="#612413"/><polygon points="405.8,42.9 409.6,42.7 405.7,40.9 401.9,41.2" fill="#651c11"/><polygon points="398.1,41.6 401.9,41.2 398.1,39.6 394.3,40" fill="#661810"/><polygon points="375.2,39.5 379,38.6 375.2,37.5 371.4,38.5" fill="#66120d"/><polygon points="337.3,43.5 341,41.7 337.3,41.7 333.5,43.6" fill="#572512"/><polygon points="329.8,45.6 333.5,43.6 329.8,43.9 326.1,46" fill="#523114"/><polygon points="466,61 469.6,61.6 465.9,59.3 462.2,58.7" fill="#0d2e0c"/><polygon points="390.5,40.6 394.3,40 390.5,38.6 386.7,39.2" fill="#67150e"/><polygon points="473.3,63.9 477,64.5 473.3,62.2 469.6,61.6" fill="#05260b"/><polygon points="382.9,39.9 386.7,39.2 382.8,37.9 379,38.6" fill="#67130d"/><polygon points="506.1,77.7 509.7,78.6 506.1,76.5 502.5,75.6" fill="#000302"/><polygon points="498.9,74.8 502.5,75.6 498.9,73.5 495.3,72.7" fill="#020d0a"/><polygon points="491.7,71.9 495.3,72.7 491.6,70.5 488,69.7" fill="#02160e"/><polygon points="363.8,40.7 367.6,39.5 363.8,38.6 360,39.9" fill="#6c150f"/><polygon points="356.2,41.3 360,39.9 356.2,39.2 352.4,40.6" fill="#691810"/><polygon points="348.6,42.2 352.4,40.6 348.6,40.2 344.8,41.8" fill="#651c11"/><polygon points="527.7,86 531.2,86.9 527.6,85.2 524.1,84.2" fill="#000202"/><polygon points="520.5,83.3 524.1,84.2 520.5,82.4 516.9,81.4" fill="#000202"/><polygon points="513.3,80.6 516.9,81.4 513.3,79.5 509.7,78.6" fill="#000202"/><polygon points="484.4,69 488,69.7 484.3,67.5 480.7,66.8" fill="#031f0e"/><polygon points="454.8,57.8 458.5,58.2 454.8,55.9 451.1,55.5" fill="#313f0e"/><polygon points="447.3,55.2 451.1,55.5 447.3,53.3 443.6,53" fill="#47460f"/><polygon points="439.8,52.8 443.6,53 439.8,50.8 436.1,50.6" fill="#504511"/><polygon points="432.3,50.5 436.1,50.6 432.3,48.4 428.5,48.4" fill="#583f15"/><polygon points="424.8,48.4 428.5,48.4 424.7,46.3 421,46.3" fill="#5f3717"/><polygon points="417.2,46.5 421,46.3 417.2,44.4 413.4,44.5" fill="#662e16"/><polygon points="409.6,44.8 413.4,44.5 409.6,42.7 405.8,42.9" fill="#6c2514"/><polygon points="402,43.4 405.8,42.9 401.9,41.2 398.1,41.6" fill="#6c1d12"/><polygon points="371.4,40.6 375.2,39.5 371.4,38.5 367.6,39.5" fill="#6e140e"/><polygon points="341.1,43.6 344.8,41.8 341,41.7 337.3,43.5" fill="#642514"/><polygon points="333.6,45.5 337.3,43.5 333.5,43.6 329.8,45.6" fill="#643417"/><polygon points="326.1,47.8 329.8,45.6 326.1,46 322.4,48.2" fill="#604317"/><polygon points="462.3,60.5 466,61 462.2,58.7 458.5,58.2" fill="#19370d"/><polygon points="394.3,42.2 398.1,41.6 394.3,40 390.5,40.6" fill="#6e1910"/><polygon points="477,66.2 480.7,66.8 477,64.5 473.3,63.9" fill="#04270d"/><polygon points="469.7,63.3 473.3,63.9 469.6,61.6 466,61" fill="#0a2f0d"/><polygon points="386.7,41.3 390.5,40.6 386.7,39.2 382.9,39.9" fill="#6f160f"/><polygon points="379.1,40.8 382.9,39.9 379,38.6 375.2,39.5" fill="#6f140f"/><polygon points="502.6,77 506.1,77.7 502.5,75.6 498.9,74.8" fill="#020d0a"/><polygon points="495.3,74.1 498.9,74.8 495.3,72.7 491.7,71.9" fill="#021610"/><polygon points="360,42.1 363.8,40.7 360,39.9 356.2,41.3" fill="#731911"/><polygon points="352.4,42.9 356.2,41.3 352.4,40.6 348.6,42.2" fill="#701d12"/><polygon points="531.3,87.6 534.8,88.5 531.2,86.9 527.7,86" fill="#000202"/><polygon points="524.1,85.1 527.7,86 524.1,84.2 520.5,83.3" fill="#000202"/><polygon points="517,82.5 520.5,83.3 516.9,81.4 513.3,80.6" fill="#000202"/><polygon points="509.8,79.7 513.3,80.6 509.7,78.6 506.1,77.7" fill="#000202"/><polygon points="488,71.3 491.7,71.9 488,69.7 484.4,69" fill="#032011"/><polygon points="451.1,57.6 454.8,57.8 451.1,55.5 447.3,55.2" fill="#414910"/><polygon points="443.6,55.1 447.3,55.2 443.6,53 439.8,52.8" fill="#514c11"/><polygon points="436.1,52.7 439.8,52.8 436.1,50.6 432.3,50.5" fill="#5a4914"/><polygon points="428.6,50.5 432.3,50.5 428.5,48.4 424.8,48.4" fill="#624219"/><polygon points="421,48.6 424.8,48.4 421,46.3 417.2,46.5" fill="#693818"/><polygon points="413.4,46.8 417.2,46.5 413.4,44.5 409.6,44.8" fill="#702e17"/><polygon points="405.8,45.2 409.6,44.8 405.8,42.9 402,43.4" fill="#722415"/><polygon points="367.7,41.8 371.4,40.6 367.6,39.5 363.8,40.7" fill="#751710"/><polygon points="344.9,44 348.6,42.2 344.8,41.8 341.1,43.6" fill="#6e2414"/><polygon points="337.3,45.6 341.1,43.6 337.3,43.5 333.6,45.5" fill="#703318"/><polygon points="329.8,47.7 333.6,45.5 329.8,45.6 326.1,47.8" fill="#6f451b"/><polygon points="322.4,50.2 326.1,47.8 322.4,48.2 318.7,50.7" fill="#6c5718"/><polygon points="458.5,60.2 462.3,60.5 458.5,58.2 454.8,57.8" fill="#28410f"/><polygon points="398.2,43.9 402,43.4 398.1,41.6 394.3,42.2" fill="#731e13"/><polygon points="480.7,68.4 484.4,69 480.7,66.8 477,66.2" fill="#042810"/><polygon points="473.4,65.6 477,66.2 473.3,63.9 469.7,63.3" fill="#06310f"/><polygon points="466,62.9 469.7,63.3 466,61 462.3,60.5" fill="#10390f"/><polygon points="390.5,42.9 394.3,42.2 390.5,40.6 386.7,41.3" fill="#751a11"/><polygon points="382.9,42.2 386.7,41.3 382.9,39.9 379.1,40.8" fill="#751810"/><polygon points="375.3,41.8 379.1,40.8 375.2,39.5 371.4,40.6" fill="#751710"/><polygon points="499,76.3 502.6,77 498.9,74.8 495.3,74.1" fill="#031712"/><polygon points="356.3,43.7 360,42.1 356.2,41.3 352.4,42.9" fill="#781e13"/><polygon points="534.9,89.2 538.4,90 534.8,88.5 531.3,87.6" fill="#000302"/><polygon points="527.7,86.8 531.3,87.6 527.7,86 524.1,85.1" fill="#000302"/><polygon points="520.6,84.3 524.1,85.1 520.5,83.3 517,82.5" fill="#000202"/><polygon points="513.4,81.7 517,82.5 513.3,80.6 509.8,79.7" fill="#000202"/><polygon points="506.2,79 509.8,79.7 506.1,77.7 502.6,77" fill="#020d0a"/><polygon points="491.7,73.5 495.3,74.1 491.7,71.9 488,71.3" fill="#032014"/><polygon points="447.4,57.4 451.1,57.6 447.3,55.2 443.6,55.1" fill="#535312"/><polygon points="439.9,55 443.6,55.1 439.8,52.8 436.1,52.7" fill="#5c5114"/><polygon points="432.3,52.8 436.1,52.7 432.3,50.5 428.6,50.5" fill="#654c17"/><polygon points="424.8,50.7 428.6,50.5 424.8,48.4 421,48.6" fill="#6c441a"/><polygon points="417.2,48.8 421,48.6 417.2,46.5 413.4,46.8" fill="#74391a"/><polygon points="409.6,47.2 413.4,46.8 409.6,44.8 405.8,45.2" fill="#7a2f19"/><polygon points="363.9,43.1 367.7,41.8 363.8,40.7 360,42.1" fill="#7a1b12"/><polygon points="348.7,44.6 352.4,42.9 348.6,42.2 344.9,44" fill="#762315"/><polygon points="341.1,45.9 344.9,44 341.1,43.6 337.3,45.6" fill="#783119"/><polygon points="333.6,47.8 337.3,45.6 333.6,45.5 329.8,47.7" fill="#7a441d"/><polygon points="326.2,50 329.8,47.7 326.1,47.8 322.4,50.2" fill="#7a581d"/><polygon points="318.7,52.8 322.4,50.2 318.7,50.7 315,53.3" fill="#766b19"/><polygon points="454.8,59.9 458.5,60.2 454.8,57.8 451.1,57.6" fill="#374b11"/><polygon points="402,45.8 405.8,45.2 402,43.4 398.2,43.9" fill="#772315"/><polygon points="484.4,70.7 488,71.3 484.4,69 480.7,68.4" fill="#042a13"/><polygon points="477,68 480.7,68.4 477,66.2 473.4,65.6" fill="#053211"/><polygon points="469.7,65.2 473.4,65.6 469.7,63.3 466,62.9" fill="#0c3a10"/><polygon points="462.3,62.5 466,62.9 462.3,60.5 458.5,60.2" fill="#1c4310"/><polygon points="394.4,44.6 398.2,43.9 394.3,42.2 390.5,42.9" fill="#791f13"/><polygon points="386.8,43.8 390.5,42.9 386.7,41.3 382.9,42.2" fill="#7b1c12"/><polygon points="379.1,43.2 382.9,42.2 379.1,40.8 375.3,41.8" fill="#7b1a12"/><polygon points="371.5,43 375.3,41.8 371.4,40.6 367.7,41.8" fill="#7b1a11"/><polygon points="531.3,88.4 534.9,89.2 531.3,87.6 527.7,86.8" fill="#000302"/><polygon points="524.2,86 527.7,86.8 524.1,85.1 520.6,84.3" fill="#000302"/><polygon points="517,83.6 520.6,84.3 517,82.5 513.4,81.7" fill="#000202"/><polygon points="509.8,81 513.4,81.7 509.8,79.7 506.2,79" fill="#010c09"/><polygon points="502.6,78.4 506.2,79 502.6,77 499,76.3" fill="#031712"/><polygon points="495.3,75.7 499,76.3 495.3,74.1 491.7,73.5" fill="#042017"/><polygon points="443.6,57.4 447.4,57.4 443.6,55.1 439.9,55" fill="#5d5914"/><polygon points="436.1,55.1 439.9,55 436.1,52.7 432.3,52.8" fill="#665616"/><polygon points="428.6,53 432.3,52.8 428.6,50.5 424.8,50.7" fill="#6f4f1b"/><polygon points="421,51 424.8,50.7 421,48.6 417.2,48.8" fill="#76451c"/><polygon points="413.4,49.3 417.2,48.8 413.4,46.8 409.6,47.2" fill="#7e3b1c"/><polygon points="360.1,44.7 363.9,43.1 360,42.1 356.3,43.7" fill="#7f2014"/><polygon points="352.5,45.4 356.3,43.7 352.4,42.9 348.7,44.6" fill="#7d2416"/><polygon points="344.9,46.5 348.7,44.6 344.9,44 341.1,45.9" fill="#7f3019"/><polygon points="337.4,48.1 341.1,45.9 337.3,45.6 333.6,47.8" fill="#82411d"/><polygon points="329.9,50.1 333.6,47.8 329.8,47.7 326.2,50" fill="#845721"/><polygon points="322.5,52.6 326.2,50 322.4,50.2 318.7,52.8" fill="#846e1c"/><polygon points="451.1,59.8 454.8,59.9 451.1,57.6 447.4,57.4" fill="#475512"/><polygon points="405.8,47.8 409.6,47.2 405.8,45.2 402,45.8" fill="#7f2f19"/><polygon points="488,73 491.7,73.5 488,71.3 484.4,70.7" fill="#042a16"/><polygon points="480.7,70.3 484.4,70.7 480.7,68.4 477,68" fill="#053314"/><polygon points="473.4,67.6 477,68 473.4,65.6 469.7,65.2" fill="#073c12"/><polygon points="466,64.9 469.7,65.2 466,62.9 462.3,62.5" fill="#124412"/><polygon points="458.6,62.3 462.3,62.5 458.5,60.2 454.8,59.9" fill="#2b4c12"/><polygon points="398.2,46.5 402,45.8 398.2,43.9 394.4,44.6" fill="#7d2416"/><polygon points="390.6,45.5 394.4,44.6 390.5,42.9 386.8,43.8" fill="#7f2014"/><polygon points="383,44.8 386.8,43.8 382.9,42.2 379.1,43.2" fill="#801e13"/><polygon points="375.3,44.4 379.1,43.2 375.3,41.8 371.5,43" fill="#801d13"/><polygon points="367.7,44.4 371.5,43 367.7,41.8 363.9,43.1" fill="#801e13"/><polygon points="527.8,87.7 531.3,88.4 527.7,86.8 524.2,86" fill="#000302"/><polygon points="520.6,85.4 524.2,86 520.6,84.3 517,83.6" fill="#000302"/><polygon points="513.4,82.9 517,83.6 513.4,81.7 509.8,81" fill="#010907"/><polygon points="506.2,80.4 509.8,81 506.2,79 502.6,78.4" fill="#031612"/><polygon points="439.9,57.4 443.6,57.4 439.9,55 436.1,55.1" fill="#675f16"/><polygon points="432.4,55.3 436.1,55.1 432.3,52.8 428.6,53" fill="#705a19"/><polygon points="424.8,53.3 428.6,53 424.8,50.7 421,51" fill="#79521e"/><polygon points="417.2,51.4 421,51 417.2,48.8 413.4,49.3" fill="#81481e"/><polygon points="348.8,47.3 352.5,45.4 348.7,44.6 344.9,46.5" fill="#85301a"/><polygon points="341.2,48.6 344.9,46.5 341.1,45.9 337.4,48.1" fill="#89401e"/><polygon points="333.7,50.4 337.4,48.1 333.6,47.8 329.9,50.1" fill="#8c5522"/><polygon points="326.2,52.6 329.9,50.1 326.2,50 322.5,52.6" fill="#8d6d20"/><polygon points="447.4,59.7 451.1,59.8 447.4,57.4 443.6,57.4" fill="#585f14"/><polygon points="409.7,49.8 413.4,49.3 409.6,47.2 405.8,47.8" fill="#873c1d"/><polygon points="499,77.8 502.6,78.4 499,76.3 495.3,75.7" fill="#042019"/><polygon points="491.7,75.2 495.3,75.7 491.7,73.5 488,73" fill="#042a1a"/><polygon points="484.4,72.6 488,73 484.4,70.7 480.7,70.3" fill="#043418"/><polygon points="477.1,69.9 480.7,70.3 477,68 473.4,67.6" fill="#063d15"/><polygon points="469.7,67.3 473.4,67.6 469.7,65.2 466,64.9" fill="#0d4514"/><polygon points="462.3,64.7 466,64.9 462.3,62.5 458.6,62.3" fill="#1c4e13"/><polygon points="454.8,62.2 458.6,62.3 454.8,59.9 451.1,59.8" fill="#3b5613"/><polygon points="402,48.5 405.8,47.8 402,45.8 398.2,46.5" fill="#84301a"/><polygon points="394.4,47.3 398.2,46.5 394.4,44.6 390.6,45.5" fill="#822617"/><polygon points="386.8,46.5 390.6,45.5 386.8,43.8 383,44.8" fill="#832316"/><polygon points="379.2,45.9 383,44.8 379.1,43.2 375.3,44.4" fill="#842115"/><polygon points="371.6,45.7 375.3,44.4 371.5,43 367.7,44.4" fill="#842115"/><polygon points="363.9,45.9 367.7,44.4 363.9,43.1 360.1,44.7" fill="#842215"/><polygon points="356.3,46.4 360.1,44.7 356.3,43.7 352.5,45.4" fill="#832517"/><polygon points="524.3,87 527.8,87.7 524.2,86 520.6,85.4" fill="#000302"/><polygon points="517.1,84.8 520.6,85.4 517,83.6 513.4,82.9" fill="#010504"/><polygon points="509.9,82.4 513.4,82.9 509.8,81 506.2,80.4" fill="#031511"/><polygon points="436.1,57.6 439.9,57.4 436.1,55.1 432.4,55.3" fill="#716418"/><polygon points="428.6,55.6 432.4,55.3 428.6,53 424.8,53.3" fill="#7a5e1c"/><polygon points="421,53.7 424.8,53.3 421,51 417.2,51.4" fill="#835520"/><polygon points="345,49.3 348.8,47.3 344.9,46.5 341.2,48.6" fill="#8e401f"/><polygon points="337.5,50.9 341.2,48.6 337.4,48.1 333.7,50.4" fill="#925322"/><polygon points="330,52.9 333.7,50.4 329.9,50.1 326.2,52.6" fill="#946b23"/><polygon points="443.6,59.8 447.4,59.7 443.6,57.4 439.9,57.4" fill="#676716"/><polygon points="413.5,52 417.2,51.4 413.4,49.3 409.7,49.8" fill="#8b4b20"/><polygon points="502.6,79.9 506.2,80.4 502.6,78.4 499,77.8" fill="#042019"/><polygon points="488.1,74.8 491.7,75.2 488,73 484.4,72.6" fill="#05341b"/><polygon points="480.7,72.2 484.4,72.6 480.7,70.3 477.1,69.9" fill="#063d19"/><polygon points="473.4,69.6 477.1,69.9 473.4,67.6 469.7,67.3" fill="#074616"/><polygon points="466,67.1 469.7,67.3 466,64.9 462.3,64.7" fill="#134f15"/><polygon points="458.6,64.6 462.3,64.7 458.6,62.3 454.8,62.2" fill="#2b5715"/><polygon points="451.1,62.2 454.8,62.2 451.1,59.8 447.4,59.7" fill="#4b5f15"/><polygon points="405.9,50.5 409.7,49.8 405.8,47.8 402,48.5" fill="#8b3d1e"/><polygon points="398.3,49.3 402,48.5 398.2,46.5 394.4,47.3" fill="#89321b"/><polygon points="390.6,48.3 394.4,47.3 390.6,45.5 386.8,46.5" fill="#862918"/><polygon points="383,47.6 386.8,46.5 383,44.8 379.2,45.9" fill="#872517"/><polygon points="375.4,47.3 379.2,45.9 375.3,44.4 371.6,45.7" fill="#882517"/><polygon points="367.8,47.2 371.6,45.7 367.7,44.4 363.9,45.9" fill="#882517"/><polygon points="352.6,48.2 356.3,46.4 352.5,45.4 348.8,47.3" fill="#8a321b"/><polygon points="495.4,77.4 499,77.8 495.3,75.7 491.7,75.2" fill="#052a1d"/><polygon points="360.2,47.5 363.9,45.9 360.1,44.7 356.3,46.4" fill="#872818"/><polygon points="520.7,86.5 524.3,87 520.6,85.4 517.1,84.8" fill="#000302"/><polygon points="513.5,84.2 517.1,84.8 513.4,82.9 509.9,82.4" fill="#02130f"/><polygon points="432.4,58 436.1,57.6 432.4,55.3 428.6,55.6" fill="#7c6a1a"/><polygon points="424.8,56 428.6,55.6 424.8,53.3 421,53.7" fill="#85621f"/><polygon points="341.3,51.6 345,49.3 341.2,48.6 337.5,50.9" fill="#975323"/><polygon points="333.8,53.3 337.5,50.9 333.7,50.4 330,52.9" fill="#9a6926"/><polygon points="439.9,60.1 443.6,59.8 439.9,57.4 436.1,57.6" fill="#726d18"/><polygon points="417.3,54.3 421,53.7 417.2,51.4 413.5,52" fill="#8e5923"/><polygon points="506.3,81.9 509.9,82.4 506.2,80.4 502.6,79.9" fill="#042019"/><polygon points="484.4,74.5 488.1,74.8 484.4,72.6 480.7,72.2" fill="#053e1d"/><polygon points="477.1,72 480.7,72.2 477.1,69.9 473.4,69.6" fill="#07471a"/><polygon points="469.7,69.5 473.4,69.6 469.7,67.3 466,67.1" fill="#0d5017"/><polygon points="462.3,67 466,67.1 462.3,64.7 458.6,64.6" fill="#1a5916"/><polygon points="454.9,64.6 458.6,64.6 454.8,62.2 451.1,62.2" fill="#3b6016"/><polygon points="447.4,62.3 451.1,62.2 447.4,59.7 443.6,59.8" fill="#5b6917"/><polygon points="409.7,52.7 413.5,52 409.7,49.8 405.9,50.5" fill="#924d21"/><polygon points="402.1,51.4 405.9,50.5 402,48.5 398.3,49.3" fill="#903f1f"/><polygon points="394.5,50.3 398.3,49.3 394.4,47.3 390.6,48.3" fill="#8d351c"/><polygon points="386.9,49.5 390.6,48.3 386.8,46.5 383,47.6" fill="#8c2e1a"/><polygon points="379.3,49 383,47.6 379.2,45.9 375.4,47.3" fill="#8b2a19"/><polygon points="371.6,48.8 375.4,47.3 371.6,45.7 367.8,47.2" fill="#8b2919"/><polygon points="348.9,50.3 352.6,48.2 348.8,47.3 345,49.3" fill="#934120"/><polygon points="499,79.5 502.6,79.9 499,77.8 495.4,77.4" fill="#052a20"/><polygon points="491.7,77 495.4,77.4 491.7,75.2 488.1,74.8" fill="#053420"/><polygon points="364,48.9 367.8,47.2 363.9,45.9 360.2,47.5" fill="#8d2d1a"/><polygon points="356.4,49.4 360.2,47.5 356.3,46.4 352.6,48.2" fill="#8f351c"/><polygon points="517.1,86 520.7,86.5 517.1,84.8 513.5,84.2" fill="#020f0c"/><polygon points="428.6,58.4 432.4,58 428.6,55.6 424.8,56" fill="#866f1d"/><polygon points="337.6,54 341.3,51.6 337.5,50.9 333.8,53.3" fill="#9f6928"/><polygon points="436.2,60.4 439.9,60.1 436.1,57.6 432.4,58" fill="#7c731a"/><polygon points="421.1,56.6 424.8,56 421,53.7 417.3,54.3" fill="#8f6722"/><polygon points="509.9,83.8 513.5,84.2 509.9,82.4 506.3,81.9" fill="#041f18"/><polygon points="480.8,74.3 484.4,74.5 480.7,72.2 477.1,72" fill="#06481e"/><polygon points="473.4,71.9 477.1,72 473.4,69.6 469.7,69.5" fill="#08511a"/><polygon points="466,69.4 469.7,69.5 466,67.1 462.3,67" fill="#135919"/><polygon points="458.6,67 462.3,67 458.6,64.6 454.9,64.6" fill="#286218"/><polygon points="451.1,64.7 454.9,64.6 451.1,62.2 447.4,62.3" fill="#4b6a18"/><polygon points="443.7,62.5 447.4,62.3 443.6,59.8 439.9,60.1" fill="#6b7318"/><polygon points="413.5,55 417.3,54.3 413.5,52 409.7,52.7" fill="#985e25"/><polygon points="405.9,53.6 409.7,52.7 405.9,50.5 402.1,51.4" fill="#964f22"/><polygon points="398.3,52.4 402.1,51.4 398.3,49.3 394.5,50.3" fill="#954320"/><polygon points="390.7,51.5 394.5,50.3 390.6,48.3 386.9,49.5" fill="#933a1e"/><polygon points="383.1,50.8 386.9,49.5 383,47.6 379.3,49" fill="#91341c"/><polygon points="375.5,50.4 379.3,49 375.4,47.3 371.6,48.8" fill="#91321c"/><polygon points="345.1,52.5 348.9,50.3 345,49.3 341.3,51.6" fill="#9b5424"/><polygon points="502.7,81.5 506.3,81.9 502.6,79.9 499,79.5" fill="#052a21"/><polygon points="495.4,79.2 499,79.5 495.4,77.4 491.7,77" fill="#063424"/><polygon points="488.1,76.7 491.7,77 488.1,74.8 484.4,74.5" fill="#053f21"/><polygon points="367.9,50.4 371.6,48.8 367.8,47.2 364,48.9" fill="#92341c"/><polygon points="360.3,50.7 364,48.9 360.2,47.5 356.4,49.4" fill="#943a1e"/><polygon points="352.7,51.4 356.4,49.4 352.6,48.2 348.9,50.3" fill="#984421"/><polygon points="432.4,60.9 436.2,60.4 432.4,58 428.6,58.4" fill="#867a1c"/><polygon points="424.9,59 428.6,58.4 424.8,56 421.1,56.6" fill="#907520"/><polygon points="513.6,85.6 517.1,86 513.5,84.2 509.9,83.8" fill="#031c16"/><polygon points="477.1,74.2 480.8,74.3 477.1,72 473.4,71.9" fill="#08511f"/><polygon points="469.7,71.8 473.4,71.9 469.7,69.5 466,69.4" fill="#0c5a1b"/><polygon points="462.3,69.5 466,69.4 462.3,67 458.6,67" fill="#1a631a"/><polygon points="454.9,67.2 458.6,67 454.9,64.6 451.1,64.7" fill="#376b19"/><polygon points="447.4,65 451.1,64.7 447.4,62.3 443.7,62.5" fill="#597419"/><polygon points="439.9,62.9 443.7,62.5 439.9,60.1 436.2,60.4" fill="#7b7d1a"/><polygon points="417.3,57.3 421.1,56.6 417.3,54.3 413.5,55" fill="#9a6e25"/><polygon points="409.7,55.8 413.5,55 409.7,52.7 405.9,53.6" fill="#9c6126"/><polygon points="402.2,54.6 405.9,53.6 402.1,51.4 398.3,52.4" fill="#9b5324"/><polygon points="394.5,53.5 398.3,52.4 394.5,50.3 390.7,51.5" fill="#994822"/><polygon points="386.9,52.8 390.7,51.5 386.9,49.5 383.1,50.8" fill="#984120"/><polygon points="379.3,52.3 383.1,50.8 379.3,49 375.5,50.4" fill="#973d1f"/><polygon points="341.4,54.9 345.1,52.5 341.3,51.6 337.6,54" fill="#a36a28"/><polygon points="506.3,83.5 509.9,83.8 506.3,81.9 502.7,81.5" fill="#052a21"/><polygon points="499,81.2 502.7,81.5 499,79.5 495.4,79.2" fill="#063328"/><polygon points="491.7,78.9 495.4,79.2 491.7,77 488.1,76.7" fill="#063e26"/><polygon points="484.4,76.6 488.1,76.7 484.4,74.5 480.8,74.3" fill="#064922"/><polygon points="371.7,52.1 375.5,50.4 371.6,48.8 367.9,50.4" fill="#983d1f"/><polygon points="364.1,52.2 367.9,50.4 364,48.9 360.3,50.7" fill="#9a4120"/><polygon points="356.5,52.7 360.3,50.7 356.4,49.4 352.7,51.4" fill="#9c4923"/><polygon points="349,53.6 352.7,51.4 348.9,50.3 345.1,52.5" fill="#9f5725"/><polygon points="473.4,74.2 477.1,74.2 473.4,71.9 469.7,71.8" fill="#095b1f"/><polygon points="466,71.9 469.7,71.8 466,69.4 462.3,69.5" fill="#12641c"/><polygon points="458.6,69.7 462.3,69.5 458.6,67 454.9,67.2" fill="#216d1b"/><polygon points="451.2,67.5 454.9,67.2 451.1,64.7 447.4,65" fill="#45751b"/><polygon points="443.7,65.4 447.4,65 443.7,62.5 439.9,62.9" fill="#687d1b"/><polygon points="436.2,63.4 439.9,62.9 436.2,60.4 432.4,60.9" fill="#86851c"/><polygon points="428.7,61.5 432.4,60.9 428.6,58.4 424.9,59" fill="#91821f"/><polygon points="421.1,59.8 424.9,59 421.1,56.6 417.3,57.3" fill="#9b7d22"/><polygon points="413.6,58.2 417.3,57.3 413.5,55 409.7,55.8" fill="#a17327"/><polygon points="406,56.8 409.7,55.8 405.9,53.6 402.2,54.6" fill="#a06527"/><polygon points="398.4,55.7 402.2,54.6 398.3,52.4 394.5,53.5" fill="#9f5925"/><polygon points="390.8,54.8 394.5,53.5 390.7,51.5 386.9,52.8" fill="#9e4f24"/><polygon points="383.2,54.2 386.9,52.8 383.1,50.8 379.3,52.3" fill="#9d4923"/><polygon points="510,85.3 513.6,85.6 509.9,83.8 506.3,83.5" fill="#052820"/><polygon points="502.7,83.2 506.3,83.5 502.7,81.5 499,81.2" fill="#063329"/><polygon points="495.4,81 499,81.2 495.4,79.2 491.7,78.9" fill="#073e2b"/><polygon points="488.1,78.8 491.7,78.9 488.1,76.7 484.4,76.6" fill="#064927"/><polygon points="480.8,76.5 484.4,76.6 480.8,74.3 477.1,74.2" fill="#075223"/><polygon points="375.6,53.9 379.3,52.3 375.5,50.4 371.7,52.1" fill="#9c4722"/><polygon points="368,53.9 371.7,52.1 367.9,50.4 364.1,52.2" fill="#9d4923"/><polygon points="360.4,54.2 364.1,52.2 360.3,50.7 356.5,52.7" fill="#9e5024"/><polygon points="352.8,54.9 356.5,52.7 352.7,51.4 349,53.6" fill="#a15b26"/><polygon points="345.3,56 349,53.6 345.1,52.5 341.4,54.9" fill="#a56c29"/><polygon points="469.7,74.3 473.4,74.2 469.7,71.8 466,71.9" fill="#0a651f"/><polygon points="462.3,72.1 466,71.9 462.3,69.5 458.6,69.7" fill="#186d1e"/><polygon points="454.9,70 458.6,69.7 454.9,67.2 451.2,67.5" fill="#2e761d"/><polygon points="447.4,67.9 451.2,67.5 447.4,65 443.7,65.4" fill="#547e1c"/><polygon points="439.9,65.9 443.7,65.4 439.9,62.9 436.2,63.4" fill="#76871d"/><polygon points="417.4,60.6 421.1,59.8 417.3,57.3 413.6,58.2" fill="#a58525"/><polygon points="409.8,59.2 413.6,58.2 409.7,55.8 406,56.8" fill="#a57728"/><polygon points="402.2,58 406,56.8 402.2,54.6 398.4,55.7" fill="#a46a29"/><polygon points="394.6,57 398.4,55.7 394.5,53.5 390.8,54.8" fill="#a25f27"/><polygon points="387,56.3 390.8,54.8 386.9,52.8 383.2,54.2" fill="#a05725"/><polygon points="506.4,85.1 510,85.3 506.3,83.5 502.7,83.2" fill="#063328"/><polygon points="499.1,83.1 502.7,83.2 499,81.2 495.4,81" fill="#073d2f"/><polygon points="491.8,80.9 495.4,81 491.7,78.9 488.1,78.8" fill="#07482d"/><polygon points="484.4,78.8 488.1,78.8 484.4,76.6 480.8,76.5" fill="#075328"/><polygon points="477.1,76.5 480.8,76.5 477.1,74.2 473.4,74.2" fill="#085c24"/><polygon points="432.4,64 436.2,63.4 432.4,60.9 428.7,61.5" fill="#908d1f"/><polygon points="424.9,62.2 428.7,61.5 424.9,59 421.1,59.8" fill="#9b8a21"/><polygon points="379.4,55.8 383.2,54.2 379.3,52.3 375.6,53.9" fill="#9f5324"/><polygon points="371.8,55.7 375.6,53.9 371.7,52.1 368,53.9" fill="#9f5324"/><polygon points="364.2,55.9 368,53.9 364.1,52.2 360.4,54.2" fill="#a05725"/><polygon points="356.7,56.4 360.4,54.2 356.5,52.7 352.8,54.9" fill="#a26127"/><polygon points="349.1,57.3 352.8,54.9 349,53.6 345.3,56" fill="#a56f29"/><polygon points="466,74.6 469.7,74.3 466,71.9 462.3,72.1" fill="#0f6e21"/><polygon points="458.6,72.4 462.3,72.1 458.6,69.7 454.9,70" fill="#1e771f"/><polygon points="451.2,70.4 454.9,70 451.2,67.5 447.4,67.9" fill="#3b7f1e"/><polygon points="443.7,68.4 447.4,67.9 443.7,65.4 439.9,65.9" fill="#60881e"/><polygon points="413.6,61.6 417.4,60.6 413.6,58.2 409.8,59.2" fill="#a98925"/><polygon points="406,60.4 409.8,59.2 406,56.8 402.2,58" fill="#a77b27"/><polygon points="398.4,59.3 402.2,58 398.4,55.7 394.6,57" fill="#a56f29"/><polygon points="390.9,58.5 394.6,57 390.8,54.8 387,56.3" fill="#a36628"/><polygon points="502.7,85 506.4,85.1 502.7,83.2 499.1,83.1" fill="#073d30"/><polygon points="495.4,83 499.1,83.1 495.4,81 491.8,80.9" fill="#084832"/><polygon points="488.1,80.9 491.8,80.9 488.1,78.8 484.4,78.8" fill="#08532e"/><polygon points="480.8,78.8 484.4,78.8 480.8,76.5 477.1,76.5" fill="#085d2a"/><polygon points="473.4,76.7 477.1,76.5 473.4,74.2 469.7,74.3" fill="#0a6525"/><polygon points="436.2,66.5 439.9,65.9 436.2,63.4 432.4,64" fill="#83921f"/><polygon points="428.7,64.7 432.4,64 428.7,61.5 424.9,62.2" fill="#9b9621"/><polygon points="421.2,63.1 424.9,62.2 421.1,59.8 417.4,60.6" fill="#a69323"/><polygon points="383.3,57.9 387,56.3 383.2,54.2 379.4,55.8" fill="#a26127"/><polygon points="375.7,57.6 379.4,55.8 375.6,53.9 371.8,55.7" fill="#a25f27"/><polygon points="368.1,57.7 371.8,55.7 368,53.9 364.2,55.9" fill="#a26127"/><polygon points="360.5,58 364.2,55.9 360.4,54.2 356.7,56.4" fill="#a46828"/><polygon points="352.9,58.8 356.7,56.4 352.8,54.9 349.1,57.3" fill="#a67329"/><polygon points="462.3,74.9 466,74.6 462.3,72.1 458.6,72.4" fill="#147822"/><polygon points="454.9,72.9 458.6,72.4 454.9,70 451.2,70.4" fill="#248121"/><polygon points="447.4,70.9 451.2,70.4 447.4,67.9 443.7,68.4" fill="#468920"/><polygon points="409.8,62.8 413.6,61.6 409.8,59.2 406,60.4" fill="#aa8c25"/><polygon points="402.3,61.7 406,60.4 402.2,58 398.4,59.3" fill="#a87f27"/><polygon points="394.7,60.8 398.4,59.3 394.6,57 390.9,58.5" fill="#a67628"/><polygon points="499.1,85 502.7,85 499.1,83.1 495.4,83" fill="#084737"/><polygon points="491.8,83 495.4,83 491.8,80.9 488.1,80.9" fill="#085334"/><polygon points="484.5,81 488.1,80.9 484.4,78.8 480.8,78.8" fill="#085d2f"/><polygon points="477.1,79 480.8,78.8 477.1,76.5 473.4,76.7" fill="#09662b"/><polygon points="469.7,76.9 473.4,76.7 469.7,74.3 466,74.6" fill="#0b6f26"/><polygon points="440,69.1 443.7,68.4 439.9,65.9 436.2,66.5" fill="#6c9220"/><polygon points="432.5,67.3 436.2,66.5 432.4,64 428.7,64.7" fill="#8f9c21"/><polygon points="424.9,65.6 428.7,64.7 424.9,62.2 421.2,63.1" fill="#a5a023"/><polygon points="417.4,64.1 421.2,63.1 417.4,60.6 413.6,61.6" fill="#aa9824"/><polygon points="387.1,60.1 390.9,58.5 387,56.3 383.3,57.9" fill="#a56f29"/><polygon points="379.5,59.7 383.3,57.9 379.4,55.8 375.7,57.6" fill="#a56c29"/><polygon points="371.9,59.6 375.7,57.6 371.8,55.7 368.1,57.7" fill="#a56d29"/><polygon points="364.3,59.8 368.1,57.7 364.2,55.9 360.5,58" fill="#a67129"/><polygon points="356.8,60.4 360.5,58 356.7,56.4 352.9,58.8" fill="#a77a28"/><polygon points="458.6,75.4 462.3,74.9 458.6,72.4 454.9,72.9" fill="#1a8124"/><polygon points="451.2,73.5 454.9,72.9 451.2,70.4 447.4,70.9" fill="#2b8b23"/><polygon points="406.1,64.1 409.8,62.8 406,60.4 402.3,61.7" fill="#aa9024"/><polygon points="398.5,63.1 402.3,61.7 398.4,59.3 394.7,60.8" fill="#a98626"/><polygon points="495.5,85.1 499.1,85 495.4,83 491.8,83" fill="#09523a"/><polygon points="488.1,83.2 491.8,83 488.1,80.9 484.5,81" fill="#095d36"/><polygon points="480.8,81.3 484.5,81 480.8,78.8 477.1,79" fill="#096731"/><polygon points="473.4,79.3 477.1,79 473.4,76.7 469.7,76.9" fill="#0a702c"/><polygon points="466,77.3 469.7,76.9 466,74.6 462.3,74.9" fill="#0c7926"/><polygon points="443.7,71.6 447.4,70.9 443.7,68.4 440,69.1" fill="#519322"/><polygon points="436.2,69.8 440,69.1 436.2,66.5 432.5,67.3" fill="#769c23"/><polygon points="428.7,68.2 432.5,67.3 428.7,64.7 424.9,65.6" fill="#99a623"/><polygon points="421.2,66.7 424.9,65.6 421.2,63.1 417.4,64.1" fill="#aaa524"/><polygon points="413.6,65.3 417.4,64.1 413.6,61.6 409.8,62.8" fill="#aa9a24"/><polygon points="390.9,62.4 394.7,60.8 390.9,58.5 387.1,60.1" fill="#a87e27"/><polygon points="383.4,61.9 387.1,60.1 383.3,57.9 379.5,59.7" fill="#a77a28"/><polygon points="375.8,61.7 379.5,59.7 375.7,57.6 371.9,59.6" fill="#a77928"/><polygon points="368.2,61.7 371.9,59.6 368.1,57.7 364.3,59.8" fill="#a77b27"/><polygon points="360.6,62.1 364.3,59.8 360.5,58 356.8,60.4" fill="#a88226"/><polygon points="454.9,76 458.6,75.4 454.9,72.9 451.2,73.5" fill="#1f8b26"/><polygon points="402.3,65.6 406.1,64.1 402.3,61.7 398.5,63.1" fill="#aa9524"/><polygon points="491.8,85.2 495.5,85.1 491.8,83 488.1,83.2" fill="#0a5d3d"/><polygon points="484.5,83.4 488.1,83.2 484.5,81 480.8,81.3" fill="#096837"/><polygon points="477.1,81.6 480.8,81.3 477.1,79 473.4,79.3" fill="#0a7132"/><polygon points="469.7,79.7 473.4,79.3 469.7,76.9 466,77.3" fill="#0c792d"/><polygon points="462.3,77.8 466,77.3 462.3,74.9 458.6,75.4" fill="#0f8228"/><polygon points="447.5,74.1 451.2,73.5 447.4,70.9 443.7,71.6" fill="#339425"/><polygon points="440,72.4 443.7,71.6 440,69.1 436.2,69.8" fill="#5a9d24"/><polygon points="432.5,70.8 436.2,69.8 432.5,67.3 428.7,68.2" fill="#7ea625"/><polygon points="425,69.2 428.7,68.2 424.9,65.6 421.2,66.7" fill="#9cac25"/><polygon points="417.4,67.8 421.2,66.7 417.4,64.1 413.6,65.3" fill="#aaa724"/><polygon points="409.9,66.6 413.6,65.3 409.8,62.8 406.1,64.1" fill="#aa9d24"/><polygon points="394.8,64.7 398.5,63.1 394.7,60.8 390.9,62.4" fill="#aa8e24"/><polygon points="387.2,64.2 390.9,62.4 387.1,60.1 383.4,61.9" fill="#a98825"/><polygon points="379.6,63.8 383.4,61.9 379.5,59.7 375.8,61.7" fill="#a98626"/><polygon points="372,63.8 375.8,61.7 371.9,59.6 368.2,61.7" fill="#a98726"/><polygon points="364.5,64 368.2,61.7 364.3,59.8 360.6,62.1" fill="#aa8c25"/><polygon points="488.2,85.5 491.8,85.2 488.1,83.2 484.5,83.4" fill="#0a673f"/><polygon points="480.8,83.8 484.5,83.4 480.8,81.3 477.1,81.6" fill="#097239"/><polygon points="473.4,82 477.1,81.6 473.4,79.3 469.7,79.7" fill="#0b7a34"/><polygon points="466,80.2 469.7,79.7 466,77.3 462.3,77.8" fill="#0d832e"/><polygon points="458.6,78.4 462.3,77.8 458.6,75.4 454.9,76" fill="#138c2a"/><polygon points="451.2,76.7 454.9,76 451.2,73.5 447.5,74.1" fill="#239528"/><polygon points="443.7,75 447.5,74.1 443.7,71.6 440,72.4" fill="#3a9e27"/><polygon points="436.3,73.3 440,72.4 436.2,69.8 432.5,70.8" fill="#5fa626"/><polygon points="428.8,71.8 432.5,70.8 428.7,68.2 425,69.2" fill="#81ac26"/><polygon points="421.2,70.4 425,69.2 421.2,66.7 417.4,67.8" fill="#98ac25"/><polygon points="413.7,69.2 417.4,67.8 413.6,65.3 409.9,66.6" fill="#aaab24"/><polygon points="406.2,68.1 409.9,66.6 406.1,64.1 402.3,65.6" fill="#aaa224"/><polygon points="398.6,67.2 402.3,65.6 398.5,63.1 394.8,64.7" fill="#aa9b24"/><polygon points="391,66.5 394.8,64.7 390.9,62.4 387.2,64.2" fill="#aa9624"/><polygon points="383.5,66.1 387.2,64.2 383.4,61.9 379.6,63.8" fill="#aa9324"/><polygon points="375.9,66 379.6,63.8 375.8,61.7 372,63.8" fill="#aa9324"/><polygon points="368.3,66.1 372,63.8 368.2,61.7 364.5,64" fill="#aa9524"/><polygon points="484.5,85.9 488.2,85.5 484.5,83.4 480.8,83.8" fill="#0a7241"/><polygon points="477.1,84.3 480.8,83.8 477.1,81.6 473.4,82" fill="#0a7c3a"/><polygon points="469.8,82.6 473.4,82 469.7,79.7 466,80.2" fill="#0c8435"/><polygon points="462.3,80.9 466,80.2 462.3,77.8 458.6,78.4" fill="#0e8d30"/><polygon points="454.9,79.2 458.6,78.4 454.9,76 451.2,76.7" fill="#17952c"/><polygon points="447.5,77.5 451.2,76.7 447.5,74.1 443.7,75" fill="#269e2a"/><polygon points="440,75.9 443.7,75 440,72.4 436.3,73.3" fill="#3da629"/><polygon points="432.5,74.4 436.3,73.3 432.5,70.8 428.8,71.8" fill="#61ac28"/><polygon points="425,73 428.8,71.8 425,69.2 421.2,70.4" fill="#7dac26"/><polygon points="417.5,71.8 421.2,70.4 417.4,67.8 413.7,69.2" fill="#92ac25"/><polygon points="410,70.6 413.7,69.2 409.9,66.6 406.2,68.1" fill="#a4ac24"/><polygon points="402.4,69.7 406.2,68.1 402.3,65.6 398.6,67.2" fill="#aaa824"/><polygon points="394.9,69 398.6,67.2 394.8,64.7 391,66.5" fill="#aaa224"/><polygon points="387.3,68.5 391,66.5 387.2,64.2 383.5,66.1" fill="#aa9f24"/><polygon points="379.7,68.2 383.5,66.1 379.6,63.8 375.9,66" fill="#aa9d24"/><polygon points="372.2,68.2 375.9,66 372,63.8 368.3,66.1" fill="#aa9f24"/><polygon points="480.8,86.4 484.5,85.9 480.8,83.8 477.1,84.3" fill="#0b7c43"/><polygon points="473.5,84.8 477.1,84.3 473.4,82 469.8,82.6" fill="#0b853d"/><polygon points="466.1,83.2 469.8,82.6 466,80.2 462.3,80.9" fill="#0d8d37"/><polygon points="458.6,81.6 462.3,80.9 458.6,78.4 454.9,79.2" fill="#0f9631"/><polygon points="451.2,80 454.9,79.2 451.2,76.7 447.5,77.5" fill="#199f2e"/><polygon points="443.8,78.5 447.5,77.5 443.7,75 440,75.9" fill="#29a62c"/><polygon points="436.3,77 440,75.9 436.3,73.3 432.5,74.4" fill="#3dac2a"/><polygon points="428.8,75.6 432.5,74.4 428.8,71.8 425,73" fill="#5cac28"/><polygon points="421.3,74.4 425,73 421.2,70.4 417.5,71.8" fill="#77ac27"/><polygon points="413.8,73.2 417.5,71.8 413.7,69.2 410,70.6" fill="#89ac26"/><polygon points="406.2,72.3 410,70.6 406.2,68.1 402.4,69.7" fill="#99ac25"/><polygon points="398.7,71.5 402.4,69.7 398.6,67.2 394.9,69" fill="#a5ac24"/><polygon points="391.1,70.9 394.9,69 391,66.5 387.3,68.5" fill="#aaab24"/><polygon points="383.6,70.6 387.3,68.5 383.5,66.1 379.7,68.2" fill="#aaa924"/><polygon points="376,70.5 379.7,68.2 375.9,66 372.2,68.2" fill="#aaa924"/><polygon points="477.2,87 480.8,86.4 477.1,84.3 473.5,84.8" fill="#0b8645"/><polygon points="469.8,85.6 473.5,84.8 469.8,82.6 466.1,83.2" fill="#0c8e3f"/><polygon points="462.4,84 466.1,83.2 462.3,80.9 458.6,81.6" fill="#0e973a"/><polygon points="440,79.6 443.8,78.5 440,75.9 436.3,77" fill="#29ab2e"/><polygon points="432.6,78.3 436.3,77 432.5,74.4 428.8,75.6" fill="#38ac2b"/><polygon points="425.1,77 428.8,75.6 425,73 421.3,74.4" fill="#54ac29"/><polygon points="417.5,75.9 421.3,74.4 417.5,71.8 413.8,73.2" fill="#6cac27"/><polygon points="394.9,73.4 398.7,71.5 394.9,69 391.1,70.9" fill="#94ac25"/><polygon points="387.4,73 391.1,70.9 387.3,68.5 383.6,70.6" fill="#9aac25"/><polygon points="379.8,72.9 383.6,70.6 379.7,68.2 376,70.5" fill="#9bac25"/><polygon points="454.9,82.5 458.6,81.6 454.9,79.2 451.2,80" fill="#109f34"/><polygon points="447.5,81.1 451.2,80 447.5,77.5 443.8,78.5" fill="#1ba731"/><polygon points="410,74.9 413.8,73.2 410,70.6 406.2,72.3" fill="#7eac26"/><polygon points="402.5,74.1 406.2,72.3 402.4,69.7 398.7,71.5" fill="#8bac26"/><polygon points="473.5,87.8 477.2,87 473.5,84.8 469.8,85.6" fill="#0c9047"/><polygon points="466.1,86.4 469.8,85.6 466.1,83.2 462.4,84" fill="#0d9842"/><polygon points="458.7,85 462.4,84 458.6,81.6 454.9,82.5" fill="#0fa03c"/><polygon points="451.2,83.6 454.9,82.5 451.2,80 447.5,81.1" fill="#11a736"/><polygon points="443.8,82.2 447.5,81.1 443.8,78.5 440,79.6" fill="#1aa931"/><polygon points="436.3,80.9 440,79.6 436.3,77 432.6,78.3" fill="#26aa2e"/><polygon points="428.8,79.6 432.6,78.3 428.8,75.6 425.1,77" fill="#32ac2b"/><polygon points="421.3,78.5 425.1,77 421.3,74.4 417.5,75.9" fill="#49ac2a"/><polygon points="413.8,77.5 417.5,75.9 413.8,73.2 410,74.9" fill="#5eac28"/><polygon points="406.3,76.7 410,74.9 406.2,72.3 402.5,74.1" fill="#6fac27"/><polygon points="398.8,76 402.5,74.1 398.7,71.5 394.9,73.4" fill="#7bac26"/><polygon points="391.2,75.6 394.9,73.4 391.1,70.9 387.4,73" fill="#81ac26"/><polygon points="383.7,75.3 387.4,73 383.6,70.6 379.8,72.9" fill="#84ac26"/><polygon points="469.8,88.6 473.5,87.8 469.8,85.6 466.1,86.4" fill="#0c9749"/><polygon points="432.6,82.3 436.3,80.9 432.6,78.3 428.8,79.6" fill="#23aa2f"/><polygon points="425.1,81.2 428.8,79.6 425.1,77 421.3,78.5" fill="#2dab2d"/><polygon points="387.5,77.8 391.2,75.6 387.4,73 383.7,75.3" fill="#69ac27"/><polygon points="462.4,87.3 466.1,86.4 462.4,84 458.7,85" fill="#0e9f44"/><polygon points="455,86 458.7,85 454.9,82.5 451.2,83.6" fill="#0fa43e"/><polygon points="447.5,84.7 451.2,83.6 447.5,81.1 443.8,82.2" fill="#11a737"/><polygon points="440.1,83.5 443.8,82.2 440,79.6 436.3,80.9" fill="#18a832"/><polygon points="417.6,80.2 421.3,78.5 417.5,75.9 413.8,77.5" fill="#3aac2b"/><polygon points="410.1,79.3 413.8,77.5 410,74.9 406.3,76.7" fill="#4cac29"/><polygon points="402.6,78.6 406.3,76.7 402.5,74.1 398.8,76" fill="#5aac28"/><polygon points="395,78.1 398.8,76 394.9,73.4 391.2,75.6" fill="#64ac28"/><polygon points="466.1,89.6 469.8,88.6 466.1,86.4 462.4,87.3" fill="#0d9b4b"/><polygon points="458.7,88.4 462.4,87.3 458.7,85 455,86" fill="#0ea246"/><polygon points="451.2,87.2 455,86 451.2,83.6 447.5,84.7" fill="#0fa43f"/><polygon points="443.8,86 447.5,84.7 443.8,82.2 440.1,83.5" fill="#10a638"/><polygon points="436.3,84.9 440.1,83.5 436.3,80.9 432.6,82.3" fill="#14a833"/><polygon points="428.9,83.8 432.6,82.3 428.8,79.6 425.1,81.2" fill="#1ea930"/><polygon points="421.4,82.9 425.1,81.2 421.3,78.5 417.6,80.2" fill="#27aa2e"/><polygon points="413.9,82 417.6,80.2 413.8,77.5 410.1,79.3" fill="#2fab2c"/><polygon points="406.4,81.3 410.1,79.3 406.3,76.7 402.6,78.6" fill="#38ac2b"/><polygon points="398.8,80.8 402.6,78.6 398.8,76 395,78.1" fill="#42ac2a"/><polygon points="391.3,80.4 395,78.1 391.2,75.6 387.5,77.8" fill="#48ac2a"/><polygon points="462.4,90.7 466.1,89.6 462.4,87.3 458.7,88.4" fill="#0d9f4d"/><polygon points="455,89.6 458.7,88.4 455,86 451.2,87.2" fill="#0ea146"/><polygon points="447.5,88.5 451.2,87.2 447.5,84.7 443.8,86" fill="#0fa440"/><polygon points="440.1,87.5 443.8,86 440.1,83.5 436.3,84.9" fill="#10a53a"/><polygon points="432.6,86.5 436.3,84.9 432.6,82.3 428.9,83.8" fill="#11a735"/><polygon points="425.1,85.5 428.9,83.8 425.1,81.2 421.4,82.9" fill="#18a932"/><polygon points="417.7,84.7 421.4,82.9 417.6,80.2 413.9,82" fill="#20aa30"/><polygon points="410.2,84 413.9,82 410.1,79.3 406.4,81.3" fill="#26aa2e"/><polygon points="402.6,83.4 406.4,81.3 402.6,78.6 398.8,80.8" fill="#2bab2d"/><polygon points="395.1,83.1 398.8,80.8 395,78.1 391.3,80.4" fill="#2eab2c"/><polygon points="458.7,92 462.4,90.7 458.7,88.4 455,89.6" fill="#0d9f4e"/><polygon points="451.3,91 455,89.6 451.2,87.2 447.5,88.5" fill="#0ea148"/><polygon points="443.8,90 447.5,88.5 443.8,86 440.1,87.5" fill="#0fa342"/><polygon points="436.4,89.1 440.1,87.5 436.3,84.9 432.6,86.5" fill="#10a53d"/><polygon points="421.4,87.4 425.1,85.5 421.4,82.9 417.7,84.7" fill="#11a834"/><polygon points="413.9,86.7 417.7,84.7 413.9,82 410.2,84" fill="#17a832"/><polygon points="406.4,86.1 410.2,84 406.4,81.3 402.6,83.4" fill="#1ca931"/><polygon points="398.9,85.7 402.6,83.4 398.8,80.8 395.1,83.1" fill="#1fa930"/><polygon points="428.9,88.2 432.6,86.5 428.9,83.8 425.1,85.5" fill="#10a638"/><polygon points="455,93.4 458.7,92 455,89.6 451.3,91" fill="#0d9e50"/><polygon points="447.6,92.5 451.3,91 447.5,88.5 443.8,90" fill="#0da04a"/><polygon points="440.1,91.6 443.8,90 440.1,87.5 436.4,89.1" fill="#0ea245"/><polygon points="432.7,90.8 436.4,89.1 432.6,86.5 428.9,88.2" fill="#0fa340"/><polygon points="425.2,90 428.9,88.2 425.1,85.5 421.4,87.4" fill="#10a53c"/><polygon points="417.7,89.4 421.4,87.4 417.7,84.7 413.9,86.7" fill="#10a639"/><polygon points="410.2,88.8 413.9,86.7 410.2,84 406.4,86.1" fill="#11a736"/><polygon points="402.7,88.4 406.4,86.1 402.6,83.4 398.9,85.7" fill="#11a834"/><polygon points="451.3,94.9 455,93.4 451.3,91 447.6,92.5" fill="#0e9d53"/><polygon points="443.8,94.1 447.6,92.5 443.8,90 440.1,91.6" fill="#0d9f4d"/><polygon points="414,91.5 417.7,89.4 413.9,86.7 410.2,88.8" fill="#0fa43e"/><polygon points="406.5,91.2 410.2,88.8 406.4,86.1 402.7,88.4" fill="#10a53c"/><polygon points="436.4,93.4 440.1,91.6 436.4,89.1 432.7,90.8" fill="#0ea148"/><polygon points="428.9,92.7 432.7,90.8 428.9,88.2 425.2,90" fill="#0ea245"/><polygon points="421.5,92.1 425.2,90 421.4,87.4 417.7,89.4" fill="#0fa341"/><polygon points="447.6,96.5 451.3,94.9 447.6,92.5 443.8,94.1" fill="#0e9b56"/><polygon points="440.1,95.9 443.8,94.1 440.1,91.6 436.4,93.4" fill="#0d9d51"/><polygon points="432.7,95.3 436.4,93.4 432.7,90.8 428.9,92.7" fill="#0d9f4d"/><polygon points="425.2,94.7 428.9,92.7 425.2,90 421.5,92.1" fill="#0ea049"/><polygon points="417.8,94.2 421.5,92.1 417.7,89.4 414,91.5" fill="#0ea147"/><polygon points="410.3,93.9 414,91.5 410.2,88.8 406.5,91.2" fill="#0ea245"/><polygon points="443.9,98.3 447.6,96.5 443.8,94.1 440.1,95.9" fill="#0f985b"/><polygon points="436.4,97.8 440.1,95.9 436.4,93.4 432.7,95.3" fill="#0e9a57"/><polygon points="429,97.3 432.7,95.3 428.9,92.7 425.2,94.7" fill="#0e9c53"/><polygon points="421.5,96.9 425.2,94.7 421.5,92.1 417.8,94.2" fill="#0d9e50"/><polygon points="414.1,96.6 417.8,94.2 414,91.5 410.3,93.9" fill="#0d9f4d"/><polygon points="440.2,100.3 443.9,98.3 440.1,95.9 436.4,97.8" fill="#0f9561"/><polygon points="432.7,99.9 436.4,97.8 432.7,95.3 429,97.3" fill="#0f975d"/><polygon points="425.3,99.6 429,97.3 425.2,94.7 421.5,96.9" fill="#0f995a"/><polygon points="417.8,99.3 421.5,96.9 417.8,94.2 414.1,96.6" fill="#0e9a58"/><polygon points="436.5,102.4 440.2,100.3 436.4,97.8 432.7,99.9" fill="#109267"/><polygon points="429,102.1 432.7,99.9 429,97.3 425.3,99.6" fill="#109365"/><polygon points="421.6,101.9 425.3,99.6 421.5,96.9 417.8,99.3" fill="#109463"/><polygon points="432.8,104.7 436.5,102.4 432.7,99.9 429,102.1" fill="#118e6f"/><polygon points="425.3,104.5 429,102.1 425.3,99.6 421.6,101.9" fill="#118f6d"/><polygon points="429.1,107.1 432.8,104.7 429,102.1 425.3,104.5" fill="#118e70"/></g>
<path d="M315.5 53 L316.5 52.3 L317.5 51.6 L318.5 50.7 L319.5 50.1 L320.5 49.4 L321.5 48.8 L322.5 48.2 L323.5 47.4 L324.5 46.8 L325.5 46.3 L326.5 45.7 L327.5 45.2 L328.5 44.7 L329.5 44.2 L330.5 43.4 L331.5 43 L332.5 42.5 L333.5 42.1 L334.5 41.6 L335.5 41.2 L336.5 40.8 L337.5 40.1 L338.5 39.7 L339.5 39.4 L340.5 39 L341.5 38.6 L342.5 38.3 L343.5 37.9 L344.5 37.6 L345.5 37.1 L346.5 36.8 L347.5 36.5 L348.5 36.2 L349.5 36 L350.5 35.7 L351.5 35.5 L352.5 35.2 L353.5 35 L354.5 34.6 L355.5 34.4 L356.5 34.2 L357.5 34 L358.5 33.9 L359.5 33.7 L360.5 33.5 L361.5 33.4 L362.5 33.2 L363.5 33.1 L364.5 32.9 L365.5 32.8 L366.5 32.7 L367.5 32.6 L368.5 32.5 L369.5 32.5 L370.5 32.4 L371.5 32.3 L372.5 32.3 L373.5 32.3 L374.5 32.2 L375.5 32.2 L376.5 32.2 L377.5 32.2 L378.5 32.2 L379.5 32.2 L380.5 32.2 L381.5 32.2 L382.5 32.2 L383.5 32.2 L384.5 32.3 L385.5 32.3 L386.5 32.4 L387.5 32.4 L388.5 32.5 L389.5 32.5 L390.5 32.6 L391.5 32.7 L392.5 32.7 L393.5 32.8 L394.5 32.9 L395.5 33 L396.5 33.2 L397.5 33.3 L398.5 33.4 L399.5 33.5 L400.5 33.6 L401.5 33.7 L402.5 33.9 L403.5 34 L404.5 34.2 L405.5 34.3 L406.5 34.5 L407.5 34.7 L408.5 34.9 L409.5 35 L410.5 35.2 L411.5 35.4 L412.5 35.6 L413.5 35.7 L414.5 35.9 L415.5 36.2 L416.5 36.4 L417.5 36.6 L418.5 36.9 L419.5 37.1 L420.5 37.3 L421.5 37.5 L422.5 37.7 L423.5 38 L424.5 38.3 L425.5 38.6 L426.5 38.8 L427.5 39.1 L428.5 39.3 L429.5 39.6 L430.5 39.9 L431.5 40.1 L432.5 40.4 L433.5 40.8 L434.5 41.1 L435.5 41.4 L436.5 41.7 L437.5 42 L438.5 42.3 L439.5 42.6 L440.5 43 L441.5 43.3 L442.5 43.6 L443.5 43.9 L444.5 44.3 L445.5 44.6 L446.5 44.9 L447.5 45.2 L448.5 45.7 L449.5 46.1 L450.5 46.4 L451.5 46.8 L452.5 47.1 L453.5 47.5 L454.5 48 L455.5 48.3 L456.5 48.7 L457.5 49.1 L458.5 49.4 L459.5 49.8 L460.5 50.2 L461.5 50.7 L462.5 51.1 L463.5 51.5 L464.5 51.9 L465.5 52.3 L466.5 52.6 L467.5 53.2 L468.5 53.7 L469.5 54.1 L470.5 54.5 L471.5 54.9 L472.5 55.4 L473.5 56 L474.5 56.5 L475.5 56.9 L476.5 57.4 L477.5 57.8 L478.5 58.5 L479.5 59 L480.5 59.5 L481.5 59.9 L482.5 60.4 L483.5 60.9 L484.5 61.6 L485.5 62.1 L486.5 62.6 L487.5 63.1 L488.5 63.6 L489.5 64.4 L490.5 64.9 L491.5 65.4 L492.5 65.9 L493.5 66.4 L494.5 67.2 L495.5 67.7 L496.5 68.2 L497.5 68.7 L498.5 69.2 L499.5 70 L500.5 70.5 L501.5 71 L502.5 71.5 L503.5 72.1 L504.5 72.8 L505.5 73.4 L506.5 73.9 L507.5 74.4 L508.5 75.1 L509.5 75.7 L510.5 76.2 L511.5 76.7 L512.5 77.2 L513.5 77.9 L514.5 78.4 L515.5 78.9 L516.5 79.4 L517.5 80.1 L518.5 80.6 L519.5 81.1 L520.5 81.6 L521.5 82 L522.5 82.7 L523.5 83.2 L524.5 83.6 L525.5 84.1 L526.5 84.8 L527.5 85.2 L528.5 85.6 L529.5 86.1 L530.5 86.5 L531.5 87.1 L532.5 87.5 L533.5 87.9 L534.5 88.3 L535.5 88.9 L536.5 89.3 L537.5 89.6 L538 90 L537 89.7 L536 89.5 L535 89.2 L534 88.9 L533 88.8 L532 88.6 L531 88.3 L530 88.1 L529 87.9 L528 87.7 L527 87.5 L526 87.3 L525 87.2 L524 87 L523 86.8 L522 86.7 L521 86.6 L520 86.4 L519 86.2 L518 86.1 L517 86 L516 85.9 L515 85.8 L514 85.7 L513 85.6 L512 85.5 L511 85.4 L510 85.3 L509 85.3 L508 85.2 L507 85.1 L506 85.1 L505 85.1 L504 85 L503 85 L502 85 L501 85 L500 85 L499 85 L498 85 L497 85 L496 85 L495 84.5 L494 83.6 L493 82.9 L492 82.2 L491 81.5 L490 80.8 L489 79.9 L488 79.2 L487 78.5 L486 77.9 L485 77.2 L484 76.5 L483 75.6 L482 74.9 L481 74.3 L480 73.6 L479 73 L478 72.1 L477 71.5 L476 70.8 L475 70.2 L474 69.6 L473 68.9 L472 68.1 L471 67.5 L470 66.9 L469 66.3 L468 65.7 L467 65.1 L466 64.3 L465 63.8 L464 63.2 L463 62.6 L462 62.1 L461 61.5 L460 60.8 L459 60.2 L458 59.7 L457 59.1 L456 58.6 L455 58.1 L454 57.3 L453 56.8 L452 56.3 L451 55.8 L450 55.2 L449 54.7 L448 54.2 L447 53.6 L446 53.1 L445 52.6 L444 52.1 L443 51.6 L442 51.2 L441 50.7 L440 50.1 L439 49.6 L438 49.1 L437 48.7 L436 48.2 L435 47.8 L434 47.3 L433 46.9 L432 46.3 L431 45.9 L430 45.5 L429 45 L428 44.6 L427 44.3 L426 44.1 L425 43.8 L424 43.4 L423 43.2 L422 43 L421 42.7 L420 42.5 L419 42.2 L418 42 L417 41.8 L416 41.6 L415 41.3 L414 41.1 L413 40.9 L412 40.7 L411 40.5 L410 40.3 L409 40.1 L408 39.9 L407 39.7 L406 39.6 L405 39.3 L404 39.2 L403 39 L402 38.9 L401 38.7 L400 38.6 L399 38.5 L398 38.3 L397 38.2 L396 38.1 L395 37.9 L394 37.8 L393 37.7 L392 37.7 L391 37.6 L390 37.5 L389 37.4 L388 37.3 L387 37.3 L386 37.2 L385 37.1 L384 37.1 L383 37.1 L382 37 L381 37 L380 37 L379 37 L378 36.9 L377 36.9 L376 36.9 L375 36.9 L374 37 L373 37 L372 37 L371 37.1 L370 37.1 L369 37.1 L368 37.2 L367 37.2 L366 37.3 L365 37.4 L364 37.5 L363 37.6 L362 37.7 L361 37.8 L360 37.9 L359 38.1 L358 38.2 L357 38.4 L356 38.5 L355 38.7 L354 38.9 L353 39.2 L352 39.4 L351 39.6 L350 39.8 L349 40 L348 40.2 L347 40.4 L346 40.7 L345 40.9 L344 41.4 L343 41.6 L342 41.9 L341 42.2 L340 42.5 L339 42.8 L338 43.1 L337 43.5 L336 44 L335 44.4 L334 44.8 L333 45.2 L332 45.6 L331 46 L330 46.4 L329 47 L328 47.5 L327 47.9 L326 48.4 L325 48.8 L324 49.3 L323 50.1 L322 50.6 L321 51.1 L320 51.6 L319 52.1 L318 52.7 L317 53 L316 53.2Z" fill="#000" fill-opacity="0.35"/>
<path d="M315.5 53 L316.5 52.3 L317.5 51.6 L318.5 50.7 L319.5 50.1 L320.5 49.4 L321.5 48.8 L322.5 48.2 L323.5 47.4 L324.5 46.8 L325.5 46.3 L326.5 45.7 L327.5 45.2 L328.5 44.7 L329.5 44.2 L330.5 43.4 L331.5 43 L332.5 42.5 L333.5 42.1 L334.5 41.6 L335.5 41.2 L336.5 40.8 L337.5 40.1 L338.5 39.7 L339.5 39.4 L340.5 39 L341.5 38.6 L342.5 38.3 L343.5 37.9 L344.5 37.6 L345.5 37.1 L346.5 36.8 L347.5 36.5 L348.5 36.2 L349.5 36 L350.5 35.7 L351.5 35.5 L352.5 35.2 L353.5 35 L354.5 34.6 L355.5 34.4 L356.5 34.2 L357.5 34 L358.5 33.9 L359.5 33.7 L360.5 33.5 L361.5 33.4 L362.5 33.2 L363.5 33.1 L364.5 32.9 L365.5 32.8 L366.5 32.7 L367.5 32.6 L368.5 32.5 L369.5 32.5 L370.5 32.4 L371.5 32.3 L372.5 32.3 L373.5 32.3 L374.5 32.2 L375.5 32.2 L376.5 32.2 L377.5 32.2 L378.5 32.2 L379.5 32.2 L380.5 32.2 L381.5 32.2 L382.5 32.2 L383.5 32.2 L384.5 32.3 L385.5 32.3 L386.5 32.4 L387.5 32.4 L388.5 32.5 L389.5 32.5 L390.5 32.6 L391.5 32.7 L392.5 32.7 L393.5 32.8 L394.5 32.9 L395.5 33 L396.5 33.2 L397.5 33.3 L398.5 33.4 L399.5 33.5 L400.5 33.6 L401.5 33.7 L402.5 33.9 L403.5 34 L404.5 34.2 L405.5 34.3 L406.5 34.5 L407.5 34.7 L408.5 34.9 L409.5 35 L410.5 35.2 L411.5 35.4 L412.5 35.6 L413.5 35.7 L414.5 35.9 L415.5 36.2 L416.5 36.4 L417.5 36.6 L418.5 36.9 L419.5 37.1 L420.5 37.3 L421.5 37.5 L422.5 37.7 L423.5 38 L424.5 38.3 L425.5 38.6 L426.5 38.8 L427.5 39.1 L428.5 39.3 L429.5 39.6 L430.5 39.9 L431.5 40.1 L432.5 40.4 L433.5 40.8 L434.5 41.1 L435.5 41.4 L436.5 41.7 L437.5 42 L438.5 42.3 L439.5 42.6 L440.5 43 L441.5 43.3 L442.5 43.6 L443.5 43.9 L444.5 44.3 L445.5 44.6 L446.5 44.9 L447.5 45.2 L448.5 45.7 L449.5 46.1 L450.5 46.4 L451.5 46.8 L452.5 47.1 L453.5 47.5 L454.5 48 L455.5 48.3 L456.5 48.7 L457.5 49.1 L458.5 49.4 L459.5 49.8 L460.5 50.2 L461.5 50.7 L462.5 51.1 L463.5 51.5 L464.5 51.9 L465.5 52.3 L466.5 52.6 L467.5 53.2 L468.5 53.7 L469.5 54.1 L470.5 54.5 L471.5 54.9 L472.5 55.4 L473.5 56 L474.5 56.5 L475.5 56.9 L476.5 57.4 L477.5 57.8 L478.5 58.5 L479.5 59 L480.5 59.5 L481.5 59.9 L482.5 60.4 L483.5 60.9 L484.5 61.6 L485.5 62.1 L486.5 62.6 L487.5 63.1 L488.5 63.6 L489.5 64.4 L490.5 64.9 L491.5 65.4 L492.5 65.9 L493.5 66.4 L494.5 67.2 L495.5 67.7 L496.5 68.2 L497.5 68.7 L498.5 69.2 L499.5 70 L500.5 70.5 L501.5 71 L502.5 71.5 L503.5 72.1 L504.5 72.8 L505.5 73.4 L506.5 73.9 L507.5 74.4 L508.5 75.1 L509.5 75.7 L510.5 76.2 L511.5 76.7 L512.5 77.2 L513.5 77.9 L514.5 78.4 L515.5 78.9 L516.5 79.4 L517.5 80.1 L518.5 80.6 L519.5 81.1 L520.5 81.6 L521.5 82 L522.5 82.7 L523.5 83.2 L524.5 83.6 L525.5 84.1 L526.5 84.8 L527.5 85.2 L528.5 85.6 L529.5 86.1 L530.5 86.5 L531.5 87.1 L532.5 87.5 L533.5 87.9 L534.5 88.3 L535.5 88.9 L536.5 89.3 L537.5 89.6 L538 90 L537 89.7 L536 89.5 L535 89.2 L534 88.9 L533 88.8 L532 88.6 L531 88.3 L530 88.1 L529 87.9 L528 87.7 L527 87.5 L526 87.3 L525 87.2 L524 87 L523 86.8 L522 86.7 L521 86.6 L520 86.4 L519 86.2 L518 86.1 L517 86 L516 85.9 L515 85.8 L514 85.7 L513 85.6 L512 85.5 L511 85.4 L510 85.3 L509 85.3 L508 85.2 L507 85.1 L506 84.8 L505 84.1 L504 83.4 L503 82.4 L502 81.7 L501 81 L500 80.3 L499 79.6 L498 78.8 L497 78.2 L496 77.5 L495 76.9 L494 76.1 L493 75.4 L492 74.8 L491 74.2 L490 73.6 L489 72.8 L488 72.2 L487 71.6 L486 71 L485 70.4 L484 69.8 L483 69 L482 68.4 L481 67.8 L480 67.2 L479 66.7 L478 65.9 L477 65.3 L476 64.7 L475 64.2 L474 63.6 L473 63.1 L472 62.3 L471 61.8 L470 61.3 L469 60.8 L468 60.3 L467 59.7 L466 59 L465 58.6 L464 58.1 L463 57.6 L462 57.1 L461 56.6 L460 56 L459 55.5 L458 55 L457 54.6 L456 54.1 L455 53.7 L454 53 L453 52.6 L452 52.1 L451 51.7 L450 51.2 L449 50.8 L448 50.4 L447 49.8 L446 49.4 L445 49 L444 48.6 L443 48.2 L442 47.7 L441 47.3 L440 46.8 L439 46.4 L438 46 L437 45.6 L436 45.3 L435 44.9 L434 44.5 L433 44.1 L432 43.6 L431 43.3 L430 42.9 L429 42.6 L428 42.2 L427 41.9 L426 41.7 L425 41.4 L424 41.1 L423 40.8 L422 40.6 L421 40.4 L420 40.1 L419 39.9 L418 39.7 L417 39.5 L416 39.2 L415 38.9 L414 38.7 L413 38.5 L412 38.4 L411 38.2 L410 38 L409 37.8 L408 37.6 L407 37.5 L406 37.3 L405 37.1 L404 36.9 L403 36.8 L402 36.6 L401 36.5 L400 36.4 L399 36.2 L398 36.1 L397 36 L396 35.9 L395 35.7 L394 35.6 L393 35.5 L392 35.5 L391 35.4 L390 35.3 L389 35.2 L388 35.2 L387 35.1 L386 35 L385 35 L384 34.9 L383 34.9 L382 34.9 L381 34.9 L380 34.8 L379 34.8 L378 34.8 L377 34.8 L376 34.8 L375 34.8 L374 34.9 L373 34.9 L372 34.9 L371 35 L370 35 L369 35.1 L368 35.1 L367 35.2 L366 35.3 L365 35.4 L364 35.5 L363 35.6 L362 35.7 L361 35.9 L360 36 L359 36.2 L358 36.3 L357 36.5 L356 36.7 L355 36.8 L354 37.1 L353 37.4 L352 37.6 L351 37.8 L350 38 L349 38.3 L348 38.5 L347 38.8 L346 39 L345 39.3 L344 39.8 L343 40.1 L342 40.4 L341 40.7 L340 41 L339 41.4 L338 41.7 L337 42.1 L336 42.7 L335 43.1 L334 43.5 L333 43.9 L332 44.3 L331 44.7 L330 45.2 L329 45.9 L328 46.4 L327 46.8 L326 47.3 L325 47.8 L324 48.3 L323 49.1 L322 49.7 L321 50.2 L320 50.8 L319 51.4 L318 51.9 L317 52.9 L316 53.2Z" fill="#000" fill-opacity="0.8"/>
<ellipse cx="428.2" cy="41.2" rx="2" ry="1.6" fill="#f01010"/>
<ellipse cx="479.2" cy="58.7" rx="2" ry="1.6" fill="#f01010"/>
<ellipse cx="367.8" cy="65.6" rx="1.5" ry="1.1" fill="#e05070" fill-opacity="0.6"/>
<g font-family="Liberation Sans, sans-serif" font-size="5" fill="#6a6a6a"><text x="315.8" y="98.4" text-anchor="end">0.0</text><text x="315" y="86" text-anchor="end">0.5</text><text x="314.1" y="73.5" text-anchor="end">1.0</text><text x="313.3" y="61.1" text-anchor="end">1.5</text><text x="312.5" y="48.6" text-anchor="end">2.0</text><text x="311.6" y="36.2" text-anchor="end">2.5</text><text x="310.8" y="23.7" text-anchor="end">3.0</text><text x="317.3" y="128.5" text-anchor="end">97</text><text x="339.1" y="135.3" text-anchor="end">80</text><text x="360.9" y="142.1" text-anchor="end">63</text><text x="382.6" y="148.8" text-anchor="end">47</text><text x="404.4" y="155.6" text-anchor="end">30</text><text x="426.2" y="162.4" text-anchor="end">13</text><text x="431" y="162.4">3</text><text x="457.8" y="153.8">12</text><text x="484.6" y="145.2">20</text><text x="511.4" y="136.7">29</text><text x="538.2" y="128.1">37</text></g>
<g font-family="Liberation Serif, serif" font-weight="bold" font-size="14" fill="#141420"><text x="317.3" y="166.4">C = Ethanol</text><text x="481.3" y="158.6">A = Time</text><text transform="translate(294,124.4) rotate(-90)" x="0" y="0" font-size="14.4">Lycopene (µg/g)</text></g>
<text x="287" y="16.8" font-family="Liberation Serif, serif" font-weight="bold" font-size="11.5" fill="#ff1010">(B)</text>
<path d="M175.9 287.8L284.1 264M284.1 264L392.2 287.9M175 275.5L284.1 252.9M284.1 252.9L393.2 275.5M174 263.3L284.1 241.7M284.1 241.7L394.2 263M173 251L284.1 230.5M284.1 230.5L395.3 250.6M172 238.7L284.1 219.3M284.1 219.3L396.3 238.1M171.1 226.5L284.1 208.1M284.1 208.1L397.3 225.7M170.1 214.2L284.1 196.9M284.1 196.9L398.3 213.2M203 281.9L198.6 209.9M230 275.9L227.1 205.6M257.1 270L255.6 201.2M370.6 283.2L375.4 209.9M349 278.4L352.6 206.7M327.4 273.6L329.8 203.4M305.7 268.8L306.9 200.2M177.8 311.2L170.1 214.2M284.1 285.4L284.1 196.9M390.3 311.7L398.3 213.2" stroke="#6e6e6e" stroke-width="0.85" fill="none"/>
<polygon points="177.8,311.2 283.7,345.1 390.3,311.7 284.1,285.4" fill="#ffff00" stroke="#8c8c30" stroke-width="0.6"/>
<path d="M358.6 321.6L358.2 320.2L357.9 319.3L357.4 318.2L356.6 316.9L355.7 315.7L354.9 314.7L353.9 313.7L352.9 312.7L351.7 311.6L350.3 310.5L348.7 309.4L346.9 308.2L345.1 307L343.4 306L341.7 305.1L339.9 304.2L337.1 302.8L335.2 301.9L333.2 301.1L330.2 299.8L328.1 299L324.9 297.8L322.7 297L319.4 295.8L316 294.7L313.6 293.9L310.1 292.8L306.4 291.7L302.9 290.7L300.2 290L296.3 289L292.4 287.9L288.4 287L284.4 286L283 285.7" fill="none" stroke="#50e040" stroke-width="1.0"/>
<path d="M251.5 334.8L255.7 334.5L259.7 334.1L263.5 333.7L267.1 333.2L270.6 332.7L275.5 331.8L278.5 331.1L282.8 330L286.6 328.8L288.9 327.9L292 326.4L293.8 325.4L295.4 324.3L296.8 323.1L297.9 321.9L298.7 320.6L299.1 319.6L299.4 318.5L299.4 317.2L299.3 316.2L298.9 315.1L298.3 313.8L297.5 312.7L296.7 311.7L295.7 310.7L294.5 309.6L293 308.5L291.3 307.3L289.3 306L287.6 305L285.8 304.1L283.6 303L281 301.8L278.9 300.9L275.7 299.7L273.5 298.8L270.1 297.6L266.6 296.4L264.2 295.7L260.5 294.5L256.6 293.4L254 292.7" fill="none" stroke="#f8d000" stroke-width="0.6"/>
<path d="M175.1 287h1.6v1.6h-1.6zM174.2 274.7h1.6v1.6h-1.6zM173.2 262.5h1.6v1.6h-1.6zM172.2 250.2h1.6v1.6h-1.6zM171.2 237.9h1.6v1.6h-1.6zM170.3 225.7h1.6v1.6h-1.6zM169.3 213.4h1.6v1.6h-1.6zM177 310.4h1.6v1.6h-1.6zM198.2 317.2h1.6v1.6h-1.6zM219.4 324h1.6v1.6h-1.6zM240.5 330.7h1.6v1.6h-1.6zM261.7 337.5h1.6v1.6h-1.6zM282.9 344.3h1.6v1.6h-1.6zM282.9 344.3h1.6v1.6h-1.6zM309.5 336h1.6v1.6h-1.6zM336.2 327.6h1.6v1.6h-1.6zM362.9 319.2h1.6v1.6h-1.6zM389.5 310.9h1.6v1.6h-1.6z" fill="#222"/>
<g stroke="#000" stroke-opacity="0.12" stroke-width="0.3"><polygon points="284.1,239.5 287.8,241.4 284.1,242.2 280.4,240.2" fill="#153378"/><polygon points="287.8,239 291.5,240.9 287.8,241.4 284.1,239.5" fill="#143172"/><polygon points="280.4,237.6 284.1,239.5 280.4,240.2 276.7,238.2" fill="#153275"/><polygon points="291.5,238.6 295.1,240.5 291.5,240.9 287.8,239" fill="#132e6b"/><polygon points="284.1,237.1 287.8,239 284.1,239.5 280.4,237.6" fill="#142f6e"/><polygon points="276.7,235.8 280.4,237.6 276.7,238.2 273,236.4" fill="#143172"/><polygon points="295.2,238.4 298.8,240.2 295.1,240.5 291.5,238.6" fill="#112961"/><polygon points="287.8,236.8 291.5,238.6 287.8,239 284.1,237.1" fill="#122c67"/><polygon points="280.4,235.4 284.1,237.1 280.4,237.6 276.7,235.8" fill="#132e6b"/><polygon points="273,234 276.7,235.8 273,236.4 269.3,234.5" fill="#142f6e"/><polygon points="298.9,238.3 302.5,240.1 298.8,240.2 295.2,238.4" fill="#0f2555"/><polygon points="291.5,236.7 295.2,238.4 291.5,238.6 287.8,236.8" fill="#10275c"/><polygon points="284.1,235.1 287.8,236.8 284.1,237.1 280.4,235.4" fill="#122a62"/><polygon points="276.7,233.6 280.4,235.4 276.7,235.8 273,234" fill="#122c66"/><polygon points="269.3,232.3 273,234 269.3,234.5 265.6,232.8" fill="#132d6a"/><polygon points="302.6,238.4 306.2,240.1 302.5,240.1 298.9,238.3" fill="#0d1f49"/><polygon points="295.2,236.6 298.9,238.3 295.2,238.4 291.5,236.7" fill="#0e2250"/><polygon points="287.8,235 291.5,236.7 287.8,236.8 284.1,235.1" fill="#102557"/><polygon points="280.4,233.4 284.1,235.1 280.4,235.4 276.7,233.6" fill="#11285d"/><polygon points="273,232 276.7,233.6 273,234 269.3,232.3" fill="#112a61"/><polygon points="265.5,230.7 269.3,232.3 265.6,232.8 261.8,231.1" fill="#122b65"/><polygon points="298.9,236.7 302.6,238.4 298.9,238.3 295.2,236.6" fill="#0c1c42"/><polygon points="291.5,235 295.2,236.6 291.5,236.7 287.8,235" fill="#0d204a"/><polygon points="284.1,233.3 287.8,235 284.1,235.1 280.4,233.4" fill="#0e2351"/><polygon points="276.7,231.8 280.4,233.4 276.7,233.6 273,232" fill="#0f2557"/><polygon points="269.2,230.4 273,232 269.3,232.3 265.5,230.7" fill="#10275b"/><polygon points="306.3,238.5 309.9,240.2 306.2,240.1 302.6,238.4" fill="#0b193b"/><polygon points="261.8,229.1 265.5,230.7 261.8,231.1 258.1,229.5" fill="#112960"/><polygon points="302.6,237 306.3,238.5 302.6,238.4 298.9,236.7" fill="#091633"/><polygon points="295.2,235.1 298.9,236.7 295.2,236.6 291.5,235" fill="#0a193a"/><polygon points="287.8,233.4 291.5,235 287.8,235 284.1,233.3" fill="#0c1c42"/><polygon points="280.4,231.8 284.1,233.3 280.4,233.4 276.7,231.8" fill="#0d204a"/><polygon points="272.9,230.3 276.7,231.8 273,232 269.2,230.4" fill="#0e2250"/><polygon points="265.5,228.9 269.2,230.4 265.5,230.7 261.8,229.1" fill="#0f2454"/><polygon points="310,238.8 313.6,240.4 309.9,240.2 306.3,238.5" fill="#08122b"/><polygon points="258,227.7 261.8,229.1 258.1,229.5 254.3,228" fill="#102659"/><polygon points="291.5,233.6 295.2,235.1 291.5,235 287.8,233.4" fill="#091531"/><polygon points="284.1,231.9 287.8,233.4 284.1,233.3 280.4,231.8" fill="#0a1939"/><polygon points="276.7,230.3 280.4,231.8 276.7,231.8 272.9,230.3" fill="#0c1c41"/><polygon points="313.7,239.3 317.3,240.8 313.6,240.4 310,238.8" fill="#040a18"/><polygon points="306.3,237.3 310,238.8 306.3,238.5 302.6,237" fill="#060e20"/><polygon points="298.9,235.4 302.6,237 298.9,236.7 295.2,235.1" fill="#071229"/><polygon points="269.2,228.8 272.9,230.3 269.2,230.4 265.5,228.9" fill="#0d1e47"/><polygon points="261.7,227.5 265.5,228.9 261.8,229.1 258,227.7" fill="#0e214c"/><polygon points="254.2,226.3 258,227.7 254.3,228 250.5,226.6" fill="#0f2351"/><polygon points="295.3,233.9 298.9,235.4 295.2,235.1 291.5,233.6" fill="#050c1d"/><polygon points="287.8,232.1 291.5,233.6 287.8,233.4 284.1,231.9" fill="#071026"/><polygon points="280.4,230.4 284.1,231.9 280.4,231.8 276.7,230.3" fill="#08142e"/><polygon points="272.9,228.9 276.7,230.3 272.9,230.3 269.2,228.8" fill="#0a1736"/><polygon points="317.4,239.8 321,241.3 317.3,240.8 313.7,239.3" fill="#010103"/><polygon points="310,237.8 313.7,239.3 310,238.8 306.3,237.3" fill="#02040a"/><polygon points="302.7,235.8 306.3,237.3 302.6,237 298.9,235.4" fill="#040814"/><polygon points="265.4,227.4 269.2,228.8 265.5,228.9 261.7,227.5" fill="#0b1a3d"/><polygon points="257.9,226.1 261.7,227.5 258,227.7 254.2,226.3" fill="#0c1d43"/><polygon points="250.4,225 254.2,226.3 250.5,226.6 246.7,225.2" fill="#0d1f48"/><polygon points="284.1,230.7 287.8,232.1 284.1,231.9 280.4,230.4" fill="#040a17"/><polygon points="321.1,240.4 324.7,241.9 321,241.3 317.4,239.8" fill="#010103"/><polygon points="313.7,238.3 317.4,239.8 313.7,239.3 310,237.8" fill="#010103"/><polygon points="306.4,236.3 310,237.8 306.3,237.3 302.7,235.8" fill="#010103"/><polygon points="299,234.4 302.7,235.8 298.9,235.4 295.3,233.9" fill="#010204"/><polygon points="291.6,232.5 295.3,233.9 291.5,233.6 287.8,232.1" fill="#02060e"/><polygon points="276.6,229.1 280.4,230.4 276.7,230.3 272.9,228.9" fill="#060e21"/><polygon points="269.2,227.5 272.9,228.9 269.2,228.8 265.4,227.4" fill="#071229"/><polygon points="261.7,226.1 265.4,227.4 261.7,227.5 257.9,226.1" fill="#091530"/><polygon points="254.2,224.9 257.9,226.1 254.2,226.3 250.4,225" fill="#0a1837"/><polygon points="246.7,223.8 250.4,225 246.7,225.2 242.9,224" fill="#0b1a3d"/><polygon points="287.8,231.1 291.6,232.5 287.8,232.1 284.1,230.7" fill="#010204"/><polygon points="280.4,229.4 284.1,230.7 280.4,230.4 276.6,229.1" fill="#010205"/><polygon points="324.8,241.2 328.4,242.5 324.7,241.9 321.1,240.4" fill="#010103"/><polygon points="317.5,239 321.1,240.4 317.4,239.8 313.7,238.3" fill="#010103"/><polygon points="310.1,237 313.7,238.3 310,237.8 306.4,236.3" fill="#010103"/><polygon points="302.7,234.9 306.4,236.3 302.7,235.8 299,234.4" fill="#010204"/><polygon points="295.3,233 299,234.4 295.3,233.9 291.6,232.5" fill="#010204"/><polygon points="272.9,227.8 276.6,229.1 272.9,228.9 269.2,227.5" fill="#03060f"/><polygon points="265.4,226.3 269.2,227.5 265.4,227.4 261.7,226.1" fill="#040a18"/><polygon points="257.9,224.9 261.7,226.1 257.9,226.1 254.2,224.9" fill="#060e20"/><polygon points="250.4,223.7 254.2,224.9 250.4,225 246.7,223.8" fill="#071128"/><polygon points="242.9,222.7 246.7,223.8 242.9,224 239.1,222.9" fill="#08142f"/><polygon points="328.5,242 332.1,243.3 328.4,242.5 324.8,241.2" fill="#010103"/><polygon points="321.2,239.8 324.8,241.2 321.1,240.4 317.5,239" fill="#010103"/><polygon points="313.8,237.7 317.5,239 313.7,238.3 310.1,237" fill="#010103"/><polygon points="306.4,235.6 310.1,237 306.4,236.3 302.7,234.9" fill="#010103"/><polygon points="299,233.6 302.7,234.9 299,234.4 295.3,233" fill="#010204"/><polygon points="291.6,231.7 295.3,233 291.6,232.5 287.8,231.1" fill="#010204"/><polygon points="284.1,229.8 287.8,231.1 284.1,230.7 280.4,229.4" fill="#010204"/><polygon points="276.6,228.1 280.4,229.4 276.6,229.1 272.9,227.8" fill="#010204"/><polygon points="269.1,226.5 272.9,227.8 269.2,227.5 265.4,226.3" fill="#010204"/><polygon points="261.6,225.1 265.4,226.3 261.7,226.1 257.9,224.9" fill="#010204"/><polygon points="254.1,223.8 257.9,224.9 254.2,224.9 250.4,223.7" fill="#02050c"/><polygon points="246.6,222.6 250.4,223.7 246.7,223.8 242.9,222.7" fill="#040915"/><polygon points="239.1,221.7 242.9,222.7 239.1,222.9 235.3,221.9" fill="#050d1d"/><polygon points="332.2,242.9 335.8,244.2 332.1,243.3 328.5,242" fill="#010103"/><polygon points="324.9,240.7 328.5,242 324.8,241.2 321.2,239.8" fill="#010103"/><polygon points="317.5,238.5 321.2,239.8 317.5,239 313.8,237.7" fill="#010103"/><polygon points="310.1,236.4 313.8,237.7 310.1,237 306.4,235.6" fill="#010103"/><polygon points="302.7,234.3 306.4,235.6 302.7,234.9 299,233.6" fill="#010103"/><polygon points="295.3,232.3 299,233.6 295.3,233 291.6,231.7" fill="#010204"/><polygon points="272.9,227 276.6,228.1 272.9,227.8 269.1,226.5" fill="#010204"/><polygon points="265.4,225.4 269.1,226.5 265.4,226.3 261.6,225.1" fill="#010204"/><polygon points="257.9,224 261.6,225.1 257.9,224.9 254.1,223.8" fill="#010204"/><polygon points="250.3,222.8 254.1,223.8 250.4,223.7 246.6,222.6" fill="#010204"/><polygon points="242.8,221.7 246.6,222.6 242.9,222.7 239.1,221.7" fill="#010204"/><polygon points="235.2,220.8 239.1,221.7 235.3,221.9 231.5,220.9" fill="#010206"/><polygon points="287.8,230.4 291.6,231.7 287.8,231.1 284.1,229.8" fill="#010204"/><polygon points="280.4,228.6 284.1,229.8 280.4,229.4 276.6,228.1" fill="#010204"/><polygon points="335.9,243.9 339.5,245.1 335.8,244.2 332.2,242.9" fill="#010103"/><polygon points="328.6,241.6 332.2,242.9 328.5,242 324.9,240.7" fill="#010103"/><polygon points="321.2,239.4 324.9,240.7 321.2,239.8 317.5,238.5" fill="#010103"/><polygon points="313.8,237.3 317.5,238.5 313.8,237.7 310.1,236.4" fill="#010103"/><polygon points="306.4,235.1 310.1,236.4 306.4,235.6 302.7,234.3" fill="#010103"/><polygon points="299,233.1 302.7,234.3 299,233.6 295.3,232.3" fill="#010103"/><polygon points="269.1,225.9 272.9,227 269.1,226.5 265.4,225.4" fill="#010204"/><polygon points="261.6,224.4 265.4,225.4 261.6,225.1 257.9,224" fill="#010204"/><polygon points="254.1,223 257.9,224 254.1,223.8 250.3,222.8" fill="#010204"/><polygon points="246.5,221.8 250.3,222.8 246.6,222.6 242.8,221.7" fill="#010204"/><polygon points="239,220.9 242.8,221.7 239.1,221.7 235.2,220.8" fill="#010204"/><polygon points="231.4,220.1 235.2,220.8 231.5,220.9 227.7,220.1" fill="#010204"/><polygon points="291.6,231.1 295.3,232.3 291.6,231.7 287.8,230.4" fill="#010204"/><polygon points="276.6,227.5 280.4,228.6 276.6,228.1 272.9,227" fill="#010204"/><polygon points="284.1,229.3 287.8,230.4 284.1,229.8 280.4,228.6" fill="#010204"/><polygon points="339.6,244.9 343.2,246.1 339.5,245.1 335.9,243.9" fill="#010103"/><polygon points="332.2,242.7 335.9,243.9 332.2,242.9 328.6,241.6" fill="#010103"/><polygon points="324.9,240.4 328.6,241.6 324.9,240.7 321.2,239.4" fill="#010103"/><polygon points="317.5,238.2 321.2,239.4 317.5,238.5 313.8,237.3" fill="#010103"/><polygon points="310.2,236.1 313.8,237.3 310.1,236.4 306.4,235.1" fill="#010103"/><polygon points="302.7,234 306.4,235.1 302.7,234.3 299,233.1" fill="#010103"/><polygon points="265.3,224.9 269.1,225.9 265.4,225.4 261.6,224.4" fill="#010204"/><polygon points="257.8,223.4 261.6,224.4 257.9,224 254.1,223" fill="#010204"/><polygon points="250.3,222.1 254.1,223 250.3,222.8 246.5,221.8" fill="#010204"/><polygon points="242.7,221 246.5,221.8 242.8,221.7 239,220.9" fill="#010204"/><polygon points="235.2,220.1 239,220.9 235.2,220.8 231.4,220.1" fill="#010204"/><polygon points="227.6,219.4 231.4,220.1 227.7,220.1 223.9,219.5" fill="#010204"/><polygon points="295.3,231.9 299,233.1 295.3,232.3 291.6,231.1" fill="#010204"/><polygon points="272.9,226.4 276.6,227.5 272.9,227 269.1,225.9" fill="#010204"/><polygon points="287.8,230 291.6,231.1 287.8,230.4 284.1,229.3" fill="#010204"/><polygon points="280.4,228.2 284.1,229.3 280.4,228.6 276.6,227.5" fill="#010204"/><polygon points="343.2,246 346.8,247.2 343.2,246.1 339.6,244.9" fill="#010103"/><polygon points="335.9,243.8 339.6,244.9 335.9,243.9 332.2,242.7" fill="#010103"/><polygon points="328.6,241.5 332.2,242.7 328.6,241.6 324.9,240.4" fill="#010103"/><polygon points="321.3,239.3 324.9,240.4 321.2,239.4 317.5,238.2" fill="#010103"/><polygon points="313.9,237.1 317.5,238.2 313.8,237.3 310.2,236.1" fill="#010103"/><polygon points="306.5,234.9 310.2,236.1 306.4,235.1 302.7,234" fill="#010103"/><polygon points="261.6,224 265.3,224.9 261.6,224.4 257.8,223.4" fill="#010204"/><polygon points="254,222.6 257.8,223.4 254.1,223 250.3,222.1" fill="#010204"/><polygon points="246.5,221.4 250.3,222.1 246.5,221.8 242.7,221" fill="#010204"/><polygon points="238.9,220.3 242.7,221 239,220.9 235.2,220.1" fill="#010204"/><polygon points="231.4,219.5 235.2,220.1 231.4,220.1 227.6,219.4" fill="#010204"/><polygon points="223.8,218.9 227.6,219.4 223.9,219.5 220.1,218.9" fill="#010204"/><polygon points="299,232.9 302.7,234 299,233.1 295.3,231.9" fill="#010103"/><polygon points="269.1,225.5 272.9,226.4 269.1,225.9 265.3,224.9" fill="#010204"/><polygon points="291.6,230.9 295.3,231.9 291.6,231.1 287.8,230" fill="#010204"/><polygon points="284.1,228.9 287.8,230 284.1,229.3 280.4,228.2" fill="#010204"/><polygon points="276.6,227.2 280.4,228.2 276.6,227.5 272.9,226.4" fill="#010204"/><polygon points="346.9,247.2 350.5,248.3 346.8,247.2 343.2,246" fill="#000402"/><polygon points="339.6,244.9 343.2,246 339.6,244.9 335.9,243.8" fill="#010501"/><polygon points="332.3,242.7 335.9,243.8 332.2,242.7 328.6,241.5" fill="#010103"/><polygon points="325,240.4 328.6,241.5 324.9,240.4 321.3,239.3" fill="#010103"/><polygon points="317.6,238.2 321.3,239.3 317.5,238.2 313.9,237.1" fill="#010103"/><polygon points="310.2,236 313.9,237.1 310.2,236.1 306.5,234.9" fill="#010103"/><polygon points="257.8,223.2 261.6,224 257.8,223.4 254,222.6" fill="#010204"/><polygon points="250.2,221.8 254,222.6 250.3,222.1 246.5,221.4" fill="#010204"/><polygon points="242.7,220.7 246.5,221.4 242.7,221 238.9,220.3" fill="#010204"/><polygon points="235.1,219.8 238.9,220.3 235.2,220.1 231.4,219.5" fill="#010204"/><polygon points="227.5,219 231.4,219.5 227.6,219.4 223.8,218.9" fill="#010204"/><polygon points="220,218.5 223.8,218.9 220.1,218.9 216.2,218.5" fill="#010204"/><polygon points="302.8,233.9 306.5,234.9 302.7,234 299,232.9" fill="#010103"/><polygon points="265.3,224.6 269.1,225.5 265.3,224.9 261.6,224" fill="#010204"/><polygon points="295.3,231.8 299,232.9 295.3,231.9 291.6,230.9" fill="#010204"/><polygon points="287.8,229.8 291.6,230.9 287.8,230 284.1,228.9" fill="#010204"/><polygon points="280.4,228 284.1,228.9 280.4,228.2 276.6,227.2" fill="#010204"/><polygon points="272.8,226.2 276.6,227.2 272.9,226.4 269.1,225.5" fill="#010204"/><polygon points="350.6,248.4 354.2,249.5 350.5,248.3 346.9,247.2" fill="#000402"/><polygon points="343.3,246.2 346.9,247.2 343.2,246 339.6,244.9" fill="#010401"/><polygon points="336,243.9 339.6,244.9 335.9,243.8 332.3,242.7" fill="#010501"/><polygon points="328.6,241.6 332.3,242.7 328.6,241.5 325,240.4" fill="#030501"/><polygon points="321.3,239.4 325,240.4 321.3,239.3 317.6,238.2" fill="#040501"/><polygon points="313.9,237.1 317.6,238.2 313.9,237.1 310.2,236" fill="#050501"/><polygon points="254,222.5 257.8,223.2 254,222.6 250.2,221.8" fill="#010204"/><polygon points="246.4,221.2 250.2,221.8 246.5,221.4 242.7,220.7" fill="#010204"/><polygon points="238.9,220.2 242.7,220.7 238.9,220.3 235.1,219.8" fill="#010204"/><polygon points="231.3,219.3 235.1,219.8 231.4,219.5 227.5,219" fill="#010204"/><polygon points="223.7,218.7 227.5,219 223.8,218.9 220,218.5" fill="#010204"/><polygon points="216.2,218.3 220,218.5 216.2,218.5 212.4,218.2" fill="#010204"/><polygon points="306.5,235 310.2,236 306.5,234.9 302.8,233.9" fill="#050401"/><polygon points="261.5,223.9 265.3,224.6 261.6,224 257.8,223.2" fill="#010204"/><polygon points="299.1,232.9 302.8,233.9 299,232.9 295.3,231.8" fill="#050301"/><polygon points="291.6,230.8 295.3,231.8 291.6,230.9 287.8,229.8" fill="#010204"/><polygon points="284.1,228.9 287.8,229.8 284.1,228.9 280.4,228" fill="#010204"/><polygon points="276.6,227.1 280.4,228 276.6,227.2 272.8,226.2" fill="#010204"/><polygon points="269.1,225.4 272.8,226.2 269.1,225.5 265.3,224.6" fill="#010204"/><polygon points="347,247.4 350.6,248.4 346.9,247.2 343.3,246.2" fill="#010401"/><polygon points="339.7,245.2 343.3,246.2 339.6,244.9 336,243.9" fill="#010501"/><polygon points="332.3,242.9 336,243.9 332.3,242.7 328.6,241.6" fill="#020501"/><polygon points="325,240.6 328.6,241.6 325,240.4 321.3,239.4" fill="#040501"/><polygon points="317.6,238.4 321.3,239.4 317.6,238.2 313.9,237.1" fill="#050501"/><polygon points="250.2,221.9 254,222.5 250.2,221.8 246.4,221.2" fill="#050101"/><polygon points="242.6,220.7 246.4,221.2 242.7,220.7 238.9,220.2" fill="#050101"/><polygon points="235.1,219.8 238.9,220.2 235.1,219.8 231.3,219.3" fill="#010204"/><polygon points="227.5,219 231.3,219.3 227.5,219 223.7,218.7" fill="#010204"/><polygon points="219.9,218.5 223.7,218.7 220,218.5 216.2,218.3" fill="#010204"/><polygon points="354.2,249.7 357.8,250.7 354.2,249.5 350.6,248.4" fill="#000402"/><polygon points="310.2,236.1 313.9,237.1 310.2,236 306.5,235" fill="#050401"/><polygon points="257.8,223.2 261.5,223.9 257.8,223.2 254,222.5" fill="#050101"/><polygon points="212.4,218.2 216.2,218.3 212.4,218.2 208.6,218.1" fill="#010204"/><polygon points="302.8,234 306.5,235 302.8,233.9 299.1,232.9" fill="#050401"/><polygon points="295.3,231.9 299.1,232.9 295.3,231.8 291.6,230.8" fill="#050301"/><polygon points="287.9,230 291.6,230.8 287.8,229.8 284.1,228.9" fill="#050201"/><polygon points="280.4,228.1 284.1,228.9 280.4,228 276.6,227.1" fill="#050101"/><polygon points="272.8,226.3 276.6,227.1 272.8,226.2 269.1,225.4" fill="#050101"/><polygon points="265.3,224.7 269.1,225.4 265.3,224.6 261.5,223.9" fill="#050101"/><polygon points="343.3,246.5 347,247.4 343.3,246.2 339.7,245.2" fill="#010501"/><polygon points="336,244.2 339.7,245.2 336,243.9 332.3,242.9" fill="#020501"/><polygon points="328.7,241.9 332.3,242.9 328.6,241.6 325,240.6" fill="#030501"/><polygon points="321.3,239.6 325,240.6 321.3,239.4 317.6,238.4" fill="#050501"/><polygon points="246.4,221.4 250.2,221.9 246.4,221.2 242.6,220.7" fill="#050101"/><polygon points="238.8,220.3 242.6,220.7 238.9,220.2 235.1,219.8" fill="#050101"/><polygon points="231.2,219.5 235.1,219.8 231.3,219.3 227.5,219" fill="#050101"/><polygon points="223.7,218.8 227.5,219 223.7,218.7 219.9,218.5" fill="#050101"/><polygon points="357.9,251 361.5,252 357.8,250.7 354.2,249.7" fill="#000402"/><polygon points="350.6,248.8 354.2,249.7 350.6,248.4 347,247.4" fill="#000401"/><polygon points="313.9,237.4 317.6,238.4 313.9,237.1 310.2,236.1" fill="#050401"/><polygon points="254,222.6 257.8,223.2 254,222.5 250.2,221.9" fill="#050101"/><polygon points="216.1,218.4 219.9,218.5 216.2,218.3 212.4,218.2" fill="#050101"/><polygon points="208.6,218.2 212.4,218.2 208.6,218.1 204.8,218.1" fill="#050101"/><polygon points="306.5,235.2 310.2,236.1 306.5,235 302.8,234" fill="#050401"/><polygon points="299.1,233.1 302.8,234 299.1,232.9 295.3,231.9" fill="#050301"/><polygon points="291.6,231.1 295.3,231.9 291.6,230.8 287.9,230" fill="#050201"/><polygon points="284.1,229.1 287.9,230 284.1,228.9 280.4,228.1" fill="#050201"/><polygon points="276.6,227.3 280.4,228.1 276.6,227.1 272.8,226.3" fill="#050101"/><polygon points="269.1,225.6 272.8,226.3 269.1,225.4 265.3,224.7" fill="#050101"/><polygon points="261.5,224 265.3,224.7 261.5,223.9 257.8,223.2" fill="#050101"/><polygon points="339.7,245.6 343.3,246.5 339.7,245.2 336,244.2" fill="#020501"/><polygon points="332.4,243.3 336,244.2 332.3,242.9 328.7,241.9" fill="#030501"/><polygon points="325,241 328.7,241.9 325,240.6 321.3,239.6" fill="#040501"/><polygon points="242.6,221 246.4,221.4 242.6,220.7 238.8,220.3" fill="#050101"/><polygon points="235,220.1 238.8,220.3 235.1,219.8 231.2,219.5" fill="#050101"/><polygon points="227.4,219.3 231.2,219.5 227.5,219 223.7,218.8" fill="#050101"/><polygon points="361.5,252.4 365.1,253.2 361.5,252 357.9,251" fill="#000402"/><polygon points="354.3,250.1 357.9,251 354.2,249.7 350.6,248.8" fill="#000401"/><polygon points="347,247.9 350.6,248.8 347,247.4 343.3,246.5" fill="#010501"/><polygon points="317.6,238.7 321.3,239.6 317.6,238.4 313.9,237.4" fill="#050401"/><polygon points="250.2,222.2 254,222.6 250.2,221.9 246.4,221.4" fill="#050101"/><polygon points="219.9,218.8 223.7,218.8 219.9,218.5 216.1,218.4" fill="#050101"/><polygon points="212.3,218.5 216.1,218.4 212.4,218.2 208.6,218.2" fill="#050101"/><polygon points="204.8,218.4 208.6,218.2 204.8,218.1 201,218.3" fill="#050101"/><polygon points="310.2,236.5 313.9,237.4 310.2,236.1 306.5,235.2" fill="#050401"/><polygon points="302.8,234.4 306.5,235.2 302.8,234 299.1,233.1" fill="#050301"/><polygon points="295.3,232.3 299.1,233.1 295.3,231.9 291.6,231.1" fill="#050201"/><polygon points="287.9,230.3 291.6,231.1 287.9,230 284.1,229.1" fill="#050201"/><polygon points="280.3,228.4 284.1,229.1 280.4,228.1 276.6,227.3" fill="#050101"/><polygon points="272.8,226.7 276.6,227.3 272.8,226.3 269.1,225.6" fill="#050101"/><polygon points="265.3,225 269.1,225.6 265.3,224.7 261.5,224" fill="#050101"/><polygon points="257.7,223.5 261.5,224 257.8,223.2 254,222.6" fill="#050101"/><polygon points="328.7,242.4 332.4,243.3 328.7,241.9 325,241" fill="#040501"/><polygon points="238.8,220.8 242.6,221 238.8,220.3 235,220.1" fill="#050101"/><polygon points="336.1,244.7 339.7,245.6 336,244.2 332.4,243.3" fill="#030501"/><polygon points="231.2,220 235,220.1 231.2,219.5 227.4,219.3" fill="#050101"/><polygon points="365.2,253.7 368.8,254.6 365.1,253.2 361.5,252.4" fill="#000402"/><polygon points="357.9,251.5 361.5,252.4 357.9,251 354.3,250.1" fill="#000402"/><polygon points="350.7,249.3 354.3,250.1 350.6,248.8 347,247.9" fill="#010501"/><polygon points="343.4,247 347,247.9 343.3,246.5 339.7,245.6" fill="#010501"/><polygon points="321.3,240.1 325,241 321.3,239.6 317.6,238.7" fill="#050401"/><polygon points="246.4,221.9 250.2,222.2 246.4,221.4 242.6,221" fill="#050101"/><polygon points="223.6,219.3 227.4,219.3 223.7,218.8 219.9,218.8" fill="#050101"/><polygon points="216.1,218.9 219.9,218.8 216.1,218.4 212.3,218.5" fill="#050101"/><polygon points="208.5,218.7 212.3,218.5 208.6,218.2 204.8,218.4" fill="#050101"/><polygon points="201,218.8 204.8,218.4 201,218.3 197.2,218.6" fill="#050101"/><polygon points="313.9,237.9 317.6,238.7 313.9,237.4 310.2,236.5" fill="#050401"/><polygon points="306.5,235.7 310.2,236.5 306.5,235.2 302.8,234.4" fill="#050301"/><polygon points="299.1,233.6 302.8,234.4 299.1,233.1 295.3,232.3" fill="#050301"/><polygon points="291.6,231.6 295.3,232.3 291.6,231.1 287.9,230.3" fill="#050201"/><polygon points="284.1,229.6 287.9,230.3 284.1,229.1 280.3,228.4" fill="#040101"/><polygon points="276.6,227.8 280.3,228.4 276.6,227.3 272.8,226.7" fill="#050101"/><polygon points="269.1,226.1 272.8,226.7 269.1,225.6 265.3,225" fill="#050101"/><polygon points="261.5,224.5 265.3,225 261.5,224 257.7,223.5" fill="#050101"/><polygon points="253.9,223.1 257.7,223.5 254,222.6 250.2,222.2" fill="#050101"/><polygon points="332.4,243.9 336.1,244.7 332.4,243.3 328.7,242.4" fill="#040501"/><polygon points="235,220.7 238.8,220.8 235,220.1 231.2,220" fill="#050101"/><polygon points="368.8,255.1 372.4,255.9 368.8,254.6 365.2,253.7" fill="#000402"/><polygon points="361.6,252.9 365.2,253.7 361.5,252.4 357.9,251.5" fill="#000402"/><polygon points="354.3,250.7 357.9,251.5 354.3,250.1 350.7,249.3" fill="#010501"/><polygon points="347.1,248.4 350.7,249.3 347,247.9 343.4,247" fill="#010501"/><polygon points="339.7,246.1 343.4,247 339.7,245.6 336.1,244.7" fill="#020501"/><polygon points="325,241.6 328.7,242.4 325,241 321.3,240.1" fill="#050501"/><polygon points="242.6,221.7 246.4,221.9 242.6,221 238.8,220.8" fill="#050101"/><polygon points="227.4,220 231.2,220 227.4,219.3 223.6,219.3" fill="#050101"/><polygon points="219.8,219.4 223.6,219.3 219.9,218.8 216.1,218.9" fill="#050101"/><polygon points="212.3,219.1 216.1,218.9 212.3,218.5 208.5,218.7" fill="#050101"/><polygon points="204.7,219.1 208.5,218.7 204.8,218.4 201,218.8" fill="#050101"/><polygon points="197.2,219.3 201,218.8 197.2,218.6 193.4,219.1" fill="#050101"/><polygon points="317.7,239.3 321.3,240.1 317.6,238.7 313.9,237.9" fill="#050401"/><polygon points="310.2,237.1 313.9,237.9 310.2,236.5 306.5,235.7" fill="#050301"/><polygon points="302.8,235 306.5,235.7 302.8,234.4 299.1,233.6" fill="#050301"/><polygon points="295.3,232.9 299.1,233.6 295.3,232.3 291.6,231.6" fill="#050201"/><polygon points="287.9,230.9 291.6,231.6 287.9,230.3 284.1,229.6" fill="#040101"/><polygon points="280.3,229.1 284.1,229.6 280.3,228.4 276.6,227.8" fill="#050101"/><polygon points="272.8,227.3 276.6,227.8 272.8,226.7 269.1,226.1" fill="#050101"/><polygon points="265.3,225.6 269.1,226.1 265.3,225 261.5,224.5" fill="#050101"/><polygon points="257.7,224.2 261.5,224.5 257.7,223.5 253.9,223.1" fill="#050101"/><polygon points="250.1,222.8 253.9,223.1 250.2,222.2 246.4,221.9" fill="#050101"/><polygon points="372.5,256.5 376,257.2 372.4,255.9 368.8,255.1" fill="#000402"/><polygon points="365.2,254.3 368.8,255.1 365.2,253.7 361.6,252.9" fill="#000402"/><polygon points="358,252.1 361.6,252.9 357.9,251.5 354.3,250.7" fill="#000501"/><polygon points="350.7,249.9 354.3,250.7 350.7,249.3 347.1,248.4" fill="#010501"/><polygon points="343.4,247.6 347.1,248.4 343.4,247 339.7,246.1" fill="#020501"/><polygon points="336.1,245.4 339.7,246.1 336.1,244.7 332.4,243.9" fill="#030501"/><polygon points="231.2,220.8 235,220.7 231.2,220 227.4,220" fill="#050101"/><polygon points="223.6,220.1 227.4,220 223.6,219.3 219.8,219.4" fill="#050101"/><polygon points="216,219.7 219.8,219.4 216.1,218.9 212.3,219.1" fill="#050101"/><polygon points="208.5,219.6 212.3,219.1 208.5,218.7 204.7,219.1" fill="#050101"/><polygon points="200.9,219.6 204.7,219.1 201,218.8 197.2,219.3" fill="#050101"/><polygon points="193.4,220 197.2,219.3 193.4,219.1 189.7,219.8" fill="#050101"/><polygon points="328.7,243.1 332.4,243.9 328.7,242.4 325,241.6" fill="#040501"/><polygon points="238.8,221.6 242.6,221.7 238.8,220.8 235,220.7" fill="#050101"/><polygon points="321.4,240.8 325,241.6 321.3,240.1 317.7,239.3" fill="#050401"/><polygon points="314,238.6 317.7,239.3 313.9,237.9 310.2,237.1" fill="#050401"/><polygon points="306.5,236.4 310.2,237.1 306.5,235.7 302.8,235" fill="#050301"/><polygon points="299.1,234.3 302.8,235 299.1,233.6 295.3,232.9" fill="#050201"/><polygon points="291.6,232.3 295.3,232.9 291.6,231.6 287.9,230.9" fill="#040201"/><polygon points="284.1,230.4 287.9,230.9 284.1,229.6 280.3,229.1" fill="#040101"/><polygon points="276.6,228.6 280.3,229.1 276.6,227.8 272.8,227.3" fill="#050101"/><polygon points="269,226.9 272.8,227.3 269.1,226.1 265.3,225.6" fill="#050101"/><polygon points="261.5,225.3 265.3,225.6 261.5,224.5 257.7,224.2" fill="#050101"/><polygon points="253.9,223.9 257.7,224.2 253.9,223.1 250.1,222.8" fill="#050101"/><polygon points="246.4,222.7 250.1,222.8 246.4,221.9 242.6,221.7" fill="#050101"/><polygon points="368.9,255.8 372.5,256.5 368.8,255.1 365.2,254.3" fill="#000402"/><polygon points="361.6,253.6 365.2,254.3 361.6,252.9 358,252.1" fill="#000502"/><polygon points="354.4,251.4 358,252.1 354.3,250.7 350.7,249.9" fill="#010501"/><polygon points="347.1,249.2 350.7,249.9 347.1,248.4 343.4,247.6" fill="#010501"/><polygon points="339.8,246.9 343.4,247.6 339.7,246.1 336.1,245.4" fill="#030501"/><polygon points="227.4,221 231.2,220.8 227.4,220 223.6,220.1" fill="#050101"/><polygon points="219.8,220.4 223.6,220.1 219.8,219.4 216,219.7" fill="#050101"/><polygon points="212.2,220.2 216,219.7 212.3,219.1 208.5,219.6" fill="#050101"/><polygon points="204.7,220.1 208.5,219.6 204.7,219.1 200.9,219.6" fill="#090201"/><polygon points="197.1,220.4 200.9,219.6 197.2,219.3 193.4,220" fill="#0c0202"/><polygon points="376.1,257.8 379.7,258.5 376,257.2 372.5,256.5" fill="#000402"/><polygon points="332.4,244.6 336.1,245.4 332.4,243.9 328.7,243.1" fill="#040501"/><polygon points="317.7,240.1 321.4,240.8 317.7,239.3 314,238.6" fill="#050401"/><polygon points="310.2,238 314,238.6 310.2,237.1 306.5,236.4" fill="#050301"/><polygon points="302.8,235.8 306.5,236.4 302.8,235 299.1,234.3" fill="#050201"/><polygon points="295.3,233.8 299.1,234.3 295.3,232.9 291.6,232.3" fill="#040201"/><polygon points="287.8,231.8 291.6,232.3 287.9,230.9 284.1,230.4" fill="#040101"/><polygon points="280.3,229.9 284.1,230.4 280.3,229.1 276.6,228.6" fill="#050101"/><polygon points="272.8,228.2 276.6,228.6 272.8,227.3 269,226.9" fill="#050101"/><polygon points="265.3,226.6 269,226.9 265.3,225.6 261.5,225.3" fill="#050101"/><polygon points="257.7,225.1 261.5,225.3 257.7,224.2 253.9,223.9" fill="#050101"/><polygon points="250.1,223.8 253.9,223.9 250.1,222.8 246.4,222.7" fill="#050101"/><polygon points="235,221.7 238.8,221.6 235,220.7 231.2,220.8" fill="#050101"/><polygon points="189.6,220.9 193.4,220 189.7,219.8 185.9,220.7" fill="#0f0302"/><polygon points="325.1,242.4 328.7,243.1 325,241.6 321.4,240.8" fill="#050401"/><polygon points="242.6,222.6 246.4,222.7 242.6,221.7 238.8,221.6" fill="#050101"/><polygon points="365.3,255.1 368.9,255.8 365.2,254.3 361.6,253.6" fill="#000502"/><polygon points="358,252.9 361.6,253.6 358,252.1 354.4,251.4" fill="#010501"/><polygon points="350.7,250.7 354.4,251.4 350.7,249.9 347.1,249.2" fill="#010501"/><polygon points="343.4,248.5 347.1,249.2 343.4,247.6 339.8,246.9" fill="#020501"/><polygon points="223.6,221.3 227.4,221 223.6,220.1 219.8,220.4" fill="#220604"/><polygon points="216,220.9 219.8,220.4 216,219.7 212.2,220.2" fill="#260705"/><polygon points="208.5,220.7 212.2,220.2 208.5,219.6 204.7,220.1" fill="#2a0705"/><polygon points="200.9,220.9 204.7,220.1 200.9,219.6 197.1,220.4" fill="#2d0806"/><polygon points="379.7,259.2 383.3,259.9 379.7,258.5 376.1,257.8" fill="#000403"/><polygon points="372.5,257.2 376.1,257.8 372.5,256.5 368.9,255.8" fill="#000402"/><polygon points="336.1,246.2 339.8,246.9 336.1,245.4 332.4,244.6" fill="#040501"/><polygon points="314,239.5 317.7,240.1 314,238.6 310.2,238" fill="#050301"/><polygon points="306.5,237.4 310.2,238 306.5,236.4 302.8,235.8" fill="#050301"/><polygon points="299.1,235.3 302.8,235.8 299.1,234.3 295.3,233.8" fill="#050201"/><polygon points="291.6,233.3 295.3,233.8 291.6,232.3 287.8,231.8" fill="#040101"/><polygon points="284.1,231.4 287.8,231.8 284.1,230.4 280.3,229.9" fill="#050101"/><polygon points="276.6,229.6 280.3,229.9 276.6,228.6 272.8,228.2" fill="#050101"/><polygon points="269,227.9 272.8,228.2 269,226.9 265.3,226.6" fill="#060101"/><polygon points="261.5,226.4 265.3,226.6 261.5,225.3 257.7,225.1" fill="#0b0201"/><polygon points="253.9,225 257.7,225.1 253.9,223.9 250.1,223.8" fill="#100302"/><polygon points="231.2,221.9 235,221.7 231.2,220.8 227.4,221" fill="#1e0504"/><polygon points="193.4,221.2 197.1,220.4 193.4,220 189.6,220.9" fill="#300806"/><polygon points="185.9,221.9 189.6,220.9 185.9,220.7 182.2,221.7" fill="#330907"/><polygon points="321.4,241.7 325.1,242.4 321.4,240.8 317.7,240.1" fill="#050401"/><polygon points="246.3,223.8 250.1,223.8 246.4,222.7 242.6,222.6" fill="#150403"/><polygon points="328.8,244 332.4,244.6 328.7,243.1 325.1,242.4" fill="#050501"/><polygon points="238.8,222.7 242.6,222.6 238.8,221.6 235,221.7" fill="#190403"/><polygon points="361.7,254.4 365.3,255.1 361.6,253.6 358,252.9" fill="#000501"/><polygon points="354.4,252.2 358,252.9 354.4,251.4 350.7,250.7" fill="#010501"/><polygon points="347.1,250 350.7,250.7 347.1,249.2 343.4,248.5" fill="#020501"/><polygon points="219.8,221.8 223.6,221.3 219.8,220.4 216,220.9" fill="#3e0b08"/><polygon points="212.2,221.5 216,220.9 212.2,220.2 208.5,220.7" fill="#420b08"/><polygon points="204.7,221.5 208.5,220.7 204.7,220.1 200.9,220.9" fill="#450c09"/><polygon points="383.4,260.6 386.9,261.2 383.3,259.9 379.7,259.2" fill="#000403"/><polygon points="376.2,258.6 379.7,259.2 376.1,257.8 372.5,257.2" fill="#000402"/><polygon points="368.9,256.5 372.5,257.2 368.9,255.8 365.3,255.1" fill="#000502"/><polygon points="339.8,247.8 343.4,248.5 339.8,246.9 336.1,246.2" fill="#030501"/><polygon points="310.3,239 314,239.5 310.2,238 306.5,237.4" fill="#050301"/><polygon points="302.8,236.9 306.5,237.4 302.8,235.8 299.1,235.3" fill="#050301"/><polygon points="295.3,234.9 299.1,235.3 295.3,233.8 291.6,233.3" fill="#0b0402"/><polygon points="287.8,232.9 291.6,233.3 287.8,231.8 284.1,231.4" fill="#110403"/><polygon points="280.3,231.1 284.1,231.4 280.3,229.9 276.6,229.6" fill="#170403"/><polygon points="272.8,229.3 276.6,229.6 272.8,228.2 269,227.9" fill="#1e0504"/><polygon points="265.3,227.7 269,227.9 265.3,226.6 261.5,226.4" fill="#230604"/><polygon points="257.7,226.3 261.5,226.4 257.7,225.1 253.9,225" fill="#280705"/><polygon points="227.4,222.3 231.2,221.9 227.4,221 223.6,221.3" fill="#3a0a07"/><polygon points="197.1,221.8 200.9,220.9 197.1,220.4 193.4,221.2" fill="#480c09"/><polygon points="189.6,222.3 193.4,221.2 189.6,220.9 185.9,221.9" fill="#4b0d0a"/><polygon points="182.2,223.2 185.9,221.9 182.2,221.7 178.4,222.9" fill="#4e0d0a"/><polygon points="317.7,241.1 321.4,241.7 317.7,240.1 314,239.5" fill="#050401"/><polygon points="250.1,225 253.9,225 250.1,223.8 246.3,223.8" fill="#2d0806"/><polygon points="332.4,245.6 336.1,246.2 332.4,244.6 328.8,244" fill="#040501"/><polygon points="325.1,243.3 328.8,244 325.1,242.4 321.4,241.7" fill="#050401"/><polygon points="242.5,223.9 246.3,223.8 242.6,222.6 238.8,222.7" fill="#320906"/><polygon points="235,223 238.8,222.7 235,221.7 231.2,221.9" fill="#360907"/><polygon points="358.1,253.8 361.7,254.4 358,252.9 354.4,252.2" fill="#010501"/><polygon points="350.8,251.6 354.4,252.2 350.7,250.7 347.1,250" fill="#010501"/><polygon points="216,222.4 219.8,221.8 216,220.9 212.2,221.5" fill="#540e0b"/><polygon points="208.5,222.3 212.2,221.5 208.5,220.7 204.7,221.5" fill="#570f0b"/><polygon points="387,261.9 390.6,262.4 386.9,261.2 383.4,260.6" fill="#000403"/><polygon points="379.8,260 383.4,260.6 379.7,259.2 376.2,258.6" fill="#000402"/><polygon points="372.6,258 376.2,258.6 372.5,257.2 368.9,256.5" fill="#000502"/><polygon points="365.3,255.9 368.9,256.5 365.3,255.1 361.7,254.4" fill="#000502"/><polygon points="343.5,249.4 347.1,250 343.4,248.5 339.8,247.8" fill="#030501"/><polygon points="306.5,238.5 310.3,239 306.5,237.4 302.8,236.9" fill="#170d05"/><polygon points="299.1,236.5 302.8,236.9 299.1,235.3 295.3,234.9" fill="#1d0c06"/><polygon points="291.6,234.5 295.3,234.9 291.6,233.3 287.8,232.9" fill="#220a06"/><polygon points="284.1,232.6 287.8,232.9 284.1,231.4 280.3,231.1" fill="#290906"/><polygon points="276.6,230.9 280.3,231.1 276.6,229.6 272.8,229.3" fill="#2f0806"/><polygon points="269,229.2 272.8,229.3 269,227.9 265.3,227.7" fill="#360907"/><polygon points="261.5,227.7 265.3,227.7 261.5,226.4 257.7,226.3" fill="#3b0a07"/><polygon points="223.6,222.8 227.4,222.3 223.6,221.3 219.8,221.8" fill="#500e0a"/><polygon points="200.9,222.4 204.7,221.5 200.9,220.9 197.1,221.8" fill="#5a100b"/><polygon points="193.4,222.9 197.1,221.8 193.4,221.2 189.6,222.3" fill="#5d100c"/><polygon points="185.9,223.6 189.6,222.3 185.9,221.9 182.2,223.2" fill="#60100c"/><polygon points="178.4,224.6 182.2,223.2 178.4,222.9 174.7,224.3" fill="#62110c"/><polygon points="314,240.6 317.7,241.1 314,239.5 310.3,239" fill="#110c04"/><polygon points="253.9,226.3 257.7,226.3 253.9,225 250.1,225" fill="#3f0b08"/><polygon points="336.1,247.2 339.8,247.8 336.1,246.2 332.4,245.6" fill="#040501"/><polygon points="328.8,245 332.4,245.6 328.8,244 325.1,243.3" fill="#050501"/><polygon points="321.4,242.8 325.1,243.3 321.4,241.7 317.7,241.1" fill="#090802"/><polygon points="246.3,225.2 250.1,225 246.3,223.8 242.5,223.9" fill="#440c09"/><polygon points="238.8,224.2 242.5,223.9 238.8,222.7 235,223" fill="#480c09"/><polygon points="231.2,223.4 235,223 231.2,221.9 227.4,222.3" fill="#4c0d0a"/><polygon points="354.4,253.2 358.1,253.8 354.4,252.2 350.8,251.6" fill="#010501"/><polygon points="212.2,223.2 216,222.4 212.2,221.5 208.5,222.3" fill="#65110d"/><polygon points="390.6,263.2 394.2,263.7 390.6,262.4 387,261.9" fill="#000403"/><polygon points="383.4,261.4 387,261.9 383.4,260.6 379.8,260" fill="#000503"/><polygon points="376.2,259.4 379.8,260 376.2,258.6 372.6,258" fill="#000502"/><polygon points="369,257.4 372.6,258 368.9,256.5 365.3,255.9" fill="#000502"/><polygon points="361.7,255.4 365.3,255.9 361.7,254.4 358.1,253.8" fill="#010501"/><polygon points="347.1,251.1 350.8,251.6 347.1,250 343.5,249.4" fill="#020501"/><polygon points="302.8,238.2 306.5,238.5 302.8,236.9 299.1,236.5" fill="#2b150a"/><polygon points="295.3,236.2 299.1,236.5 295.3,234.9 291.6,234.5" fill="#2f1009"/><polygon points="287.8,234.2 291.6,234.5 287.8,232.9 284.1,232.6" fill="#360d08"/><polygon points="280.3,232.4 284.1,232.6 280.3,231.1 276.6,230.9" fill="#3d0b08"/><polygon points="272.8,230.8 276.6,230.9 272.8,229.3 269,229.2" fill="#440c09"/><polygon points="265.2,229.2 269,229.2 265.3,227.7 261.5,227.7" fill="#490d09"/><polygon points="219.8,223.4 223.6,222.8 219.8,221.8 216,222.4" fill="#62110c"/><polygon points="204.7,223.3 208.5,222.3 204.7,221.5 200.9,222.4" fill="#68120d"/><polygon points="197.2,223.6 200.9,222.4 197.1,221.8 193.4,222.9" fill="#6b120e"/><polygon points="189.7,224.1 193.4,222.9 189.6,222.3 185.9,223.6" fill="#6d130e"/><polygon points="182.2,225 185.9,223.6 182.2,223.2 178.4,224.6" fill="#70130e"/><polygon points="174.7,226.2 178.4,224.6 174.7,224.3 171,225.9" fill="#72140e"/><polygon points="310.3,240.2 314,240.6 310.3,239 306.5,238.5" fill="#251809"/><polygon points="257.7,227.8 261.5,227.7 257.7,226.3 253.9,226.3" fill="#4e0d0a"/><polygon points="339.8,248.9 343.5,249.4 339.8,247.8 336.1,247.2" fill="#050601"/><polygon points="332.5,246.7 336.1,247.2 332.4,245.6 328.8,245" fill="#0f0f03"/><polygon points="325.1,244.5 328.8,245 325.1,243.3 321.4,242.8" fill="#171505"/><polygon points="317.7,242.3 321.4,242.8 317.7,241.1 314,240.6" fill="#1f1807"/><polygon points="250.1,226.5 253.9,226.3 250.1,225 246.3,225.2" fill="#520e0a"/><polygon points="242.5,225.5 246.3,225.2 242.5,223.9 238.8,224.2" fill="#560f0b"/><polygon points="235,224.6 238.8,224.2 235,223 231.2,223.4" fill="#5a100b"/><polygon points="227.4,223.9 231.2,223.4 227.4,222.3 223.6,222.8" fill="#5e100c"/><polygon points="387.1,262.7 390.6,263.2 387,261.9 383.4,261.4" fill="#000503"/><polygon points="379.8,260.9 383.4,261.4 379.8,260 376.2,259.4" fill="#000502"/><polygon points="372.6,258.9 376.2,259.4 372.6,258 369,257.4" fill="#000502"/><polygon points="365.4,256.9 369,257.4 365.3,255.9 361.7,255.4" fill="#000502"/><polygon points="358.1,254.8 361.7,255.4 358.1,253.8 354.4,253.2" fill="#010501"/><polygon points="350.8,252.7 354.4,253.2 350.8,251.6 347.1,251.1" fill="#020702"/><polygon points="299.1,237.9 302.8,238.2 299.1,236.5 295.3,236.2" fill="#3b180c"/><polygon points="291.6,235.9 295.3,236.2 291.6,234.5 287.8,234.2" fill="#40120b"/><polygon points="284.1,234.1 287.8,234.2 284.1,232.6 280.3,232.4" fill="#470f0a"/><polygon points="276.6,232.4 280.3,232.4 276.6,230.9 272.8,230.8" fill="#4f0e0a"/><polygon points="269,230.8 272.8,230.8 269,229.2 265.2,229.2" fill="#550f0b"/><polygon points="216,224.3 219.8,223.4 216,222.4 212.2,223.2" fill="#70130e"/><polygon points="208.5,224.2 212.2,223.2 208.5,222.3 204.7,223.3" fill="#73140f"/><polygon points="200.9,224.4 204.7,223.3 200.9,222.4 197.2,223.6" fill="#76140f"/><polygon points="193.4,224.9 197.2,223.6 193.4,222.9 189.7,224.1" fill="#78150f"/><polygon points="185.9,225.6 189.7,224.1 185.9,223.6 182.2,225" fill="#7b150f"/><polygon points="178.5,226.7 182.2,225 178.4,224.6 174.7,226.2" fill="#7d1510"/><polygon points="306.5,239.9 310.3,240.2 306.5,238.5 302.8,238.2" fill="#371e0d"/><polygon points="261.5,229.3 265.2,229.2 261.5,227.7 257.7,227.8" fill="#590f0b"/><polygon points="343.5,250.5 347.1,251.1 343.5,249.4 339.8,248.9" fill="#0b1104"/><polygon points="336.1,248.4 339.8,248.9 336.1,247.2 332.5,246.7" fill="#171a06"/><polygon points="328.8,246.2 332.5,246.7 328.8,245 325.1,244.5" fill="#232107"/><polygon points="321.4,244.1 325.1,244.5 321.4,242.8 317.7,242.3" fill="#2b2309"/><polygon points="314,241.9 317.7,242.3 314,240.6 310.3,240.2" fill="#31220c"/><polygon points="253.9,228 257.7,227.8 253.9,226.3 250.1,226.5" fill="#5e100c"/><polygon points="246.3,226.8 250.1,226.5 246.3,225.2 242.5,225.5" fill="#62110c"/><polygon points="238.8,225.9 242.5,225.5 238.8,224.2 235,224.6" fill="#66120d"/><polygon points="231.2,225.1 235,224.6 231.2,223.4 227.4,223.9" fill="#69120d"/><polygon points="223.6,224.6 227.4,223.9 223.6,222.8 219.8,223.4" fill="#6d130e"/><polygon points="383.5,262.2 387.1,262.7 383.4,261.4 379.8,260.9" fill="#000502"/><polygon points="376.2,260.4 379.8,260.9 376.2,259.4 372.6,258.9" fill="#000502"/><polygon points="369,258.4 372.6,258.9 369,257.4 365.4,256.9" fill="#000502"/><polygon points="361.7,256.4 365.4,256.9 361.7,255.4 358.1,254.8" fill="#010501"/><polygon points="295.3,237.7 299.1,237.9 295.3,236.2 291.6,235.9" fill="#49180e"/><polygon points="287.8,235.8 291.6,235.9 287.8,234.2 284.1,234.1" fill="#4f130c"/><polygon points="280.3,234.1 284.1,234.1 280.3,232.4 276.6,232.4" fill="#580f0b"/><polygon points="272.8,232.4 276.6,232.4 272.8,230.8 269,230.8" fill="#5e100c"/><polygon points="204.7,225.4 208.5,224.2 204.7,223.3 200.9,224.4" fill="#7f1610"/><polygon points="197.2,225.7 200.9,224.4 197.2,223.6 193.4,224.9" fill="#811610"/><polygon points="189.7,226.3 193.4,224.9 189.7,224.1 185.9,225.6" fill="#831711"/><polygon points="182.2,227.3 185.9,225.6 182.2,225 178.5,226.7" fill="#851711"/><polygon points="302.8,239.6 306.5,239.9 302.8,238.2 299.1,237.9" fill="#46210f"/><polygon points="265.2,230.9 269,230.8 265.2,229.2 261.5,229.3" fill="#63110c"/><polygon points="354.4,254.3 358.1,254.8 354.4,253.2 350.8,252.7" fill="#040e04"/><polygon points="347.1,252.2 350.8,252.7 347.1,251.1 343.5,250.5" fill="#0e1906"/><polygon points="339.8,250.1 343.5,250.5 339.8,248.9 336.1,248.4" fill="#1c2308"/><polygon points="332.5,247.9 336.1,248.4 332.5,246.7 328.8,246.2" fill="#2c2b09"/><polygon points="325.1,245.8 328.8,246.2 325.1,244.5 321.4,244.1" fill="#342e0b"/><polygon points="317.7,243.7 321.4,244.1 317.7,242.3 314,241.9" fill="#3b2d0e"/><polygon points="310.2,241.6 314,241.9 310.3,240.2 306.5,239.9" fill="#412810"/><polygon points="257.7,229.5 261.5,229.3 257.7,227.8 253.9,228" fill="#67120d"/><polygon points="250.1,228.3 253.9,228 250.1,226.5 246.3,226.8" fill="#6b120e"/><polygon points="242.5,227.3 246.3,226.8 242.5,225.5 238.8,225.9" fill="#6f130e"/><polygon points="235,226.5 238.8,225.9 235,224.6 231.2,225.1" fill="#72140e"/><polygon points="227.4,225.8 231.2,225.1 227.4,223.9 223.6,224.6" fill="#76140f"/><polygon points="219.8,225.4 223.6,224.6 219.8,223.4 216,224.3" fill="#79150f"/><polygon points="212.3,225.3 216,224.3 212.2,223.2 208.5,224.2" fill="#7c1510"/><polygon points="379.9,261.8 383.5,262.2 379.8,260.9 376.2,260.4" fill="#000502"/><polygon points="372.6,259.9 376.2,260.4 372.6,258.9 369,258.4" fill="#000502"/><polygon points="365.4,258 369,258.4 365.4,256.9 361.7,256.4" fill="#010702"/><polygon points="291.6,237.6 295.3,237.7 291.6,235.9 287.8,235.8" fill="#56180f"/><polygon points="284.1,235.8 287.8,235.8 284.1,234.1 280.3,234.1" fill="#5e140d"/><polygon points="276.6,234.1 280.3,234.1 276.6,232.4 272.8,232.4" fill="#66120d"/><polygon points="201,226.7 204.7,225.4 200.9,224.4 197.2,225.7" fill="#881711"/><polygon points="193.5,227.2 197.2,225.7 193.4,224.9 189.7,226.3" fill="#8a1812"/><polygon points="186,228 189.7,226.3 185.9,225.6 182.2,227.3" fill="#8d1812"/><polygon points="299.1,239.5 302.8,239.6 299.1,237.9 295.3,237.7" fill="#522111"/><polygon points="269,232.6 272.8,232.4 269,230.8 265.2,230.9" fill="#6a120d"/><polygon points="358.1,256 361.7,256.4 358.1,254.8 354.4,254.3" fill="#051405"/><polygon points="343.5,251.8 347.1,252.2 343.5,250.5 339.8,250.1" fill="#1e2a09"/><polygon points="336.1,249.7 339.8,250.1 336.1,248.4 332.5,247.9" fill="#30330b"/><polygon points="328.8,247.6 332.5,247.9 328.8,246.2 325.1,245.8" fill="#3c370d"/><polygon points="321.4,245.5 325.1,245.8 321.4,244.1 317.7,243.7" fill="#43370f"/><polygon points="314,243.4 317.7,243.7 314,241.9 310.2,241.6" fill="#4a3212"/><polygon points="306.5,241.4 310.2,241.6 306.5,239.9 302.8,239.6" fill="#4e2a12"/><polygon points="261.5,231.2 265.2,230.9 261.5,229.3 257.7,229.5" fill="#6f130e"/><polygon points="253.9,229.9 257.7,229.5 253.9,228 250.1,228.3" fill="#73140e"/><polygon points="246.3,228.8 250.1,228.3 246.3,226.8 242.5,227.3" fill="#76140f"/><polygon points="238.8,227.9 242.5,227.3 238.8,225.9 235,226.5" fill="#7a150f"/><polygon points="231.2,227.2 235,226.5 231.2,225.1 227.4,225.8" fill="#7d1610"/><polygon points="223.6,226.7 227.4,225.8 223.6,224.6 219.8,225.4" fill="#801610"/><polygon points="208.5,226.4 212.3,225.3 208.5,224.2 204.7,225.4" fill="#861711"/><polygon points="350.8,253.9 354.4,254.3 350.8,252.7 347.1,252.2" fill="#0e2008"/><polygon points="216.1,226.5 219.8,225.4 216,224.3 212.3,225.3" fill="#831711"/><polygon points="376.3,261.4 379.9,261.8 376.2,260.4 372.6,259.9" fill="#000502"/><polygon points="369,259.5 372.6,259.9 369,258.4 365.4,258" fill="#010a03"/><polygon points="287.8,237.6 291.6,237.6 287.8,235.8 284.1,235.8" fill="#631910"/><polygon points="280.3,235.9 284.1,235.8 280.3,234.1 276.6,234.1" fill="#6c140e"/><polygon points="197.3,228.2 201,226.7 197.2,225.7 193.5,227.2" fill="#901912"/><polygon points="189.8,228.9 193.5,227.2 189.7,226.3 186,228" fill="#921913"/><polygon points="295.3,239.4 299.1,239.5 295.3,237.7 291.6,237.6" fill="#5d2011"/><polygon points="272.8,234.3 276.6,234.1 272.8,232.4 269,232.6" fill="#71130e"/><polygon points="361.8,257.6 365.4,258 361.7,256.4 358.1,256" fill="#051807"/><polygon points="339.8,251.4 343.5,251.8 339.8,250.1 336.1,249.7" fill="#2f390c"/><polygon points="332.5,249.4 336.1,249.7 332.5,247.9 328.8,247.6" fill="#42410e"/><polygon points="325.1,247.3 328.8,247.6 325.1,245.8 321.4,245.5" fill="#4a4110"/><polygon points="317.7,245.2 321.4,245.5 317.7,243.7 314,243.4" fill="#513c13"/><polygon points="310.2,243.2 314,243.4 310.2,241.6 306.5,241.4" fill="#563515"/><polygon points="302.8,241.3 306.5,241.4 302.8,239.6 299.1,239.5" fill="#5a2b14"/><polygon points="265.2,232.9 269,232.6 265.2,230.9 261.5,231.2" fill="#75140f"/><polygon points="257.7,231.6 261.5,231.2 257.7,229.5 253.9,229.9" fill="#79150f"/><polygon points="250.1,230.4 253.9,229.9 250.1,228.3 246.3,228.8" fill="#7d1510"/><polygon points="242.6,229.4 246.3,228.8 242.5,227.3 238.8,227.9" fill="#801610"/><polygon points="235,228.7 238.8,227.9 235,226.5 231.2,227.2" fill="#831711"/><polygon points="227.4,228.1 231.2,227.2 227.4,225.8 223.6,226.7" fill="#861711"/><polygon points="204.8,227.8 208.5,226.4 204.7,225.4 201,226.7" fill="#8e1912"/><polygon points="354.5,255.6 358.1,256 354.4,254.3 350.8,253.9" fill="#0c2509"/><polygon points="347.1,253.5 350.8,253.9 347.1,252.2 343.5,251.8" fill="#1c300b"/><polygon points="219.9,227.8 223.6,226.7 219.8,225.4 216.1,226.5" fill="#891811"/><polygon points="212.3,227.6 216.1,226.5 212.3,225.3 208.5,226.4" fill="#8c1812"/><polygon points="372.7,261 376.3,261.4 372.6,259.9 369,259.5" fill="#010b04"/><polygon points="284.1,237.7 287.8,237.6 284.1,235.8 280.3,235.9" fill="#6f1910"/><polygon points="193.5,229.9 197.3,228.2 193.5,227.2 189.8,228.9" fill="#971a13"/><polygon points="291.6,239.4 295.3,239.4 291.6,237.6 287.8,237.6" fill="#671e12"/><polygon points="276.6,236.1 280.3,235.9 276.6,234.1 272.8,234.3" fill="#76140f"/><polygon points="365.4,259.1 369,259.5 365.4,258 361.8,257.6" fill="#041b08"/><polygon points="336.1,251.1 339.8,251.4 336.1,249.7 332.5,249.4" fill="#43470f"/><polygon points="328.8,249.1 332.5,249.4 328.8,247.6 325.1,247.3" fill="#4f4911"/><polygon points="321.4,247.1 325.1,247.3 321.4,245.5 317.7,245.2" fill="#574713"/><polygon points="314,245.1 317.7,245.2 314,243.4 310.2,243.2" fill="#5d3f17"/><polygon points="306.5,243.1 310.2,243.2 306.5,241.4 302.8,241.3" fill="#613517"/><polygon points="299.1,241.3 302.8,241.3 299.1,239.5 295.3,239.4" fill="#642915"/><polygon points="269,234.6 272.8,234.3 269,232.6 265.2,232.9" fill="#7a150f"/><polygon points="261.5,233.3 265.2,232.9 261.5,231.2 257.7,231.6" fill="#7e1610"/><polygon points="253.9,232.1 257.7,231.6 253.9,229.9 250.1,230.4" fill="#821610"/><polygon points="246.4,231.1 250.1,230.4 246.3,228.8 242.6,229.4" fill="#851711"/><polygon points="238.8,230.2 242.6,229.4 238.8,227.9 235,228.7" fill="#881811"/><polygon points="231.2,229.6 235,228.7 231.2,227.2 227.4,228.1" fill="#8b1812"/><polygon points="201,229.3 204.8,227.8 201,226.7 197.3,228.2" fill="#951a13"/><polygon points="358.1,257.2 361.8,257.6 358.1,256 354.5,255.6" fill="#0a280b"/><polygon points="350.8,255.2 354.5,255.6 350.8,253.9 347.1,253.5" fill="#19340c"/><polygon points="343.5,253.2 347.1,253.5 343.5,251.8 339.8,251.4" fill="#2d3e0e"/><polygon points="223.7,229.2 227.4,228.1 223.6,226.7 219.9,227.8" fill="#8e1912"/><polygon points="216.1,229 219.9,227.8 216.1,226.5 212.3,227.6" fill="#911912"/><polygon points="208.6,229 212.3,227.6 208.5,226.4 204.8,227.8" fill="#931913"/><polygon points="287.8,239.6 291.6,239.4 287.8,237.6 284.1,237.7" fill="#721e13"/><polygon points="280.3,238 284.1,237.7 280.3,235.9 276.6,236.1" fill="#7a1811"/><polygon points="369,260.7 372.7,261 369,259.5 365.4,259.1" fill="#031b08"/><polygon points="332.4,250.9 336.1,251.1 332.5,249.4 328.8,249.1" fill="#545212"/><polygon points="325.1,248.9 328.8,249.1 325.1,247.3 321.4,247.1" fill="#5c5013"/><polygon points="317.7,246.9 321.4,247.1 317.7,245.2 314,245.1" fill="#624a17"/><polygon points="310.2,245 314,245.1 310.2,243.2 306.5,243.1" fill="#674019"/><polygon points="302.8,243.1 306.5,243.1 302.8,241.3 299.1,241.3" fill="#6b3418"/><polygon points="295.3,241.3 299.1,241.3 295.3,239.4 291.6,239.4" fill="#6d2715"/><polygon points="272.8,236.4 276.6,236.1 272.8,234.3 269,234.6" fill="#7f1610"/><polygon points="265.2,235.1 269,234.6 265.2,232.9 261.5,233.3" fill="#831711"/><polygon points="257.7,233.8 261.5,233.3 257.7,231.6 253.9,232.1" fill="#861711"/><polygon points="250.1,232.8 253.9,232.1 250.1,230.4 246.4,231.1" fill="#8a1811"/><polygon points="242.6,231.9 246.4,231.1 242.6,229.4 238.8,230.2" fill="#8d1812"/><polygon points="235,231.2 238.8,230.2 235,228.7 231.2,229.6" fill="#901912"/><polygon points="197.3,231.1 201,229.3 197.3,228.2 193.5,229.9" fill="#9c1b14"/><polygon points="361.8,258.8 365.4,259.1 361.8,257.6 358.1,257.2" fill="#092a0c"/><polygon points="354.5,256.9 358.1,257.2 354.5,255.6 350.8,255.2" fill="#14370e"/><polygon points="347.2,254.9 350.8,255.2 347.1,253.5 343.5,253.2" fill="#29420f"/><polygon points="339.8,252.9 343.5,253.2 339.8,251.4 336.1,251.1" fill="#404b10"/><polygon points="227.5,230.7 231.2,229.6 227.4,228.1 223.7,229.2" fill="#931913"/><polygon points="219.9,230.4 223.7,229.2 219.9,227.8 216.1,229" fill="#951a13"/><polygon points="212.4,230.3 216.1,229 212.3,227.6 208.6,229" fill="#971a13"/><polygon points="204.8,230.6 208.6,229 204.8,227.8 201,229.3" fill="#9a1a13"/><polygon points="328.8,250.8 332.4,250.9 328.8,249.1 325.1,248.9" fill="#605814"/><polygon points="321.4,248.8 325.1,248.9 321.4,247.1 317.7,246.9" fill="#675417"/><polygon points="313.9,246.9 317.7,246.9 314,245.1 310.2,245" fill="#6d4b1b"/><polygon points="306.5,245 310.2,245 306.5,243.1 302.8,243.1" fill="#71401b"/><polygon points="299,243.2 302.8,243.1 299.1,241.3 295.3,241.3" fill="#743219"/><polygon points="291.6,241.5 295.3,241.3 291.6,239.4 287.8,239.6" fill="#762515"/><polygon points="284.1,239.9 287.8,239.6 284.1,237.7 280.3,238" fill="#7d1e13"/><polygon points="276.5,238.3 280.3,238 276.6,236.1 272.8,236.4" fill="#821811"/><polygon points="269,236.9 272.8,236.4 269,234.6 265.2,235.1" fill="#861711"/><polygon points="261.5,235.6 265.2,235.1 261.5,233.3 257.7,233.8" fill="#8a1811"/><polygon points="253.9,234.5 257.7,233.8 253.9,232.1 250.1,232.8" fill="#8d1812"/><polygon points="246.4,233.6 250.1,232.8 246.4,231.1 242.6,231.9" fill="#911912"/><polygon points="238.8,232.8 242.6,231.9 238.8,230.2 235,231.2" fill="#931913"/><polygon points="365.4,260.4 369,260.7 365.4,259.1 361.8,258.8" fill="#072b0c"/><polygon points="358.1,258.5 361.8,258.8 358.1,257.2 354.5,256.9" fill="#10390e"/><polygon points="350.8,256.6 354.5,256.9 350.8,255.2 347.2,254.9" fill="#234410"/><polygon points="343.5,254.7 347.2,254.9 343.5,253.2 339.8,252.9" fill="#3b4f11"/><polygon points="336.1,252.7 339.8,252.9 336.1,251.1 332.4,250.9" fill="#545813"/><polygon points="231.3,232.3 235,231.2 231.2,229.6 227.5,230.7" fill="#961a13"/><polygon points="223.7,231.9 227.5,230.7 223.7,229.2 219.9,230.4" fill="#991a13"/><polygon points="216.2,231.8 219.9,230.4 216.1,229 212.4,230.3" fill="#9b1b14"/><polygon points="208.6,231.9 212.4,230.3 208.6,229 204.8,230.6" fill="#9d1b14"/><polygon points="201.1,232.3 204.8,230.6 201,229.3 197.3,231.1" fill="#9f1b14"/><polygon points="325,250.7 328.8,250.8 325.1,248.9 321.4,248.8" fill="#6b5e17"/><polygon points="317.6,248.8 321.4,248.8 317.7,246.9 313.9,246.9" fill="#71561a"/><polygon points="310.2,247 313.9,246.9 310.2,245 306.5,245" fill="#774c1d"/><polygon points="302.8,245.2 306.5,245 302.8,243.1 299,243.2" fill="#7a3e1c"/><polygon points="295.3,243.4 299,243.2 295.3,241.3 291.6,241.5" fill="#7c3119"/><polygon points="272.8,238.8 276.5,238.3 272.8,236.4 269,236.9" fill="#8a1811"/><polygon points="265.2,237.5 269,236.9 265.2,235.1 261.5,235.6" fill="#8d1812"/><polygon points="257.7,236.4 261.5,235.6 257.7,233.8 253.9,234.5" fill="#911912"/><polygon points="250.2,235.4 253.9,234.5 250.1,232.8 246.4,233.6" fill="#941913"/><polygon points="242.6,234.6 246.4,233.6 242.6,231.9 238.8,232.8" fill="#971a13"/><polygon points="361.8,260.1 365.4,260.4 361.8,258.8 358.1,258.5" fill="#0d390f"/><polygon points="354.5,258.3 358.1,258.5 354.5,256.9 350.8,256.6" fill="#1c4611"/><polygon points="347.1,256.4 350.8,256.6 347.2,254.9 343.5,254.7" fill="#355112"/><polygon points="339.8,254.5 343.5,254.7 339.8,252.9 336.1,252.7" fill="#4e5b14"/><polygon points="332.4,252.6 336.1,252.7 332.4,250.9 328.8,250.8" fill="#636015"/><polygon points="287.8,241.8 291.6,241.5 287.8,239.6 284.1,239.9" fill="#7f2416"/><polygon points="280.3,240.2 284.1,239.9 280.3,238 276.5,238.3" fill="#841d13"/><polygon points="235,233.9 238.8,232.8 235,231.2 231.3,232.3" fill="#991a13"/><polygon points="227.5,233.5 231.3,232.3 227.5,230.7 223.7,231.9" fill="#9c1b14"/><polygon points="220,233.3 223.7,231.9 219.9,230.4 216.2,231.8" fill="#9e1b14"/><polygon points="212.4,233.4 216.2,231.8 212.4,230.3 208.6,231.9" fill="#a01c14"/><polygon points="204.9,233.7 208.6,231.9 204.8,230.6 201.1,232.3" fill="#a21c14"/><polygon points="321.3,250.7 325,250.7 321.4,248.8 317.6,248.8" fill="#756119"/><polygon points="313.9,248.9 317.6,248.8 313.9,246.9 310.2,247" fill="#7b571e"/><polygon points="306.5,247.1 310.2,247 306.5,245 302.8,245.2" fill="#7f4b1e"/><polygon points="299,245.4 302.8,245.2 299,243.2 295.3,243.4" fill="#833d1d"/><polygon points="269,239.4 272.8,238.8 269,236.9 265.2,237.5" fill="#901912"/><polygon points="261.5,238.2 265.2,237.5 261.5,235.6 257.7,236.4" fill="#931913"/><polygon points="253.9,237.2 257.7,236.4 253.9,234.5 250.2,235.4" fill="#961a13"/><polygon points="246.4,236.4 250.2,235.4 246.4,233.6 242.6,234.6" fill="#991a13"/><polygon points="358.1,259.9 361.8,260.1 358.1,258.5 354.5,258.3" fill="#154612"/><polygon points="350.8,258.1 354.5,258.3 350.8,256.6 347.1,256.4" fill="#2c5213"/><polygon points="343.5,256.3 347.1,256.4 343.5,254.7 339.8,254.5" fill="#475d14"/><polygon points="336.1,254.4 339.8,254.5 336.1,252.7 332.4,252.6" fill="#626616"/><polygon points="328.7,252.6 332.4,252.6 328.8,250.8 325,250.7" fill="#6e6617"/><polygon points="291.5,243.7 295.3,243.4 291.6,241.5 287.8,241.8" fill="#842f19"/><polygon points="284,242.2 287.8,241.8 284.1,239.9 280.3,240.2" fill="#862416"/><polygon points="276.5,240.8 280.3,240.2 276.5,238.3 272.8,238.8" fill="#8b1d14"/><polygon points="238.8,235.7 242.6,234.6 238.8,232.8 235,233.9" fill="#9c1b14"/><polygon points="231.3,235.2 235,233.9 231.3,232.3 227.5,233.5" fill="#9f1b14"/><polygon points="223.8,235 227.5,233.5 223.7,231.9 220,233.3" fill="#a11c14"/><polygon points="216.2,234.9 220,233.3 216.2,231.8 212.4,233.4" fill="#a21c14"/><polygon points="208.7,235.2 212.4,233.4 208.6,231.9 204.9,233.7" fill="#a21c14"/><polygon points="317.6,250.8 321.3,250.7 317.6,248.8 313.9,248.9" fill="#7f631d"/><polygon points="310.2,249.1 313.9,248.9 310.2,247 306.5,247.1" fill="#845821"/><polygon points="302.7,247.4 306.5,247.1 302.8,245.2 299,245.4" fill="#884a20"/><polygon points="265.3,240.2 269,239.4 265.2,237.5 261.5,238.2" fill="#961a13"/><polygon points="257.7,239.1 261.5,238.2 257.7,236.4 253.9,237.2" fill="#991a13"/><polygon points="250.2,238.2 253.9,237.2 250.2,235.4 246.4,236.4" fill="#9c1b14"/><polygon points="354.5,259.8 358.1,259.9 354.5,258.3 350.8,258.1" fill="#235314"/><polygon points="347.1,258 350.8,258.1 347.1,256.4 343.5,256.3" fill="#3f5e15"/><polygon points="339.8,256.2 343.5,256.3 339.8,254.5 336.1,254.4" fill="#596816"/><polygon points="332.4,254.4 336.1,254.4 332.4,252.6 328.7,252.6" fill="#706e18"/><polygon points="325,252.6 328.7,252.6 325,250.7 321.3,250.7" fill="#786a1a"/><polygon points="295.3,245.7 299,245.4 295.3,243.4 291.5,243.7" fill="#8a3c1d"/><polygon points="287.8,244.2 291.5,243.7 287.8,241.8 284,242.2" fill="#892c19"/><polygon points="280.3,242.7 284,242.2 280.3,240.2 276.5,240.8" fill="#8c2316"/><polygon points="272.8,241.4 276.5,240.8 272.8,238.8 269,239.4" fill="#911d14"/><polygon points="242.6,237.5 246.4,236.4 242.6,234.6 238.8,235.7" fill="#9e1b14"/><polygon points="235.1,237 238.8,235.7 235,233.9 231.3,235.2" fill="#a11c14"/><polygon points="227.5,236.7 231.3,235.2 227.5,233.5 223.8,235" fill="#a21c14"/><polygon points="220,236.6 223.8,235 220,233.3 216.2,234.9" fill="#a21c14"/><polygon points="212.5,236.7 216.2,234.9 212.4,233.4 208.7,235.2" fill="#a21c14"/><polygon points="313.9,251 317.6,250.8 313.9,248.9 310.2,249.1" fill="#886420"/><polygon points="306.5,249.3 310.2,249.1 306.5,247.1 302.7,247.4" fill="#8d5822"/><polygon points="261.5,241.1 265.3,240.2 261.5,238.2 257.7,239.1" fill="#9b1b14"/><polygon points="254,240.2 257.7,239.1 253.9,237.2 250.2,238.2" fill="#9e1b14"/><polygon points="350.8,259.7 354.5,259.8 350.8,258.1 347.1,258" fill="#345e16"/><polygon points="343.5,258 347.1,258 343.5,256.3 339.8,256.2" fill="#506917"/><polygon points="336.1,256.2 339.8,256.2 336.1,254.4 332.4,254.4" fill="#6c7318"/><polygon points="328.7,254.5 332.4,254.4 328.7,252.6 325,252.6" fill="#7a731a"/><polygon points="321.3,252.7 325,252.6 321.3,250.7 317.6,250.8" fill="#826e1c"/><polygon points="299,247.7 302.7,247.4 299,245.4 295.3,245.7" fill="#904921"/><polygon points="291.5,246.2 295.3,245.7 291.5,243.7 287.8,244.2" fill="#8f3a1d"/><polygon points="284,244.7 287.8,244.2 284,242.2 280.3,242.7" fill="#8d2a19"/><polygon points="276.5,243.4 280.3,242.7 276.5,240.8 272.8,241.4" fill="#922417"/><polygon points="269,242.2 272.8,241.4 269,239.4 265.3,240.2" fill="#971e15"/><polygon points="246.4,239.4 250.2,238.2 246.4,236.4 242.6,237.5" fill="#a01c14"/><polygon points="238.9,238.8 242.6,237.5 238.8,235.7 235.1,237" fill="#a21c14"/><polygon points="231.3,238.5 235.1,237 231.3,235.2 227.5,236.7" fill="#a21c14"/><polygon points="223.8,238.3 227.5,236.7 223.8,235 220,236.6" fill="#a21c14"/><polygon points="216.3,238.4 220,236.6 216.2,234.9 212.5,236.7" fill="#a21c14"/><polygon points="310.2,251.3 313.9,251 310.2,249.1 306.5,249.3" fill="#916523"/><polygon points="257.7,242.1 261.5,241.1 257.7,239.1 254,240.2" fill="#9f1b14"/><polygon points="347.1,259.7 350.8,259.7 347.1,258 343.5,258" fill="#476918"/><polygon points="339.8,258 343.5,258 339.8,256.2 336.1,256.2" fill="#627419"/><polygon points="332.4,256.3 336.1,256.2 332.4,254.4 328.7,254.5" fill="#7c7a1a"/><polygon points="325,254.6 328.7,254.5 325,252.6 321.3,252.7" fill="#84771c"/><polygon points="317.6,252.9 321.3,252.7 317.6,250.8 313.9,251" fill="#8b701f"/><polygon points="302.7,249.7 306.5,249.3 302.7,247.4 299,247.7" fill="#945723"/><polygon points="295.3,248.2 299,247.7 295.3,245.7 291.5,246.2" fill="#954721"/><polygon points="287.8,246.7 291.5,246.2 287.8,244.2 284,244.7" fill="#93381d"/><polygon points="280.3,245.4 284,244.7 280.3,242.7 276.5,243.4" fill="#922a1a"/><polygon points="272.8,244.2 276.5,243.4 272.8,241.4 269,242.2" fill="#972517"/><polygon points="265.3,243.1 269,242.2 265.3,240.2 261.5,241.1" fill="#9b1f15"/><polygon points="250.2,241.3 254,240.2 250.2,238.2 246.4,239.4" fill="#a21c14"/><polygon points="242.7,240.7 246.4,239.4 242.6,237.5 238.9,238.8" fill="#a21c14"/><polygon points="235.1,240.3 238.9,238.8 235.1,237 231.3,238.5" fill="#a21c14"/><polygon points="227.6,240.1 231.3,238.5 227.5,236.7 223.8,238.3" fill="#a21c14"/><polygon points="220.1,240.1 223.8,238.3 220,236.6 216.3,238.4" fill="#a21c14"/><polygon points="343.4,259.7 347.1,259.7 343.5,258 339.8,258" fill="#58741a"/><polygon points="336.1,258.1 339.8,258 336.1,256.2 332.4,256.3" fill="#757e1b"/><polygon points="328.7,256.5 332.4,256.3 328.7,254.5 325,254.6" fill="#867f1c"/><polygon points="321.3,254.9 325,254.6 321.3,252.7 317.6,252.9" fill="#8e7b1e"/><polygon points="313.9,253.3 317.6,252.9 313.9,251 310.2,251.3" fill="#947222"/><polygon points="306.4,251.7 310.2,251.3 306.5,249.3 302.7,249.7" fill="#986526"/><polygon points="299,250.2 302.7,249.7 299,247.7 295.3,248.2" fill="#995624"/><polygon points="291.5,248.8 295.3,248.2 291.5,246.2 287.8,246.7" fill="#994622"/><polygon points="284,247.4 287.8,246.7 284,244.7 280.3,245.4" fill="#98381e"/><polygon points="276.5,246.2 280.3,245.4 276.5,243.4 272.8,244.2" fill="#972b1a"/><polygon points="269,245.1 272.8,244.2 269,242.2 265.3,243.1" fill="#9b2618"/><polygon points="261.5,244.1 265.3,243.1 261.5,241.1 257.7,242.1" fill="#a02117"/><polygon points="254,243.3 257.7,242.1 254,240.2 250.2,241.3" fill="#a21d15"/><polygon points="246.4,242.7 250.2,241.3 246.4,239.4 242.7,240.7" fill="#a21c14"/><polygon points="238.9,242.2 242.7,240.7 238.9,238.8 235.1,240.3" fill="#a21c14"/><polygon points="231.4,242 235.1,240.3 231.3,238.5 227.6,240.1" fill="#a21c14"/><polygon points="223.9,241.9 227.6,240.1 223.8,238.3 220.1,240.1" fill="#a21c14"/><polygon points="339.8,259.9 343.4,259.7 339.8,258 336.1,258.1" fill="#6a7e1b"/><polygon points="332.4,258.3 336.1,258.1 332.4,256.3 328.7,256.5" fill="#87871d"/><polygon points="325,256.7 328.7,256.5 325,254.6 321.3,254.9" fill="#8f841e"/><polygon points="317.6,255.2 321.3,254.9 317.6,252.9 313.9,253.3" fill="#967e20"/><polygon points="310.1,253.7 313.9,253.3 310.2,251.3 306.4,251.7" fill="#9a7224"/><polygon points="302.7,252.2 306.4,251.7 302.7,249.7 299,250.2" fill="#9d6527"/><polygon points="295.2,250.8 299,250.2 295.3,248.2 291.5,248.8" fill="#9e5625"/><polygon points="287.8,249.5 291.5,248.8 287.8,246.7 284,247.4" fill="#9e4722"/><polygon points="280.3,248.3 284,247.4 280.3,245.4 276.5,246.2" fill="#9c391e"/><polygon points="272.8,247.2 276.5,246.2 272.8,244.2 269,245.1" fill="#9b2d1b"/><polygon points="265.3,246.2 269,245.1 265.3,243.1 261.5,244.1" fill="#9f2819"/><polygon points="257.7,245.4 261.5,244.1 257.7,242.1 254,243.3" fill="#a02317"/><polygon points="250.2,244.7 254,243.3 250.2,241.3 246.4,242.7" fill="#a12016"/><polygon points="242.7,244.2 246.4,242.7 242.7,240.7 238.9,242.2" fill="#a21d15"/><polygon points="235.2,243.9 238.9,242.2 235.1,240.3 231.4,242" fill="#a21c14"/><polygon points="227.7,243.8 231.4,242 227.6,240.1 223.9,241.9" fill="#a21c14"/><polygon points="336.1,260.1 339.8,259.9 336.1,258.1 332.4,258.3" fill="#7b881d"/><polygon points="328.7,258.6 332.4,258.3 328.7,256.5 325,256.7" fill="#8f8b1e"/><polygon points="321.3,257.1 325,256.7 321.3,254.9 317.6,255.2" fill="#978620"/><polygon points="313.8,255.6 317.6,255.2 313.9,253.3 310.1,253.7" fill="#9c7e22"/><polygon points="306.4,254.2 310.1,253.7 306.4,251.7 302.7,252.2" fill="#9f7226"/><polygon points="299,252.8 302.7,252.2 299,250.2 295.2,250.8" fill="#a16527"/><polygon points="291.5,251.5 295.2,250.8 291.5,248.8 287.8,249.5" fill="#a25625"/><polygon points="284,250.3 287.8,249.5 284,247.4 280.3,248.3" fill="#a24823"/><polygon points="276.5,249.2 280.3,248.3 276.5,246.2 272.8,247.2" fill="#a13c20"/><polygon points="269,248.3 272.8,247.2 269,245.1 265.3,246.2" fill="#9f301c"/><polygon points="261.5,247.4 265.3,246.2 261.5,244.1 257.7,245.4" fill="#9f2a1a"/><polygon points="254,246.7 257.7,245.4 254,243.3 250.2,244.7" fill="#a02619"/><polygon points="246.5,246.2 250.2,244.7 246.4,242.7 242.7,244.2" fill="#a02317"/><polygon points="239,245.9 242.7,244.2 238.9,242.2 235.2,243.9" fill="#a12117"/><polygon points="231.5,245.8 235.2,243.9 231.4,242 227.7,243.8" fill="#a12116"/><polygon points="332.4,260.4 336.1,260.1 332.4,258.3 328.7,258.6" fill="#8b8f1e"/><polygon points="325,259 328.7,258.6 325,256.7 321.3,257.1" fill="#968d20"/><polygon points="317.5,257.6 321.3,257.1 317.6,255.2 313.8,255.6" fill="#9d8821"/><polygon points="295.2,253.6 299,252.8 295.2,250.8 291.5,251.5" fill="#a66628"/><polygon points="287.7,252.4 291.5,251.5 287.8,249.5 284,250.3" fill="#a75826"/><polygon points="280.3,251.3 284,250.3 280.3,248.3 276.5,249.2" fill="#a74b24"/><polygon points="272.8,250.4 276.5,249.2 272.8,247.2 269,248.3" fill="#a43f21"/><polygon points="250.3,248.3 254,246.7 250.2,244.7 246.5,246.2" fill="#9f2a1a"/><polygon points="242.7,247.9 246.5,246.2 242.7,244.2 239,245.9" fill="#9f2819"/><polygon points="235.2,247.7 239,245.9 235.2,243.9 231.5,245.8" fill="#a02719"/><polygon points="310.1,256.2 313.8,255.6 310.1,253.7 306.4,254.2" fill="#a17f24"/><polygon points="302.7,254.9 306.4,254.2 302.7,252.2 299,252.8" fill="#a47328"/><polygon points="265.3,249.5 269,248.3 265.3,246.2 261.5,247.4" fill="#a0341e"/><polygon points="257.8,248.8 261.5,247.4 257.7,245.4 254,246.7" fill="#9e2d1b"/><polygon points="328.6,260.8 332.4,260.4 328.7,258.6 325,259" fill="#959420"/><polygon points="321.2,259.5 325,259 321.3,257.1 317.5,257.6" fill="#9c9021"/><polygon points="313.8,258.1 317.5,257.6 313.8,255.6 310.1,256.2" fill="#a38a23"/><polygon points="306.4,256.8 310.1,256.2 306.4,254.2 302.7,254.9" fill="#a68026"/><polygon points="298.9,255.6 302.7,254.9 299,252.8 295.2,253.6" fill="#a9742a"/><polygon points="291.5,254.5 295.2,253.6 291.5,251.5 287.7,252.4" fill="#aa6829"/><polygon points="284,253.4 287.7,252.4 284,250.3 280.3,251.3" fill="#ab5b27"/><polygon points="276.5,252.4 280.3,251.3 276.5,249.2 272.8,250.4" fill="#a94e25"/><polygon points="269,251.6 272.8,250.4 269,248.3 265.3,249.5" fill="#a54322"/><polygon points="261.5,250.9 265.3,249.5 261.5,247.4 257.8,248.8" fill="#a23a1f"/><polygon points="254,250.4 257.8,248.8 254,246.7 250.3,248.3" fill="#a0331d"/><polygon points="246.5,250 250.3,248.3 246.5,246.2 242.7,247.9" fill="#9e2e1c"/><polygon points="239,249.8 242.7,247.9 239,245.9 235.2,247.7" fill="#9e2d1b"/><polygon points="324.9,261.3 328.6,260.8 325,259 321.2,259.5" fill="#9b9621"/><polygon points="287.7,255.5 291.5,254.5 287.7,252.4 284,253.4" fill="#af6c2a"/><polygon points="280.2,254.5 284,253.4 280.3,251.3 276.5,252.4" fill="#ad5f28"/><polygon points="242.8,251.9 246.5,250 242.7,247.9 239,249.8" fill="#a23a1f"/><polygon points="317.5,260 321.2,259.5 317.5,257.6 313.8,258.1" fill="#a29222"/><polygon points="310.1,258.8 313.8,258.1 310.1,256.2 306.4,256.8" fill="#a88c24"/><polygon points="302.6,257.6 306.4,256.8 302.7,254.9 298.9,255.6" fill="#ab8227"/><polygon points="295.2,256.5 298.9,255.6 295.2,253.6 291.5,254.5" fill="#ae772b"/><polygon points="272.8,253.7 276.5,252.4 272.8,250.4 269,251.6" fill="#aa5326"/><polygon points="265.3,253 269,251.6 265.3,249.5 261.5,250.9" fill="#a84924"/><polygon points="257.8,252.5 261.5,250.9 257.8,248.8 254,250.4" fill="#a54222"/><polygon points="250.3,252.1 254,250.4 250.3,248.3 246.5,250" fill="#a33d20"/><polygon points="321.2,261.9 324.9,261.3 321.2,259.5 317.5,260" fill="#a19922"/><polygon points="313.8,260.7 317.5,260 313.8,258.1 310.1,258.8" fill="#a79523"/><polygon points="306.3,259.6 310.1,258.8 306.4,256.8 302.6,257.6" fill="#ac8e25"/><polygon points="298.9,258.5 302.6,257.6 298.9,255.6 295.2,256.5" fill="#b08529"/><polygon points="291.4,257.5 295.2,256.5 291.5,254.5 287.7,255.5" fill="#b27b2c"/><polygon points="284,256.6 287.7,255.5 284,253.4 280.2,254.5" fill="#b16f2b"/><polygon points="276.5,255.8 280.2,254.5 276.5,252.4 272.8,253.7" fill="#ae6429"/><polygon points="269,255.1 272.8,253.7 269,251.6 265.3,253" fill="#ac5a27"/><polygon points="261.5,254.6 265.3,253 261.5,250.9 257.8,252.5" fill="#aa5226"/><polygon points="254,254.2 257.8,252.5 254,250.4 250.3,252.1" fill="#a94c25"/><polygon points="246.6,254 250.3,252.1 246.5,250 242.8,251.9" fill="#a84924"/><polygon points="317.5,262.6 321.2,261.9 317.5,260 313.8,260.7" fill="#a69c23"/><polygon points="310.1,261.5 313.8,260.7 310.1,258.8 306.3,259.6" fill="#ac9825"/><polygon points="302.6,260.5 306.3,259.6 302.6,257.6 298.9,258.5" fill="#b19226"/><polygon points="295.2,259.6 298.9,258.5 295.2,256.5 291.4,257.5" fill="#b48929"/><polygon points="287.7,258.7 291.4,257.5 287.7,255.5 284,256.6" fill="#b47e2c"/><polygon points="280.2,257.9 284,256.6 280.2,254.5 276.5,255.8" fill="#b2742c"/><polygon points="272.8,257.3 276.5,255.8 272.8,253.7 269,255.1" fill="#b06a2a"/><polygon points="265.3,256.7 269,255.1 265.3,253 261.5,254.6" fill="#ae6229"/><polygon points="257.8,256.3 261.5,254.6 257.8,252.5 254,254.2" fill="#ad5c28"/><polygon points="250.3,256.1 254,254.2 250.3,252.1 246.6,254" fill="#ac5927"/><polygon points="313.7,263.4 317.5,262.6 313.8,260.7 310.1,261.5" fill="#aba024"/><polygon points="306.3,262.5 310.1,261.5 306.3,259.6 302.6,260.5" fill="#b19c26"/><polygon points="298.9,261.6 302.6,260.5 298.9,258.5 295.2,259.6" fill="#b59627"/><polygon points="291.4,260.7 295.2,259.6 291.4,257.5 287.7,258.7" fill="#b68d29"/><polygon points="276.5,259.4 280.2,257.9 276.5,255.8 272.8,257.3" fill="#b37a2c"/><polygon points="269,258.8 272.8,257.3 269,255.1 265.3,256.7" fill="#b2732c"/><polygon points="261.6,258.5 265.3,256.7 261.5,254.6 257.8,256.3" fill="#b06d2b"/><polygon points="254.1,258.2 257.8,256.3 254,254.2 250.3,256.1" fill="#af692a"/><polygon points="284,260 287.7,258.7 284,256.6 280.2,257.9" fill="#b4832b"/><polygon points="310,264.4 313.7,263.4 310.1,261.5 306.3,262.5" fill="#b0a425"/><polygon points="302.6,263.5 306.3,262.5 302.6,260.5 298.9,261.6" fill="#b5a026"/><polygon points="295.1,262.7 298.9,261.6 295.2,259.6 291.4,260.7" fill="#b89b27"/><polygon points="287.7,262 291.4,260.7 287.7,258.7 284,260" fill="#b69129"/><polygon points="280.2,261.4 284,260 280.2,257.9 276.5,259.4" fill="#b5892a"/><polygon points="272.8,261 276.5,259.4 272.8,257.3 269,258.8" fill="#b4822b"/><polygon points="265.3,260.6 269,258.8 265.3,256.7 261.6,258.5" fill="#b37d2c"/><polygon points="257.8,260.4 261.6,258.5 257.8,256.3 254.1,258.2" fill="#b3792c"/><polygon points="306.3,265.4 310,264.4 306.3,262.5 302.6,263.5" fill="#b4a926"/><polygon points="298.8,264.7 302.6,263.5 298.9,261.6 295.1,262.7" fill="#b8a527"/><polygon points="269,262.7 272.8,261 269,258.8 265.3,260.6" fill="#b68b2a"/><polygon points="261.6,262.5 265.3,260.6 261.6,258.5 257.8,260.4" fill="#b5882a"/><polygon points="291.4,264.1 295.1,262.7 291.4,260.7 287.7,262" fill="#b89e27"/><polygon points="283.9,263.5 287.7,262 284,260 280.2,261.4" fill="#b79728"/><polygon points="276.5,263 280.2,261.4 276.5,259.4 272.8,261" fill="#b69029"/><polygon points="302.5,266.6 306.3,265.4 302.6,263.5 298.8,264.7" fill="#b8ae27"/><polygon points="295.1,266 298.8,264.7 295.1,262.7 291.4,264.1" fill="#b8a827"/><polygon points="287.7,265.5 291.4,264.1 287.7,262 283.9,263.5" fill="#b8a227"/><polygon points="280.2,265.1 283.9,263.5 280.2,261.4 276.5,263" fill="#b89e27"/><polygon points="272.8,264.8 276.5,263 272.8,261 269,262.7" fill="#b89a27"/><polygon points="265.3,264.6 269,262.7 265.3,260.6 261.6,262.5" fill="#b79728"/><polygon points="298.8,268 302.5,266.6 298.8,264.7 295.1,266" fill="#b8b127"/><polygon points="291.4,267.5 295.1,266 291.4,264.1 287.7,265.5" fill="#b8ac27"/><polygon points="283.9,267.1 287.7,265.5 283.9,263.5 280.2,265.1" fill="#b8a827"/><polygon points="276.5,266.9 280.2,265.1 276.5,263 272.8,264.8" fill="#b8a527"/><polygon points="269,266.7 272.8,264.8 269,262.7 265.3,264.6" fill="#b8a327"/><polygon points="295.1,269.4 298.8,268 295.1,266 291.4,267.5" fill="#b8b527"/><polygon points="287.6,269.1 291.4,267.5 287.7,265.5 283.9,267.1" fill="#b8b227"/><polygon points="280.2,268.9 283.9,267.1 280.2,265.1 276.5,266.9" fill="#b8af27"/><polygon points="272.8,268.8 276.5,266.9 272.8,264.8 269,266.7" fill="#b8ad27"/><polygon points="291.3,271 295.1,269.4 291.4,267.5 287.6,269.1" fill="#b7ba27"/><polygon points="283.9,270.9 287.6,269.1 283.9,267.1 280.2,268.9" fill="#b8b827"/><polygon points="276.5,270.8 280.2,268.9 276.5,266.9 272.8,268.8" fill="#b8b727"/><polygon points="287.6,272.8 291.3,271 287.6,269.1 283.9,270.9" fill="#aaba28"/><polygon points="280.2,272.8 283.9,270.9 280.2,268.9 276.5,270.8" fill="#acba28"/><polygon points="283.9,274.7 287.6,272.8 283.9,270.9 280.2,272.8" fill="#9aba28"/></g>
<path d="M171.5 225.7 L172.5 225.3 L173.5 224.9 L174.5 224.3 L175.5 223.9 L176.5 223.6 L177.5 223.2 L178.5 222.9 L179.5 222.6 L180.5 222.3 L181.5 221.8 L182.5 221.5 L183.5 221.3 L184.5 221 L185.5 220.8 L186.5 220.5 L187.5 220.3 L188.5 220 L189.5 219.8 L190.5 219.6 L191.5 219.5 L192.5 219.3 L193.5 219.1 L194.5 219 L195.5 218.9 L196.5 218.7 L197.5 218.6 L198.5 218.5 L199.5 218.4 L200.5 218.3 L201.5 218.3 L202.5 218.2 L203.5 218.2 L204.5 218.1 L205.5 218.1 L206.5 218.1 L207.5 218.1 L208.5 218.1 L209.5 218.1 L210.5 218.1 L211.5 218.1 L212.5 218.2 L213.5 218.2 L214.5 218.2 L215.5 218.3 L216.5 218.3 L217.5 218.3 L218.5 218.4 L219.5 218.4 L220.5 218.5 L221.5 218.5 L222.5 218.6 L223.5 218.7 L224.5 218.8 L225.5 218.8 L226.5 218.9 L227.5 219 L228.5 219.1 L229.5 219.1 L230.5 219.2 L231.5 219.3 L232.5 219.4 L233.5 219.6 L234.5 219.7 L235.5 219.8 L236.5 219.9 L237.5 220 L238.5 220.1 L239.5 220.2 L240.5 220.4 L241.5 220.5 L242.5 220.7 L243.5 220.8 L244.5 220.9 L245.5 221.1 L246.5 221.2 L247.5 221.4 L248.5 221.5 L249.5 221.7 L250.5 221.9 L251.5 222.1 L252.5 222.2 L253.5 222.4 L254.5 222.5 L255.5 222.7 L256.5 222.9 L257.5 223 L258.5 223.2 L259.5 223.5 L260.5 223.7 L261.5 223.8 L262.5 224 L263.5 224.2 L264.5 224.4 L265.5 224.6 L266.5 224.8 L267.5 225.1 L268.5 225.3 L269.5 225.5 L270.5 225.7 L271.5 225.9 L272.5 226.1 L273.5 226.3 L274.5 226.5 L275.5 226.9 L276.5 227.1 L277.5 227.3 L278.5 227.5 L279.5 227.8 L280.5 228 L281.5 228.2 L282.5 228.5 L283.5 228.8 L284.5 229 L285.5 229.2 L286.5 229.5 L287.5 229.7 L288.5 230 L289.5 230.2 L290.5 230.6 L291.5 230.8 L292.5 231.1 L293.5 231.3 L294.5 231.6 L295.5 231.8 L296.5 232.1 L297.5 232.4 L298.5 232.7 L299.5 233 L300.5 233.2 L301.5 233.5 L302.5 233.7 L303.5 234.1 L304.5 234.4 L305.5 234.7 L306.5 234.9 L307.5 235.2 L308.5 235.5 L309.5 235.7 L310.5 236.1 L311.5 236.4 L312.5 236.7 L313.5 236.9 L314.5 237.2 L315.5 237.5 L316.5 237.9 L317.5 238.2 L318.5 238.4 L319.5 238.7 L320.5 239 L321.5 239.3 L322.5 239.7 L323.5 240 L324.5 240.3 L325.5 240.5 L326.5 240.8 L327.5 241.1 L328.5 241.5 L329.5 241.8 L330.5 242.1 L331.5 242.4 L332.5 242.6 L333.5 243.1 L334.5 243.3 L335.5 243.6 L336.5 243.9 L337.5 244.2 L338.5 244.5 L339.5 244.9 L340.5 245.2 L341.5 245.5 L342.5 245.8 L343.5 246.1 L344.5 246.5 L345.5 246.7 L346.5 247 L347.5 247.3 L348.5 247.6 L349.5 248 L350.5 248.3 L351.5 248.6 L352.5 248.9 L353.5 249.2 L354.5 249.6 L355.5 249.9 L356.5 250.2 L357.5 250.5 L358.5 250.9 L359.5 251.3 L360.5 251.6 L361.5 252 L362.5 252.3 L363.5 252.6 L364.5 253.1 L365.5 253.4 L366.5 253.7 L367.5 254.1 L368.5 254.4 L369.5 254.9 L370.5 255.2 L371.5 255.5 L372.5 255.9 L373.5 256.2 L374.5 256.7 L375.5 257 L376.5 257.4 L377.5 257.7 L378.5 258 L379.5 258.5 L380.5 258.9 L381.5 259.2 L382.5 259.5 L383.5 259.9 L384.5 260.3 L385.5 260.7 L386.5 261 L387.5 261.3 L388.5 261.6 L389.5 262.1 L390.5 262.4 L391.5 262.8 L392.5 263.1 L393.5 263.4 L394 263.7 L393 263.5 L392 263.4 L391 263.2 L390 263.1 L389 262.9 L388 262.8 L387 262.7 L386 262.6 L385 262.4 L384 262.3 L383 262.2 L382 262.1 L381 262 L380 261.8 L379 261.7 L378 261.6 L377 261.5 L376 261.3 L375 261.2 L374 261.1 L373 261 L372 261 L371 260.8 L370 260.7 L369 260.7 L368 260.6 L367 260.2 L366 259.8 L365 259.4 L364 258.8 L363 258.4 L362 258 L361 257.6 L360 257.2 L359 256.8 L358 256.3 L357 255.9 L356 255.6 L355 255.2 L354 254.8 L353 254.3 L352 253.9 L351 253.6 L350 253.2 L349 252.9 L348 252.5 L347 252.2 L346 251.9 L345 251.6 L344 251.3 L343 250.8 L342 250.5 L341 250.2 L340 249.9 L339 249.7 L338 249.2 L337 248.9 L336 248.6 L335 248.3 L334 248 L333 247.6 L332 247.3 L331 247 L330 246.7 L329 246.4 L328 246.1 L327 245.7 L326 245.4 L325 245.1 L324 244.8 L323 244.5 L322 244.2 L321 243.8 L320 243.5 L319 243.2 L318 242.9 L317 242.6 L316 242.3 L315 241.9 L314 241.6 L313 241.3 L312 241.1 L311 240.8 L310 240.5 L309 240.1 L308 239.8 L307 239.5 L306 239.2 L305 238.9 L304 238.7 L303 238.3 L302 238 L301 237.7 L300 237.4 L299 237.2 L298 236.9 L297 236.6 L296 236.2 L295 236 L294 235.7 L293 235.4 L292 235.2 L291 234.9 L290 234.7 L289 234.3 L288 234 L287 233.8 L286 233.5 L285 233.3 L284 233 L283 232.8 L282 232.4 L281 232.2 L280 231.9 L279 231.7 L278 231.5 L277 231.2 L276 231 L275 230.8 L274 230.4 L273 230.2 L272 230 L271 229.8 L270 229.5 L269 229.3 L268 229.1 L267 228.9 L266 228.6 L265 228.4 L264 228.2 L263 228 L262 227.8 L261 227.6 L260 227.4 L259 227.2 L258 226.9 L257 226.7 L256 226.5 L255 226.3 L254 226.1 L253 226 L252 225.8 L251 225.6 L250 225.4 L249 225.2 L248 225 L247 224.9 L246 224.7 L245 224.6 L244 224.4 L243 224.3 L242 224.1 L241 223.9 L240 223.8 L239 223.6 L238 223.5 L237 223.4 L236 223.3 L235 223.1 L234 223 L233 222.9 L232 222.7 L231 222.6 L230 222.5 L229 222.4 L228 222.3 L227 222.2 L226 222.1 L225 222 L224 222 L223 221.9 L222 221.8 L221 221.7 L220 221.6 L219 221.6 L218 221.5 L217 221.5 L216 221.4 L215 221.3 L214 221.3 L213 221.2 L212 221.2 L211 221.2 L210 221.1 L209 221.1 L208 221.1 L207 221.1 L206 221.1 L205 221.1 L204 221.1 L203 221.1 L202 221.2 L201 221.2 L200 221.3 L199 221.3 L198 221.4 L197 221.5 L196 221.6 L195 221.7 L194 221.8 L193 222 L192 222.1 L191 222.3 L190 222.4 L189 222.6 L188 222.8 L187 223.1 L186 223.3 L185 223.5 L184 223.7 L183 224 L182 224.2 L181 224.5 L180 224.9 L179 225.3 L178 225.6 L177 226 L176 226.4 L175 226.3 L174 226.1 L173 226 L172 226Z" fill="#000" fill-opacity="0.35"/>
<path d="M171.5 225.7 L172.5 225.3 L173.5 224.9 L174.5 224.3 L175.5 223.9 L176.5 223.6 L177.5 223.2 L178.5 222.9 L179.5 222.6 L180.5 222.3 L181.5 221.8 L182.5 221.5 L183.5 221.3 L184.5 221 L185.5 220.8 L186.5 220.5 L187.5 220.3 L188.5 220 L189.5 219.8 L190.5 219.6 L191.5 219.5 L192.5 219.3 L193.5 219.1 L194.5 219 L195.5 218.9 L196.5 218.7 L197.5 218.6 L198.5 218.5 L199.5 218.4 L200.5 218.3 L201.5 218.3 L202.5 218.2 L203.5 218.2 L204.5 218.1 L205.5 218.1 L206.5 218.1 L207.5 218.1 L208.5 218.1 L209.5 218.1 L210.5 218.1 L211.5 218.1 L212.5 218.2 L213.5 218.2 L214.5 218.2 L215.5 218.3 L216.5 218.3 L217.5 218.3 L218.5 218.4 L219.5 218.4 L220.5 218.5 L221.5 218.5 L222.5 218.6 L223.5 218.7 L224.5 218.8 L225.5 218.8 L226.5 218.9 L227.5 219 L228.5 219.1 L229.5 219.1 L230.5 219.2 L231.5 219.3 L232.5 219.4 L233.5 219.6 L234.5 219.7 L235.5 219.8 L236.5 219.9 L237.5 220 L238.5 220.1 L239.5 220.2 L240.5 220.4 L241.5 220.5 L242.5 220.7 L243.5 220.8 L244.5 220.9 L245.5 221.1 L246.5 221.2 L247.5 221.4 L248.5 221.5 L249.5 221.7 L250.5 221.9 L251.5 222.1 L252.5 222.2 L253.5 222.4 L254.5 222.5 L255.5 222.7 L256.5 222.9 L257.5 223 L258.5 223.2 L259.5 223.5 L260.5 223.7 L261.5 223.8 L262.5 224 L263.5 224.2 L264.5 224.4 L265.5 224.6 L266.5 224.8 L267.5 225.1 L268.5 225.3 L269.5 225.5 L270.5 225.7 L271.5 225.9 L272.5 226.1 L273.5 226.3 L274.5 226.5 L275.5 226.9 L276.5 227.1 L277.5 227.3 L278.5 227.5 L279.5 227.8 L280.5 228 L281.5 228.2 L282.5 228.5 L283.5 228.8 L284.5 229 L285.5 229.2 L286.5 229.5 L287.5 229.7 L288.5 230 L289.5 230.2 L290.5 230.6 L291.5 230.8 L292.5 231.1 L293.5 231.3 L294.5 231.6 L295.5 231.8 L296.5 232.1 L297.5 232.4 L298.5 232.7 L299.5 233 L300.5 233.2 L301.5 233.5 L302.5 233.7 L303.5 234.1 L304.5 234.4 L305.5 234.7 L306.5 234.9 L307.5 235.2 L308.5 235.5 L309.5 235.7 L310.5 236.1 L311.5 236.4 L312.5 236.7 L313.5 236.9 L314.5 237.2 L315.5 237.5 L316.5 237.9 L317.5 238.2 L318.5 238.4 L319.5 238.7 L320.5 239 L321.5 239.3 L322.5 239.7 L323.5 240 L324.5 240.3 L325.5 240.5 L326.5 240.8 L327.5 241.1 L328.5 241.5 L329.5 241.8 L330.5 242.1 L331.5 242.4 L332.5 242.6 L333.5 243.1 L334.5 243.3 L335.5 243.6 L336.5 243.9 L337.5 244.2 L338.5 244.5 L339.5 244.9 L340.5 245.2 L341.5 245.5 L342.5 245.8 L343.5 246.1 L344.5 246.5 L345.5 246.7 L346.5 247 L347.5 247.3 L348.5 247.6 L349.5 248 L350.5 248.3 L351.5 248.6 L352.5 248.9 L353.5 249.2 L354.5 249.6 L355.5 249.9 L356.5 250.2 L357.5 250.5 L358.5 250.9 L359.5 251.3 L360.5 251.6 L361.5 252 L362.5 252.3 L363.5 252.6 L364.5 253.1 L365.5 253.4 L366.5 253.7 L367.5 254.1 L368.5 254.4 L369.5 254.9 L370.5 255.2 L371.5 255.5 L372.5 255.9 L373.5 256.2 L374.5 256.7 L375.5 257 L376.5 257.4 L377.5 257.7 L378.5 258 L379.5 258.5 L380.5 258.9 L381.5 259.2 L382.5 259.5 L383.5 259.9 L384.5 260.3 L385.5 260.7 L386.5 261 L387.5 261.3 L388.5 261.6 L389.5 262.1 L390.5 262.4 L391.5 262.8 L392.5 263.1 L393.5 263.4 L394 263.7 L393 263.5 L392 263.4 L391 263.2 L390 263.1 L389 262.9 L388 262.8 L387 262.7 L386 262.6 L385 262.4 L384 262.3 L383 262.2 L382 262.1 L381 262 L380 261.8 L379 261.7 L378 261.6 L377 261.4 L376 261 L375 260.7 L374 260.1 L373 259.8 L372 259.4 L371 259 L370 258.6 L369 258.1 L368 257.7 L367 257.4 L366 257 L365 256.6 L364 256.1 L363 255.8 L362 255.4 L361 255 L360 254.7 L359 254.2 L358 253.8 L357 253.5 L356 253.1 L355 252.8 L354 252.4 L353 251.9 L352 251.6 L351 251.3 L350 251 L349 250.7 L348 250.2 L347 249.9 L346 249.7 L345 249.4 L344 249.1 L343 248.6 L342 248.4 L341 248.1 L340 247.8 L339 247.5 L338 247 L337 246.8 L336 246.5 L335 246.2 L334 245.9 L333 245.5 L332 245.2 L331 244.9 L330 244.6 L329 244.3 L328 244 L327 243.6 L326 243.3 L325 243 L324 242.7 L323 242.4 L322 242.1 L321 241.7 L320 241.4 L319 241.1 L318 240.9 L317 240.6 L316 240.2 L315 239.9 L314 239.6 L313 239.3 L312 239 L311 238.8 L310 238.5 L309 238.1 L308 237.8 L307 237.5 L306 237.3 L305 237 L304 236.7 L303 236.3 L302 236 L301 235.8 L300 235.5 L299 235.2 L298 235 L297 234.7 L296 234.3 L295 234.1 L294 233.8 L293 233.6 L292 233.3 L291 233 L290 232.8 L289 232.4 L288 232.2 L287 231.9 L286 231.7 L285 231.4 L284 231.2 L283 231 L282 230.6 L281 230.4 L280 230.1 L279 229.9 L278 229.7 L277 229.4 L276 229.2 L275 229 L274 228.7 L273 228.4 L272 228.2 L271 228 L270 227.8 L269 227.6 L268 227.4 L267 227.2 L266 226.9 L265 226.7 L264 226.5 L263 226.3 L262 226.1 L261 225.9 L260 225.7 L259 225.5 L258 225.2 L257 225 L256 224.9 L255 224.7 L254 224.5 L253 224.3 L252 224.2 L251 224 L250 223.8 L249 223.6 L248 223.4 L247 223.3 L246 223.1 L245 223 L244 222.8 L243 222.7 L242 222.6 L241 222.4 L240 222.2 L239 222.1 L238 222 L237 221.9 L236 221.7 L235 221.6 L234 221.5 L233 221.4 L232 221.2 L231 221.1 L230 221 L229 220.9 L228 220.9 L227 220.8 L226 220.7 L225 220.6 L224 220.5 L223 220.4 L222 220.3 L221 220.3 L220 220.2 L219 220.2 L218 220.1 L217 220.1 L216 220 L215 220 L214 219.9 L213 219.9 L212 219.9 L211 219.8 L210 219.8 L209 219.8 L208 219.8 L207 219.8 L206 219.8 L205 219.8 L204 219.8 L203 219.8 L202 219.9 L201 219.9 L200 220 L199 220 L198 220.1 L197 220.2 L196 220.4 L195 220.5 L194 220.6 L193 220.7 L192 220.9 L191 221 L190 221.2 L189 221.4 L188 221.6 L187 221.9 L186 222.1 L185 222.3 L184 222.6 L183 222.8 L182 223.1 L181 223.4 L180 223.8 L179 224.1 L178 224.5 L177 224.8 L176 225.2 L175 225.6 L174 226.1 L173 226 L172 226Z" fill="#000" fill-opacity="0.8"/>
<ellipse cx="284" cy="229.8" rx="2" ry="1.6" fill="#f01010"/>
<g font-family="Liberation Sans, sans-serif" font-size="5" fill="#6a6a6a"><text x="173.6" y="286.9" text-anchor="end">0.0</text><text x="172.7" y="274.6" text-anchor="end">0.5</text><text x="171.7" y="262.4" text-anchor="end">1.0</text><text x="170.7" y="250.1" text-anchor="end">1.5</text><text x="169.7" y="237.8" text-anchor="end">2.0</text><text x="168.8" y="225.6" text-anchor="end">2.5</text><text x="167.8" y="213.3" text-anchor="end">3.0</text><text x="175.4" y="316.2" text-anchor="end">97</text><text x="196.6" y="323" text-anchor="end">80</text><text x="217.8" y="329.8" text-anchor="end">63</text><text x="238.9" y="336.5" text-anchor="end">47</text><text x="260.1" y="343.3" text-anchor="end">30</text><text x="281.3" y="350.1" text-anchor="end">13</text><text x="286.1" y="350.1">10</text><text x="312.7" y="341.8">22</text><text x="339.4" y="333.4">35</text><text x="366.1" y="325">48</text><text x="392.7" y="316.7">60</text></g>
<g font-family="Liberation Serif, serif" font-weight="bold" font-size="14" fill="#141420"><text x="176.2" y="353.7">C = Ethanol</text><text x="307.6" y="357.7">B = Temperature</text><text transform="translate(154.9,314.5) rotate(-90)" x="0" y="0" font-size="14.4">Lycopene (µg/g)</text></g>
<text x="148" y="206.6" font-family="Liberation Serif, serif" font-weight="bold" font-size="11.5" fill="#ff1010">(C)</text>
</svg>
</body></html>
